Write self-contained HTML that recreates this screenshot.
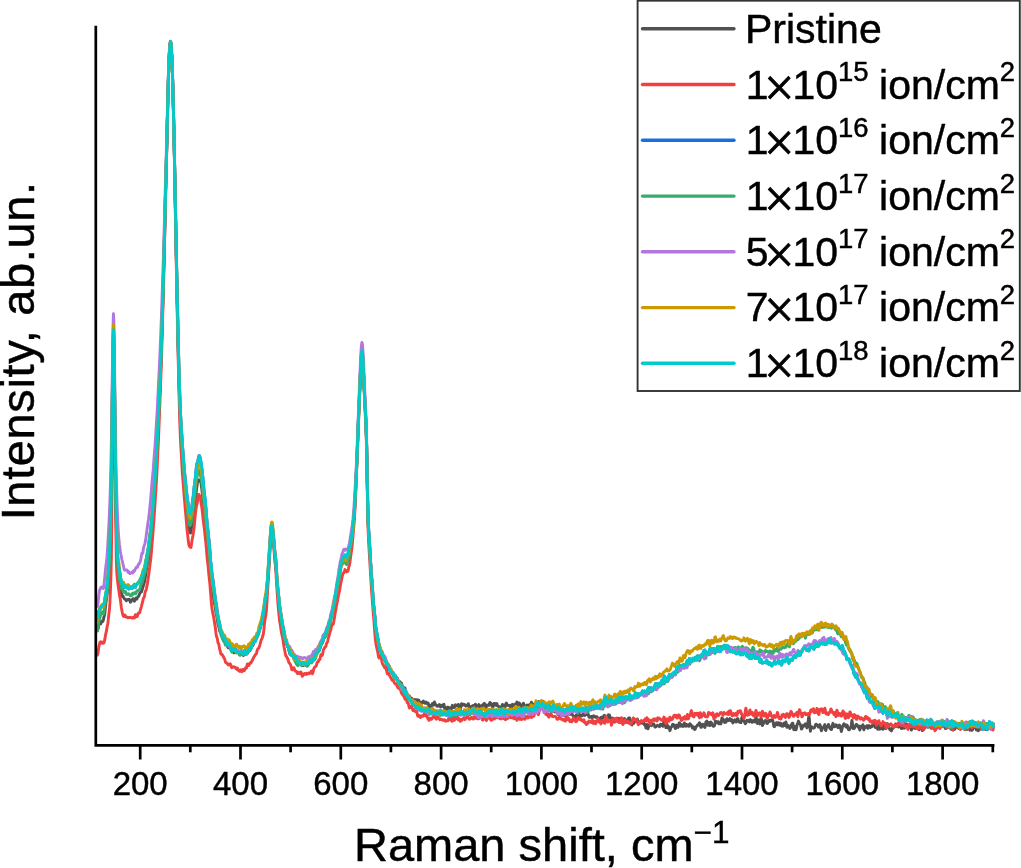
<!DOCTYPE html>
<html lang="en">
<head>
<meta charset="utf-8">
<title>Raman spectra</title>
<style>
html,body{margin:0;padding:0;background:#fff;}
body{width:1021px;height:868px;overflow:hidden;font-family:"Liberation Sans",sans-serif;}
svg{display:block;}
svg text{font-family:"Liberation Sans",sans-serif;fill:#000;stroke:#000;stroke-width:0.45px;}
.curves path{fill:none;stroke-width:2.9;stroke-linejoin:round;stroke-linecap:round;}
.axis line,.axis path{stroke:#000;stroke-width:2.7;fill:none;stroke-linecap:butt;}
.ticklabels text{font-size:33px;}
.legend text{font-size:41px;}
.legend .sup{font-size:27.5px;}
.legend .mul{font-size:54px;font-family:"Liberation Serif",serif;stroke-width:0.8px;}
.title{font-size:47px;}
.title .sup{font-size:31.5px;}
</style>
</head>
<body>
<svg width="1021" height="868" viewBox="0 0 1021 868">
<rect x="0" y="0" width="1021" height="868" fill="#ffffff"/>
<g class="curves">
<path d="M97.4,630.9 97.9,629.4 98.4,626.9 98.9,624.6 99.4,622.8 99.9,622.0 100.4,623.1 100.9,623.6 101.4,621.9 101.9,621.0 102.4,621.6 102.9,621.4 103.4,619.6 103.9,617.1 104.4,615.3 104.9,612.4 105.4,607.5 105.9,603.2 106.4,599.5 106.9,595.5 107.4,591.7 107.9,587.3 108.4,581.4 108.9,574.8 109.4,567.0 109.9,553.8 110.4,534.7 110.9,511.9 111.4,482.2 111.9,442.8 112.4,397.6 112.9,357.4 113.4,336.6 113.9,346.8 114.4,382.7 114.9,427.0 115.4,469.9 115.9,505.6 116.4,531.9 116.9,551.8 117.4,565.1 117.9,571.3 118.4,574.4 118.9,579.0 119.4,583.5 119.9,585.8 120.4,589.0 120.9,591.3 121.4,593.3 121.9,596.3 122.4,596.6 122.9,595.7 123.4,597.0 123.9,598.2 124.4,598.6 124.9,599.1 125.4,599.4 125.9,600.4 126.4,600.7 126.9,599.7 127.4,599.5 127.9,599.8 128.4,599.7 128.9,599.2 129.4,599.5 129.9,600.8 130.4,602.2 130.9,601.8 131.4,599.8 131.9,599.7 132.4,599.9 132.9,598.7 133.4,598.9 133.9,600.3 134.4,601.2 134.9,600.5 135.4,599.0 135.9,598.1 136.4,598.6 136.9,599.0 137.4,597.6 137.9,596.6 138.4,596.5 138.9,595.7 139.4,594.2 139.9,593.0 140.4,592.4 140.9,592.1 141.4,592.0 141.9,590.6 142.4,588.7 142.9,587.1 143.4,585.5 143.9,584.2 144.4,582.3 144.9,579.5 145.4,576.5 145.9,573.7 146.4,569.6 146.9,566.3 147.4,564.5 147.9,562.2 148.4,560.7 148.9,558.2 149.4,552.8 149.9,547.9 150.4,544.6 150.9,540.3 151.4,534.8 151.9,529.6 152.4,524.6 152.9,518.1 153.4,510.7 153.9,504.2 154.4,497.1 154.9,489.3 155.4,481.7 155.9,473.9 156.4,466.0 156.9,456.9 157.4,446.5 157.9,435.9 158.4,424.5 158.9,412.1 159.4,400.9 159.9,389.1 160.4,375.8 160.9,362.5 161.4,348.1 161.9,333.1 162.4,317.2 162.9,300.5 163.4,281.6 163.9,261.8 164.4,243.7 164.9,223.6 165.4,200.8 165.9,180.2 166.4,160.7 166.9,140.6 167.4,118.9 167.9,97.7 168.4,78.6 168.9,62.9 169.4,50.9 169.9,44.1 170.4,42.4 170.9,44.1 171.4,49.8 171.9,59.1 172.4,72.0 172.9,89.1 173.4,109.4 173.9,131.9 174.4,156.6 174.9,182.6 175.4,208.6 175.9,236.2 176.4,263.8 176.9,288.2 177.4,311.9 177.9,336.7 178.4,358.7 178.9,377.1 179.4,394.9 179.9,410.6 180.4,423.5 180.9,434.7 181.4,443.2 181.9,450.3 182.4,458.5 182.9,466.5 183.4,473.3 183.9,479.2 184.4,484.4 184.9,490.8 185.4,497.8 185.9,503.2 186.4,508.2 186.9,513.1 187.4,517.3 187.9,521.7 188.4,525.9 188.9,528.5 189.4,530.4 189.9,532.2 190.4,533.1 190.9,532.0 191.4,529.2 191.9,525.1 192.4,521.8 192.9,519.9 193.4,516.4 193.9,511.5 194.4,507.5 194.9,503.7 195.4,499.6 195.9,494.8 196.4,490.4 196.9,486.6 197.4,482.7 197.9,480.8 198.4,480.0 198.9,480.0 199.4,481.2 199.9,481.3 200.4,480.2 200.9,482.0 201.4,486.3 201.9,489.8 202.4,494.4 202.9,499.0 203.4,501.7 203.9,505.8 204.4,512.0 204.9,517.0 205.4,521.2 205.9,525.7 206.4,530.0 206.9,534.9 207.4,540.6 207.9,544.9 208.4,549.3 208.9,554.9 209.4,559.6 209.9,565.1 210.4,572.2 210.9,576.8 211.4,581.0 211.9,585.2 212.4,589.2 212.9,592.4 213.4,596.0 213.9,600.4 214.4,603.5 214.9,605.4 215.4,608.9 215.9,612.4 216.4,614.5 216.9,616.7 217.4,620.2 217.9,623.8 218.4,625.6 218.9,627.2 219.4,629.4 219.9,631.8 220.4,631.9 220.9,631.6 221.4,632.8 221.9,633.0 222.4,633.6 222.9,637.4 223.4,640.8 223.9,640.8 224.4,640.0 224.9,641.5 225.4,643.8 225.9,644.6 226.4,644.6 226.9,645.2 227.4,646.2 227.9,647.4 228.4,647.8 228.9,647.3 229.4,647.1 229.9,647.8 230.4,648.7 230.9,649.0 231.4,648.5 231.9,648.9 232.4,649.2 232.9,649.8 233.4,652.2 233.9,652.8 234.4,651.7 234.9,652.0 235.4,651.1 235.9,649.6 236.4,651.0 236.9,652.3 237.4,652.0 237.9,651.5 238.4,651.9 238.9,653.2 239.4,654.3 239.9,654.1 240.4,654.2 240.9,654.6 241.4,653.5 241.9,652.0 242.4,652.3 242.9,654.6 243.4,655.5 243.9,655.0 244.4,654.4 244.9,653.8 245.4,653.2 245.9,652.6 246.4,652.3 246.9,652.9 247.4,653.5 247.9,652.6 248.4,650.8 248.9,649.5 249.4,649.6 249.9,650.6 250.4,649.8 250.9,648.0 251.4,646.3 251.9,645.2 252.4,645.6 252.9,645.6 253.4,644.2 253.9,642.8 254.4,642.1 254.9,640.6 255.4,638.7 255.9,637.7 256.4,637.4 256.9,636.7 257.4,635.4 257.9,634.9 258.4,634.2 258.9,631.4 259.4,629.1 259.9,628.1 260.4,626.2 260.9,624.1 261.4,623.8 261.9,622.8 262.4,619.1 262.9,615.2 263.4,612.2 263.9,609.2 264.4,604.9 264.9,602.2 265.4,600.9 265.9,598.3 266.4,596.2 266.9,592.8 267.4,586.2 267.9,579.6 268.4,572.7 268.9,563.7 269.4,554.6 269.9,546.3 270.4,540.1 270.9,535.5 271.4,530.8 271.9,528.0 272.4,528.9 272.9,533.1 273.4,538.7 273.9,544.6 274.4,551.0 274.9,557.0 275.4,559.6 275.9,565.3 276.4,572.7 276.9,579.8 277.4,587.5 277.9,594.3 278.4,598.8 278.9,601.6 279.4,604.9 279.9,608.8 280.4,611.4 280.9,615.1 281.4,620.5 281.9,623.9 282.4,625.2 282.9,626.7 283.4,629.8 283.9,633.3 284.4,637.5 284.9,640.9 285.4,641.2 285.9,640.8 286.4,642.1 286.9,644.3 287.4,645.7 287.9,646.6 288.4,647.9 288.9,649.5 289.4,652.0 289.9,654.1 290.4,654.3 290.9,654.2 291.4,655.0 291.9,655.6 292.4,655.9 292.9,656.2 293.4,656.0 293.9,657.1 294.4,659.3 294.9,660.2 295.4,661.0 295.9,661.0 296.4,659.7 296.9,660.1 297.4,661.9 297.9,662.5 298.4,662.8 298.9,663.6 299.4,663.1 299.9,661.7 300.4,662.3 300.9,664.0 301.4,663.5 301.9,662.8 302.4,664.4 302.9,665.6 303.4,665.1 303.9,663.9 304.4,662.7 304.9,663.6 305.4,665.3 305.9,665.2 306.4,664.4 306.9,663.4 307.4,662.1 307.9,661.1 308.4,661.9 308.9,662.5 309.4,661.9 309.9,662.4 310.4,661.9 310.9,660.2 311.4,659.7 311.9,659.8 312.4,659.6 312.9,658.8 313.4,658.0 313.9,657.4 314.4,656.2 314.9,655.5 315.4,656.2 315.9,655.7 316.4,653.8 316.9,653.0 317.4,652.1 317.9,651.4 318.4,651.4 318.9,650.9 319.4,650.0 319.9,648.3 320.4,646.9 320.9,645.5 321.4,644.2 321.9,643.7 322.4,642.8 322.9,641.7 323.4,639.8 323.9,637.9 324.4,637.2 324.9,637.1 325.4,636.0 325.9,633.9 326.4,631.9 326.9,630.6 327.4,629.9 327.9,627.7 328.4,625.7 328.9,626.0 329.4,625.2 329.9,621.8 330.4,619.4 330.9,617.9 331.4,616.5 331.9,615.0 332.4,612.4 332.9,610.2 333.4,608.4 333.9,605.7 334.4,602.9 334.9,599.4 335.4,595.4 335.9,593.7 336.4,593.0 336.9,590.1 337.4,586.5 337.9,583.5 338.4,580.5 338.9,578.3 339.4,575.7 339.9,570.6 340.4,566.5 340.9,564.4 341.4,563.6 341.9,563.9 342.4,562.7 342.9,559.6 343.4,557.7 343.9,558.7 344.4,558.7 344.9,557.4 345.4,558.2 345.9,559.7 346.4,560.3 346.9,559.6 347.4,558.2 347.9,556.4 348.4,555.7 348.9,555.7 349.4,553.3 349.9,549.1 350.4,544.8 350.9,541.4 351.4,539.5 351.9,537.1 352.4,533.4 352.9,528.5 353.4,523.0 353.9,517.5 354.4,511.8 354.9,505.4 355.4,496.7 355.9,484.7 356.4,472.5 356.9,460.6 357.4,447.5 357.9,434.0 358.4,421.3 358.9,409.4 359.4,398.3 359.9,386.9 360.4,374.4 360.9,362.9 361.4,355.2 361.9,352.2 362.4,353.8 362.9,359.5 363.4,369.2 363.9,380.9 364.4,392.3 364.9,402.2 365.4,411.1 365.9,421.8 366.4,435.5 366.9,458.2 367.4,489.0 367.9,515.3 368.4,528.3 368.9,536.6 369.4,543.3 369.9,550.6 370.4,559.6 370.9,568.1 371.4,575.4 371.9,581.9 372.4,589.4 372.9,597.2 373.4,602.9 373.9,608.1 374.4,612.7 374.9,618.0 375.4,625.1 375.9,630.4 376.4,633.7 376.9,636.3 377.4,638.2 377.9,640.7 378.4,643.6 378.9,645.5 379.4,646.2 379.9,647.1 380.4,650.0 380.9,653.0 381.4,654.1 381.9,653.8 382.4,654.1 382.9,656.3 383.4,656.4 383.9,656.0 384.4,657.7 384.9,658.4 385.4,659.0 385.9,661.7 386.4,664.0 386.9,664.6 387.4,666.1 387.9,668.7 388.4,669.3 388.9,668.3 389.4,667.7 389.9,667.7 390.4,669.0 390.9,671.2 391.4,672.3 391.9,673.1 392.4,673.7 392.9,673.5 393.4,674.4 393.9,676.2 394.4,677.3 394.9,678.1 395.4,678.0 395.9,678.0 396.4,678.3 396.9,677.7 397.4,678.2 397.9,680.5 398.4,681.9 398.9,681.6 399.4,681.2 399.9,682.1 400.4,683.1 400.9,682.7 401.4,682.8 401.9,685.4 402.4,688.1 402.9,688.3 403.4,688.0 403.9,689.1 404.4,689.0 404.9,687.8 405.4,689.8 405.9,692.6 406.4,694.3 406.9,695.9 407.4,696.0 407.9,695.5 408.4,695.9 408.9,696.2 409.4,695.9 409.9,696.7 410.4,699.0 410.9,700.0 411.4,698.7 411.9,698.3 412.4,699.6 412.9,700.6 413.4,701.0 413.9,700.9 414.4,699.8 414.9,699.6 415.4,700.8 415.9,702.3 416.4,701.9 416.9,699.7 417.4,699.8 417.9,701.1 418.4,700.3 418.9,700.3 419.4,702.4 419.9,703.3 420.4,702.6 420.9,702.4 421.4,702.9 421.9,703.2 422.4,702.9 422.9,701.5 423.4,701.1 423.9,702.0 424.4,702.4 424.9,703.3 425.4,703.1 425.9,702.1 426.4,702.4 426.9,703.4 427.4,703.8 427.9,703.0 428.4,703.4 428.9,706.2 429.4,708.3 429.9,707.7 430.4,705.5 430.9,705.5 431.4,706.2 431.9,704.7 432.4,703.5 432.9,704.6 433.4,705.0 433.9,703.3 434.4,701.9 434.9,703.0 435.4,704.8 435.9,704.9 436.4,705.1 436.9,706.2 437.4,706.4 437.9,706.1 438.4,705.8 438.9,705.1 439.4,704.6 439.9,705.4 440.4,707.0 440.9,706.6 441.4,705.3 441.9,705.5 442.4,706.5 442.9,706.3 443.4,704.5 443.9,704.3 444.4,707.1 444.9,710.1 445.4,709.3 445.9,707.6 446.4,708.8 446.9,709.5 447.4,707.6 447.9,707.0 448.4,708.4 448.9,708.6 449.4,707.7 449.9,707.8 450.4,709.9 450.9,710.4 451.4,709.0 451.9,706.8 452.4,705.3 452.9,706.3 453.4,707.3 453.9,707.7 454.4,707.7 454.9,705.8 455.4,704.8 455.9,705.8 456.4,705.9 456.9,705.6 457.4,705.6 457.9,704.6 458.4,704.5 458.9,706.9 459.4,708.3 459.9,709.3 460.4,709.6 460.9,706.7 461.4,703.9 461.9,703.7 462.4,704.2 462.9,705.2 463.4,705.0 463.9,704.3 464.4,704.7 464.9,704.9 465.4,705.7 465.9,706.2 466.4,705.8 466.9,705.6 467.4,705.2 467.9,704.1 468.4,703.7 468.9,706.2 469.4,709.5 469.9,710.3 470.4,709.2 470.9,707.2 471.4,706.4 471.9,707.2 472.4,706.7 472.9,705.6 473.4,705.5 473.9,705.5 474.4,705.3 474.9,704.8 475.4,704.2 475.9,706.0 476.4,708.2 476.9,706.9 477.4,705.7 477.9,706.6 478.4,706.2 478.9,704.6 479.4,705.3 479.9,706.8 480.4,706.6 480.9,706.9 481.4,707.2 481.9,705.8 482.4,705.0 482.9,706.0 483.4,705.9 483.9,703.8 484.4,703.3 484.9,705.0 485.4,706.5 485.9,707.6 486.4,706.7 486.9,705.1 487.4,705.4 487.9,705.4 488.4,705.0 488.9,705.4 489.4,703.7 489.9,702.4 490.4,703.1 490.9,703.3 491.4,704.3 491.9,706.0 492.4,707.3 492.9,707.7 493.4,705.6 493.9,703.4 494.4,703.4 494.9,703.5 495.4,704.1 495.9,705.2 496.4,704.1 496.9,703.5 497.4,705.4 497.9,706.4 498.4,706.3 498.9,706.6 499.4,706.8 499.9,707.1 500.4,707.7 500.9,707.4 501.4,706.9 501.9,705.8 502.4,704.4 502.9,704.7 503.4,705.7 503.9,705.3 504.4,705.5 504.9,707.2 505.4,706.4 505.9,703.6 506.4,703.0 506.9,704.6 507.4,705.3 507.9,705.1 508.4,705.3 508.9,705.6 509.4,705.8 509.9,705.4 510.4,706.1 510.9,708.7 511.4,709.1 511.9,706.0 512.4,704.3 512.9,705.1 513.4,705.7 513.9,704.7 514.4,704.6 514.9,705.0 515.4,704.1 515.9,703.8 516.4,703.4 516.9,702.1 517.4,702.5 517.9,704.5 518.4,705.5 518.9,704.5 519.4,703.1 519.9,704.5 520.4,706.7 520.9,706.7 521.4,705.3 521.9,704.8 522.4,705.4 522.9,704.5 523.4,703.2 523.9,704.7 524.4,706.9 524.9,707.3 525.4,706.6 525.9,706.1 526.4,705.8 526.9,705.0 527.4,706.2 527.9,708.6 528.4,707.3 528.9,704.9 529.4,704.8 529.9,706.1 530.4,706.3 530.9,703.9 531.4,702.2 531.9,703.3 532.4,704.5 532.9,705.5 533.4,706.3 533.9,705.9 534.4,704.6 534.9,703.5 535.4,705.2 535.9,706.8 536.4,705.4 536.9,703.6 537.4,703.9 537.9,703.9 538.4,701.9 538.9,701.5 539.4,702.8 539.9,702.7 540.4,702.0 540.9,701.9 541.4,702.1 541.9,702.3 542.4,701.9 542.9,701.4 543.4,703.0 543.9,704.0 544.4,703.1 544.9,703.7 545.4,704.5 545.9,704.0 546.4,704.0 546.9,704.9 547.4,707.9 547.9,710.8 548.4,710.0 548.9,707.9 549.4,707.6 549.9,707.8 550.4,708.6 550.9,709.0 551.4,708.2 551.9,709.1 552.4,710.5 552.9,711.2 553.4,710.5 553.9,709.6 554.4,710.9 554.9,712.0 555.4,712.0 555.9,711.8 556.4,710.1 556.9,709.6 557.4,712.6 557.9,714.2 558.4,713.6 558.9,714.1 559.4,714.5 559.9,713.4 560.4,712.7 560.9,714.2 561.4,714.8 561.9,714.2 562.4,714.8 562.9,713.9 563.4,713.7 563.9,715.5 564.4,714.6 564.9,712.8 565.4,714.0 565.9,716.4 566.4,716.5 566.9,715.1 567.4,715.3 567.9,715.3 568.4,714.5 568.9,714.6 569.4,714.4 569.9,713.6 570.4,713.7 570.9,714.4 571.4,714.3 571.9,713.6 572.4,714.4 572.9,715.9 573.4,716.1 573.9,716.6 574.4,717.0 574.9,717.5 575.4,717.3 575.9,715.5 576.4,714.9 576.9,715.9 577.4,717.8 577.9,716.7 578.4,712.6 578.9,712.6 579.4,715.3 579.9,716.5 580.4,716.0 580.9,715.3 581.4,715.6 581.9,715.7 582.4,715.7 582.9,714.6 583.4,713.0 583.9,713.6 584.4,714.6 584.9,715.4 585.4,714.8 585.9,714.1 586.4,714.5 586.9,713.8 587.4,712.6 587.9,712.9 588.4,714.8 588.9,716.9 589.4,717.2 589.9,716.9 590.4,717.2 590.9,716.6 591.4,716.4 591.9,717.5 592.4,717.8 592.9,716.5 593.4,715.9 593.9,716.3 594.4,716.2 594.9,716.4 595.4,717.4 595.9,717.4 596.4,716.9 596.9,716.7 597.4,717.4 597.9,717.8 598.4,718.4 598.9,720.0 599.4,720.4 599.9,720.7 600.4,719.6 600.9,717.3 601.4,717.2 601.9,718.2 602.4,718.3 602.9,717.9 603.4,716.6 603.9,715.5 604.4,715.3 604.9,715.5 605.4,716.9 605.9,717.2 606.4,716.9 606.9,717.9 607.4,717.8 607.9,715.8 608.4,714.8 608.9,714.9 609.4,714.9 609.9,717.3 610.4,719.6 610.9,719.0 611.4,718.3 611.9,717.9 612.4,718.4 612.9,718.9 613.4,719.3 613.9,721.1 614.4,722.1 614.9,720.8 615.4,719.1 615.9,718.7 616.4,719.5 616.9,720.2 617.4,720.6 617.9,721.3 618.4,720.7 618.9,718.3 619.4,718.8 619.9,720.7 620.4,719.7 620.9,718.7 621.4,718.4 621.9,718.4 622.4,721.1 622.9,724.3 623.4,722.7 623.9,719.2 624.4,718.5 624.9,720.2 625.4,721.2 625.9,719.9 626.4,719.9 626.9,722.1 627.4,722.3 627.9,720.3 628.4,718.4 628.9,717.9 629.4,717.8 629.9,718.4 630.4,720.4 630.9,721.3 631.4,722.8 631.9,725.0 632.4,723.5 632.9,721.5 633.4,722.8 633.9,723.3 634.4,721.0 634.9,720.1 635.4,720.2 635.9,720.9 636.4,721.5 636.9,719.4 637.4,719.1 637.9,721.2 638.4,722.1 638.9,722.8 639.4,723.0 639.9,723.4 640.4,722.8 640.9,721.0 641.4,721.3 641.9,722.4 642.4,723.3 642.9,723.3 643.4,722.2 643.9,722.9 644.4,724.8 644.9,724.6 645.4,724.9 645.9,728.0 646.4,727.8 646.9,724.4 647.4,725.8 647.9,728.8 648.4,727.7 648.9,725.7 649.4,724.6 649.9,724.2 650.4,724.3 650.9,724.9 651.4,725.7 651.9,725.1 652.4,723.8 652.9,723.6 653.4,724.0 653.9,724.2 654.4,725.4 654.9,727.0 655.4,727.0 655.9,726.7 656.4,726.4 656.9,725.8 657.4,725.3 657.9,725.6 658.4,725.7 658.9,725.6 659.4,726.7 659.9,726.1 660.4,724.4 660.9,724.2 661.4,724.6 661.9,725.0 662.4,725.7 662.9,726.3 663.4,724.0 663.9,721.8 664.4,722.1 664.9,722.7 665.4,725.2 665.9,727.6 666.4,726.5 666.9,724.0 667.4,725.2 667.9,727.9 668.4,727.5 668.9,726.8 669.4,728.9 669.9,730.7 670.4,729.3 670.9,727.2 671.4,726.9 671.9,726.6 672.4,724.9 672.9,724.2 673.4,724.7 673.9,724.7 674.4,725.3 674.9,727.6 675.4,728.6 675.9,726.4 676.4,725.2 676.9,726.0 677.4,727.2 677.9,727.4 678.4,725.6 678.9,723.6 679.4,722.8 679.9,724.2 680.4,726.2 680.9,725.9 681.4,724.6 681.9,725.0 682.4,726.3 682.9,726.5 683.4,725.6 683.9,724.3 684.4,722.9 684.9,724.6 685.4,726.2 685.9,724.2 686.4,724.5 686.9,726.1 687.4,725.4 687.9,724.9 688.4,725.7 688.9,726.2 689.4,724.9 689.9,723.7 690.4,724.3 690.9,724.7 691.4,725.2 691.9,726.7 692.4,727.9 692.9,727.6 693.4,726.8 693.9,728.0 694.4,729.2 694.9,729.5 695.4,728.7 695.9,726.8 696.4,726.4 696.9,726.2 697.4,724.9 697.9,725.0 698.4,725.1 698.9,723.9 699.4,722.7 699.9,723.4 700.4,725.6 700.9,727.4 701.4,727.3 701.9,725.8 702.4,724.4 702.9,724.2 703.4,724.9 703.9,725.3 704.4,726.7 704.9,727.5 705.4,724.8 705.9,722.0 706.4,721.4 706.9,721.1 707.4,722.6 707.9,725.2 708.4,724.2 708.9,722.5 709.4,724.5 709.9,725.6 710.4,723.5 710.9,722.1 711.4,722.7 711.9,723.9 712.4,725.0 712.9,725.9 713.4,726.2 713.9,726.2 714.4,725.8 714.9,723.5 715.4,720.9 715.9,721.5 716.4,722.5 716.9,722.7 717.4,723.0 717.9,721.7 718.4,721.6 718.9,723.8 719.4,723.9 719.9,723.2 720.4,723.9 720.9,723.9 721.4,721.1 721.9,717.9 722.4,718.5 722.9,719.5 723.4,719.7 723.9,721.5 724.4,722.4 724.9,720.3 725.4,720.3 725.9,722.3 726.4,720.5 726.9,718.7 727.4,720.2 727.9,720.6 728.4,720.1 728.9,720.4 729.4,719.3 729.9,718.6 730.4,720.1 730.9,720.6 731.4,719.7 731.9,719.7 732.4,721.7 732.9,722.9 733.4,721.5 733.9,720.9 734.4,720.3 734.9,719.8 735.4,721.0 735.9,722.0 736.4,722.0 736.9,720.4 737.4,718.6 737.9,718.7 738.4,720.3 738.9,721.7 739.4,722.2 739.9,721.9 740.4,722.5 740.9,722.6 741.4,720.1 741.9,717.2 742.4,716.4 742.9,718.3 743.4,720.7 743.9,720.9 744.4,721.7 744.9,723.1 745.4,723.7 745.9,722.9 746.4,720.9 746.9,720.3 747.4,720.7 747.9,720.6 748.4,720.2 748.9,721.5 749.4,721.9 749.9,719.9 750.4,719.6 750.9,720.2 751.4,721.4 751.9,722.4 752.4,722.3 752.9,721.2 753.4,720.4 753.9,721.4 754.4,721.7 754.9,721.9 755.4,720.3 755.9,717.5 756.4,718.7 756.9,722.1 757.4,723.6 757.9,722.6 758.4,720.4 758.9,719.9 759.4,722.8 759.9,724.0 760.4,721.6 760.9,719.1 761.4,718.8 761.9,722.6 762.4,725.5 762.9,724.5 763.4,723.5 763.9,722.0 764.4,721.1 764.9,721.6 765.4,720.5 765.9,720.7 766.4,722.6 766.9,723.6 767.4,723.6 767.9,722.6 768.4,720.8 768.9,720.5 769.4,721.6 769.9,721.3 770.4,720.1 770.9,720.5 771.4,720.8 771.9,720.0 772.4,719.8 772.9,721.1 773.4,723.8 773.9,726.6 774.4,726.7 774.9,723.6 775.4,723.6 775.9,724.8 776.4,722.8 776.9,722.8 777.4,724.8 777.9,724.4 778.4,722.7 778.9,723.0 779.4,725.2 779.9,725.1 780.4,723.1 780.9,723.5 781.4,725.9 781.9,726.1 782.4,725.4 782.9,726.2 783.4,725.4 783.9,723.2 784.4,724.1 784.9,725.4 785.4,723.5 785.9,721.9 786.4,724.1 786.9,727.4 787.4,726.6 787.9,725.3 788.4,726.8 788.9,726.4 789.4,726.8 789.9,728.5 790.4,727.8 790.9,725.5 791.4,724.4 791.9,725.0 792.4,723.2 792.9,723.4 793.4,728.1 793.9,729.7 794.4,727.8 794.9,726.5 795.4,728.0 795.9,729.8 796.4,728.7 796.9,725.7 797.4,723.7 797.9,722.9 798.4,721.1 798.9,721.7 799.4,723.8 799.9,724.1 800.4,724.5 800.9,726.6 801.4,729.0 801.9,728.7 802.4,727.3 802.9,726.8 803.4,725.2 803.9,725.4 804.4,726.0 804.9,724.6 805.4,723.7 805.9,724.0 806.4,726.4 806.9,727.9 807.4,726.4 807.9,723.3 808.4,718.8 808.9,716.3 809.4,719.4 809.9,727.3 810.4,731.3 810.9,728.5 811.4,726.6 811.9,727.1 812.4,727.5 812.9,728.0 813.4,728.2 813.9,728.1 814.4,727.8 814.9,726.5 815.4,725.0 815.9,724.2 816.4,724.4 816.9,724.9 817.4,725.4 817.9,725.9 818.4,727.1 818.9,727.0 819.4,725.1 819.9,724.5 820.4,725.9 820.9,728.8 821.4,730.8 821.9,729.4 822.4,728.3 822.9,727.9 823.4,727.1 823.9,727.7 824.4,725.3 824.9,724.6 825.4,729.9 825.9,730.4 826.4,726.8 826.9,726.4 827.4,726.9 827.9,725.9 828.4,724.4 828.9,725.2 829.4,727.2 829.9,728.3 830.4,728.7 830.9,729.4 831.4,729.6 831.9,727.5 832.4,725.2 832.9,723.3 833.4,724.5 833.9,726.9 834.4,726.6 834.9,726.6 835.4,726.1 835.9,724.8 836.4,724.9 836.9,725.2 837.4,726.0 837.9,727.7 838.4,727.5 838.9,725.5 839.4,725.0 839.9,726.2 840.4,727.3 840.9,729.7 841.4,731.5 841.9,729.5 842.4,726.9 842.9,725.6 843.4,724.5 843.9,723.8 844.4,724.1 844.9,724.9 845.4,726.1 845.9,726.9 846.4,726.2 846.9,725.0 847.4,725.7 847.9,728.2 848.4,729.5 848.9,729.8 849.4,729.8 849.9,728.9 850.4,727.6 850.9,727.0 851.4,724.2 851.9,720.4 852.4,722.8 852.9,727.8 853.4,728.7 853.9,728.6 854.4,728.2 854.9,726.6 855.4,725.8 855.9,724.9 856.4,724.3 856.9,724.8 857.4,725.8 857.9,726.8 858.4,726.1 858.9,726.0 859.4,729.0 859.9,730.0 860.4,728.0 860.9,726.3 861.4,726.3 861.9,727.3 862.4,726.1 862.9,724.7 863.4,728.3 863.9,729.8 864.4,726.5 864.9,726.7 865.4,727.5 865.9,727.4 866.4,727.4 866.9,725.7 867.4,726.7 867.9,728.4 868.4,726.8 868.9,725.6 869.4,725.9 869.9,726.9 870.4,727.6 870.9,726.8 871.4,726.1 871.9,725.7 872.4,726.4 872.9,724.8 873.4,722.5 873.9,723.7 874.4,724.6 874.9,726.2 875.4,727.6 875.9,725.2 876.4,725.2 876.9,728.0 877.4,728.9 877.9,729.2 878.4,727.6 878.9,725.5 879.4,726.8 879.9,729.2 880.4,729.0 880.9,727.5 881.4,726.8 881.9,726.2 882.4,727.3 882.9,729.3 883.4,727.5 883.9,724.9 884.4,725.9 884.9,728.1 885.4,728.4 885.9,726.8 886.4,725.9 886.9,725.3 887.4,723.6 887.9,724.5 888.4,727.0 888.9,727.3 889.4,728.2 889.9,729.7 890.4,729.1 890.9,729.3 891.4,730.9 891.9,729.5 892.4,727.7 892.9,728.4 893.4,727.8 893.9,726.4 894.4,726.6 894.9,725.6 895.4,724.1 895.9,725.4 896.4,726.4 896.9,725.2 897.4,724.3 897.9,725.5 898.4,727.1 898.9,726.6 899.4,726.2 899.9,726.5 900.4,725.8 900.9,727.0 901.4,728.6 901.9,726.9 902.4,726.8 902.9,728.2 903.4,727.3 903.9,726.7 904.4,728.2 904.9,727.4 905.4,724.2 905.9,723.7 906.4,724.4 906.9,724.3 907.4,724.6 907.9,725.6 908.4,726.5 908.9,726.3 909.4,727.1 909.9,727.4 910.4,726.6 910.9,728.2 911.4,730.1 911.9,728.5 912.4,726.5 912.9,726.0 913.4,726.1 913.9,727.7 914.4,728.2 914.9,726.6 915.4,727.2 915.9,728.4 916.4,727.5 916.9,726.4 917.4,725.3 917.9,724.9 918.4,727.5 918.9,729.8 919.4,727.9 919.9,725.8 920.4,726.0 920.9,727.1 921.4,728.3 921.9,729.6 922.4,730.6 922.9,730.2 923.4,729.8 923.9,729.2 924.4,727.3 924.9,725.5 925.4,726.0 925.9,726.9 926.4,725.3 926.9,724.6 927.4,726.7 927.9,727.1 928.4,726.2 928.9,726.4 929.4,727.1 929.9,726.8 930.4,725.1 930.9,725.2 931.4,727.2 931.9,727.5 932.4,726.4 932.9,725.6 933.4,725.6 933.9,727.5 934.4,728.2 934.9,727.7 935.4,729.4 935.9,729.3 936.4,727.8 936.9,727.0 937.4,724.4 937.9,722.7 938.4,723.8 938.9,725.5 939.4,726.1 939.9,726.4 940.4,725.5 940.9,724.6 941.4,725.4 941.9,725.1 942.4,725.0 942.9,725.3 943.4,724.3 943.9,723.7 944.4,724.8 944.9,727.0 945.4,728.6 945.9,727.8 946.4,725.7 946.9,724.7 947.4,725.7 947.9,725.8 948.4,725.5 948.9,727.2 949.4,726.9 949.9,726.0 950.4,728.0 950.9,729.3 951.4,729.3 951.9,729.2 952.4,729.2 952.9,730.1 953.4,729.9 953.9,729.1 954.4,729.4 954.9,728.6 955.4,726.8 955.9,725.7 956.4,726.7 956.9,727.2 957.4,726.4 957.9,727.5 958.4,728.4 958.9,726.3 959.4,724.1 959.9,725.9 960.4,727.6 960.9,726.6 961.4,725.0 961.9,724.3 962.4,726.0 962.9,727.4 963.4,726.7 963.9,725.6 964.4,726.7 964.9,728.0 965.4,727.5 965.9,726.0 966.4,727.3 966.9,729.5 967.4,727.1 967.9,725.3 968.4,725.5 968.9,726.3 969.4,729.5 969.9,730.1 970.4,726.1 970.9,725.0 971.4,728.5 971.9,730.3 972.4,730.1 972.9,728.8 973.4,726.6 973.9,725.2 974.4,723.9 974.9,724.7 975.4,727.0 975.9,728.6 976.4,730.1 976.9,728.5 977.4,726.8 977.9,729.2 978.4,730.8 978.9,728.3 979.4,725.9 979.9,727.8 980.4,729.1 980.9,726.8 981.4,726.3 981.9,728.1 982.4,727.2 982.9,725.3 983.4,725.1 983.9,725.9 984.4,727.0 984.9,728.3 985.4,729.4 985.9,727.8 986.4,725.6 986.9,727.2 987.4,729.0 987.9,729.2 988.4,728.5 988.9,726.3 989.4,725.9 989.9,726.9 990.4,724.5 990.9,723.8 991.4,726.4 991.9,726.5 992.4,725.0 992.9,723.7 993.4,724.0" stroke="#515151"/>
<path d="M97.4,655.2 97.9,653.2 98.4,650.1 98.9,646.6 99.4,644.5 99.9,642.5 100.4,641.9 100.9,642.7 101.4,642.0 101.9,642.0 102.4,643.4 102.9,643.3 103.4,643.0 103.9,642.9 104.4,641.4 104.9,638.9 105.4,635.8 105.9,633.2 106.4,631.2 106.9,628.1 107.4,625.5 107.9,623.3 108.4,618.6 108.9,613.7 109.4,610.1 109.9,602.9 110.4,591.1 110.9,577.0 111.4,556.1 111.9,505.1 112.4,441.8 112.9,383.8 113.4,354.5 113.9,365.0 114.4,402.1 114.9,450.2 115.4,496.0 115.9,533.3 116.4,561.7 116.9,574.7 117.4,578.9 117.9,584.1 118.4,587.2 118.9,590.8 119.4,594.6 119.9,597.1 120.4,599.8 120.9,603.8 121.4,607.8 121.9,610.4 122.4,612.8 122.9,614.9 123.4,616.2 123.9,616.4 124.4,615.2 124.9,614.9 125.4,616.2 125.9,616.9 126.4,617.0 126.9,617.0 127.4,617.5 127.9,617.8 128.4,617.6 128.9,617.5 129.4,617.4 129.9,617.3 130.4,617.6 130.9,617.6 131.4,617.7 131.9,618.1 132.4,618.0 132.9,617.6 133.4,617.1 133.9,617.3 134.4,618.0 134.9,616.5 135.4,614.7 135.9,614.6 136.4,615.8 136.9,616.7 137.4,616.0 137.9,614.4 138.4,613.0 138.9,612.7 139.4,613.0 139.9,612.0 140.4,609.7 140.9,608.3 141.4,606.6 141.9,604.3 142.4,602.8 142.9,600.5 143.4,598.1 143.9,597.8 144.4,596.6 144.9,593.4 145.4,591.3 145.9,590.5 146.4,588.6 146.9,586.4 147.4,583.7 147.9,580.1 148.4,576.9 148.9,573.3 149.4,569.3 149.9,565.4 150.4,561.6 150.9,557.4 151.4,551.8 151.9,545.7 152.4,540.0 152.9,533.8 153.4,526.7 153.9,519.8 154.4,512.8 154.9,505.1 155.4,497.0 155.9,489.3 156.4,482.0 156.9,472.7 157.4,461.6 157.9,451.3 158.4,441.1 158.9,428.7 159.4,415.5 159.9,402.8 160.4,389.9 160.9,376.0 161.4,361.1 161.9,345.1 162.4,327.3 162.9,308.8 163.4,290.4 163.9,271.2 164.4,250.0 164.9,228.1 165.4,207.1 165.9,186.3 166.4,165.1 166.9,143.2 167.4,120.0 167.9,99.1 168.4,80.3 168.9,64.1 169.4,52.0 169.9,44.2 170.4,41.3 170.9,44.0 171.4,49.9 171.9,58.5 172.4,72.7 172.9,91.4 173.4,112.1 173.9,134.7 174.4,160.0 174.9,187.8 175.4,216.1 175.9,243.5 176.4,270.3 176.9,296.7 177.4,321.2 177.9,344.7 178.4,368.2 178.9,389.2 179.4,407.9 179.9,425.4 180.4,438.4 180.9,446.8 181.4,455.3 181.9,465.2 182.4,473.7 182.9,479.7 183.4,485.9 183.9,492.8 184.4,498.9 184.9,504.6 185.4,510.7 185.9,515.9 186.4,521.8 186.9,528.1 187.4,532.7 187.9,537.2 188.4,541.8 188.9,544.8 189.4,546.2 189.9,546.8 190.4,547.3 190.9,547.5 191.4,545.1 191.9,541.1 192.4,538.5 192.9,535.8 193.4,532.6 193.9,529.3 194.4,524.7 194.9,519.0 195.4,513.9 195.9,509.6 196.4,506.5 196.9,504.5 197.4,502.5 197.9,498.2 198.4,494.4 198.9,494.4 199.4,495.6 199.9,496.2 200.4,498.0 200.9,501.3 201.4,504.9 201.9,508.1 202.4,512.1 202.9,517.1 203.4,521.6 203.9,525.2 204.4,529.0 204.9,533.9 205.4,538.9 205.9,543.1 206.4,549.2 206.9,555.5 207.4,560.3 207.9,564.7 208.4,569.4 208.9,575.0 209.4,579.6 209.9,584.1 210.4,590.8 210.9,596.6 211.4,603.3 211.9,608.1 212.4,611.1 212.9,613.7 213.4,615.8 213.9,618.5 214.4,622.1 214.9,625.1 215.4,628.0 215.9,632.7 216.4,636.2 216.9,637.1 217.4,639.2 217.9,642.3 218.4,643.4 218.9,644.6 219.4,647.9 219.9,650.0 220.4,651.7 220.9,654.1 221.4,654.4 221.9,654.3 222.4,655.2 222.9,655.6 223.4,656.6 223.9,658.0 224.4,658.5 224.9,659.8 225.4,661.9 225.9,662.7 226.4,662.7 226.9,663.0 227.4,663.8 227.9,664.5 228.4,664.9 228.9,665.1 229.4,664.3 229.9,663.7 230.4,664.0 230.9,665.1 231.4,667.1 231.9,667.7 232.4,667.0 232.9,666.9 233.4,667.0 233.9,666.7 234.4,667.0 234.9,667.4 235.4,667.5 235.9,668.5 236.4,669.1 236.9,668.6 237.4,668.1 237.9,669.1 238.4,670.5 238.9,670.5 239.4,671.3 239.9,671.4 240.4,669.9 240.9,669.8 241.4,671.4 241.9,671.7 242.4,669.9 242.9,669.6 243.4,670.5 243.9,670.8 244.4,670.5 244.9,669.2 245.4,667.9 245.9,667.8 246.4,668.2 246.9,666.1 247.4,663.9 247.9,664.4 248.4,665.4 248.9,665.5 249.4,663.9 249.9,662.9 250.4,663.3 250.9,663.0 251.4,661.8 251.9,661.2 252.4,660.3 252.9,658.9 253.4,658.1 253.9,657.0 254.4,656.2 254.9,655.6 255.4,654.5 255.9,654.4 256.4,653.8 256.9,651.5 257.4,649.6 257.9,648.9 258.4,648.6 258.9,647.7 259.4,646.5 259.9,644.9 260.4,642.9 260.9,640.9 261.4,639.4 261.9,638.9 262.4,637.4 262.9,635.3 263.4,633.7 263.9,629.5 264.4,624.0 264.9,620.4 265.4,617.5 265.9,615.1 266.4,610.9 266.9,603.0 267.4,594.3 267.9,585.7 268.4,577.3 268.9,569.6 269.4,561.3 269.9,552.2 270.4,544.1 270.9,536.8 271.4,533.0 271.9,533.3 272.4,534.3 272.9,536.5 273.4,541.3 273.9,548.0 274.4,555.7 274.9,562.4 275.4,565.1 275.9,571.9 276.4,580.4 276.9,588.2 277.4,596.0 277.9,603.2 278.4,608.9 278.9,614.0 279.4,619.2 279.9,622.7 280.4,625.3 280.9,629.2 281.4,632.5 281.9,634.7 282.4,636.8 282.9,639.3 283.4,642.9 283.9,646.3 284.4,648.8 284.9,651.1 285.4,654.1 285.9,655.9 286.4,656.4 286.9,657.2 287.4,658.2 287.9,659.3 288.4,661.0 288.9,662.7 289.4,663.2 289.9,663.6 290.4,664.6 290.9,665.8 291.4,667.9 291.9,669.9 292.4,669.8 292.9,668.6 293.4,667.7 293.9,667.7 294.4,669.0 294.9,670.6 295.4,671.0 295.9,671.1 296.4,671.5 296.9,672.6 297.4,673.4 297.9,672.7 298.4,672.2 298.9,673.0 299.4,673.6 299.9,672.9 300.4,672.1 300.9,672.0 301.4,672.8 301.9,675.3 302.4,676.3 302.9,675.1 303.4,675.0 303.9,674.6 304.4,673.5 304.9,673.6 305.4,673.7 305.9,674.3 306.4,674.5 306.9,673.3 307.4,673.4 307.9,673.7 308.4,673.0 308.9,673.3 309.4,673.7 309.9,673.2 310.4,673.0 310.9,671.9 311.4,670.9 311.9,672.6 312.4,673.8 312.9,672.6 313.4,670.6 313.9,668.5 314.4,667.6 314.9,666.9 315.4,666.7 315.9,666.5 316.4,665.2 316.9,663.4 317.4,662.1 317.9,661.9 318.4,661.6 318.9,660.0 319.4,659.6 319.9,659.4 320.4,656.9 320.9,654.7 321.4,654.6 321.9,655.5 322.4,655.1 322.9,652.4 323.4,649.7 323.9,648.9 324.4,648.3 324.9,647.1 325.4,647.0 325.9,646.1 326.4,644.0 326.9,642.7 327.4,642.0 327.9,640.3 328.4,638.0 328.9,636.6 329.4,634.5 329.9,632.3 330.4,631.2 330.9,629.4 331.4,626.8 331.9,624.6 332.4,624.1 332.9,624.7 333.4,623.6 333.9,620.9 334.4,617.9 334.9,614.7 335.4,612.1 335.9,609.6 336.4,606.1 336.9,603.4 337.4,601.5 337.9,598.5 338.4,595.6 338.9,593.3 339.4,591.1 339.9,588.6 340.4,585.5 340.9,582.7 341.4,580.6 341.9,578.2 342.4,575.6 342.9,574.0 343.4,573.1 343.9,572.5 344.4,571.2 344.9,569.6 345.4,569.9 345.9,571.2 346.4,571.9 346.9,571.7 347.4,571.5 347.9,571.2 348.4,569.0 348.9,566.5 349.4,565.4 349.9,562.6 350.4,558.6 350.9,555.1 351.4,551.6 351.9,548.0 352.4,543.1 352.9,537.4 353.4,531.7 353.9,525.5 354.4,518.6 354.9,510.3 355.4,500.4 355.9,487.9 356.4,475.1 356.9,463.5 357.4,451.0 357.9,438.5 358.4,426.6 358.9,413.6 359.4,400.8 359.9,388.7 360.4,376.3 360.9,364.7 361.4,357.4 361.9,355.1 362.4,357.4 362.9,363.1 363.4,372.4 363.9,384.6 364.4,396.9 364.9,407.4 365.4,417.7 365.9,429.1 366.4,442.9 366.9,465.8 367.4,496.9 367.9,524.3 368.4,537.6 368.9,546.5 369.4,555.1 369.9,563.2 370.4,571.3 370.9,579.8 371.4,588.6 371.9,595.4 372.4,601.6 372.9,608.8 373.4,614.6 373.9,620.7 374.4,627.5 374.9,634.2 375.4,639.9 375.9,643.5 376.4,646.2 376.9,648.5 377.4,650.3 377.9,653.0 378.4,656.1 378.9,658.0 379.4,657.7 379.9,656.7 380.4,655.9 380.9,655.9 381.4,658.4 381.9,661.5 382.4,663.5 382.9,664.6 383.4,665.2 383.9,665.9 384.4,667.3 384.9,668.0 385.4,667.5 385.9,667.5 386.4,669.2 386.9,672.2 387.4,673.9 387.9,673.4 388.4,673.0 388.9,674.1 389.4,675.3 389.9,676.1 390.4,677.1 390.9,677.9 391.4,678.7 391.9,679.9 392.4,680.4 392.9,680.4 393.4,680.9 393.9,681.9 394.4,683.0 394.9,683.6 395.4,683.9 395.9,683.8 396.4,684.3 396.9,685.7 397.4,686.5 397.9,687.8 398.4,688.2 398.9,687.3 399.4,687.9 399.9,689.2 400.4,689.7 400.9,690.9 401.4,692.8 401.9,693.8 402.4,694.4 402.9,695.0 403.4,695.6 403.9,696.1 404.4,697.4 404.9,698.9 405.4,699.4 405.9,699.2 406.4,699.8 406.9,701.6 407.4,702.9 407.9,703.0 408.4,703.6 408.9,706.2 409.4,708.0 409.9,707.2 410.4,707.1 410.9,706.6 411.4,705.7 411.9,707.0 412.4,709.1 412.9,710.4 413.4,710.1 413.9,709.6 414.4,710.6 414.9,711.3 415.4,711.5 415.9,711.4 416.4,711.3 416.9,712.6 417.4,715.0 417.9,716.3 418.4,715.7 418.9,715.3 419.4,716.2 419.9,717.0 420.4,717.5 420.9,716.9 421.4,715.8 421.9,715.8 422.4,716.2 422.9,716.4 423.4,716.0 423.9,714.5 424.4,713.6 424.9,713.9 425.4,714.4 425.9,715.9 426.4,716.2 426.9,715.8 427.4,717.6 427.9,718.7 428.4,718.9 428.9,720.3 429.4,719.9 429.9,718.1 430.4,718.6 430.9,719.2 431.4,719.3 431.9,719.0 432.4,717.7 432.9,717.0 433.4,716.9 433.9,717.3 434.4,717.4 434.9,716.6 435.4,717.2 435.9,718.8 436.4,719.2 436.9,718.2 437.4,716.7 437.9,716.9 438.4,718.0 438.9,718.4 439.4,718.9 439.9,719.7 440.4,719.5 440.9,719.1 441.4,719.6 441.9,719.7 442.4,719.7 442.9,720.4 443.4,720.4 443.9,719.7 444.4,719.7 444.9,720.4 445.4,721.2 445.9,721.1 446.4,720.7 446.9,720.6 447.4,720.6 447.9,720.8 448.4,719.0 448.9,718.0 449.4,719.8 449.9,719.6 450.4,718.2 450.9,718.1 451.4,719.5 451.9,721.3 452.4,720.2 452.9,718.3 453.4,718.9 453.9,720.2 454.4,720.5 454.9,718.0 455.4,716.4 455.9,718.0 456.4,718.7 456.9,717.5 457.4,716.9 457.9,719.3 458.4,720.1 458.9,718.6 459.4,719.0 459.9,720.2 460.4,721.3 460.9,720.5 461.4,719.5 461.9,720.2 462.4,719.6 462.9,718.8 463.4,718.9 463.9,717.6 464.4,717.6 464.9,719.7 465.4,719.0 465.9,717.9 466.4,717.8 466.9,716.4 467.4,716.0 467.9,717.0 468.4,717.6 468.9,718.8 469.4,719.3 469.9,718.7 470.4,718.9 470.9,718.6 471.4,717.5 471.9,717.4 472.4,717.8 472.9,719.0 473.4,719.1 473.9,717.6 474.4,716.7 474.9,717.0 475.4,717.6 475.9,718.2 476.4,717.8 476.9,717.5 477.4,718.8 477.9,718.8 478.4,718.2 478.9,718.6 479.4,718.0 479.9,717.4 480.4,717.4 480.9,716.9 481.4,716.9 481.9,718.2 482.4,720.1 482.9,720.0 483.4,719.1 483.9,719.3 484.4,718.8 484.9,718.6 485.4,719.0 485.9,719.8 486.4,720.6 486.9,718.7 487.4,717.3 487.9,718.3 488.4,717.9 488.9,715.7 489.4,715.0 489.9,717.7 490.4,719.6 490.9,719.6 491.4,720.2 491.9,720.1 492.4,719.2 492.9,718.4 493.4,717.4 493.9,717.6 494.4,719.0 494.9,718.1 495.4,716.9 495.9,717.5 496.4,717.5 496.9,717.2 497.4,717.7 497.9,716.9 498.4,715.5 498.9,716.9 499.4,718.4 499.9,717.4 500.4,717.7 500.9,719.0 501.4,718.3 501.9,716.8 502.4,717.0 502.9,718.4 503.4,718.5 503.9,717.1 504.4,716.9 504.9,719.0 505.4,719.8 505.9,718.6 506.4,717.7 506.9,718.1 507.4,718.7 507.9,718.2 508.4,717.1 508.9,717.3 509.4,717.2 509.9,716.7 510.4,717.5 510.9,717.8 511.4,717.6 511.9,717.2 512.4,716.5 512.9,717.2 513.4,718.3 513.9,718.8 514.4,718.3 514.9,716.1 515.4,715.5 515.9,717.3 516.4,719.3 516.9,720.3 517.4,718.8 517.9,717.3 518.4,717.3 518.9,716.1 519.4,716.7 519.9,719.4 520.4,719.3 520.9,718.4 521.4,719.1 521.9,719.4 522.4,718.9 522.9,717.9 523.4,715.7 523.9,715.6 524.4,718.3 524.9,719.3 525.4,718.1 525.9,717.1 526.4,716.4 526.9,716.5 527.4,717.9 527.9,718.0 528.4,717.2 528.9,717.2 529.4,717.4 529.9,717.2 530.4,716.0 530.9,714.9 531.4,716.4 531.9,717.5 532.4,715.6 532.9,714.9 533.4,716.1 533.9,716.2 534.4,714.4 534.9,712.5 535.4,712.2 535.9,711.3 536.4,711.0 536.9,711.7 537.4,711.7 537.9,713.2 538.4,714.7 538.9,713.0 539.4,710.6 539.9,708.8 540.4,707.9 540.9,708.0 541.4,708.2 541.9,708.3 542.4,708.9 542.9,709.5 543.4,709.0 543.9,708.5 544.4,709.7 544.9,711.8 545.4,713.3 545.9,714.5 546.4,714.7 546.9,714.1 547.4,713.6 547.9,714.2 548.4,716.7 548.9,717.1 549.4,714.7 549.9,714.0 550.4,714.2 550.9,713.4 551.4,714.4 551.9,716.4 552.4,716.4 552.9,716.4 553.4,716.8 553.9,716.3 554.4,716.4 554.9,716.3 555.4,716.4 555.9,717.0 556.4,717.8 556.9,719.0 557.4,719.4 557.9,719.4 558.4,718.5 558.9,717.8 559.4,716.8 559.9,716.6 560.4,718.6 560.9,719.0 561.4,718.6 561.9,719.3 562.4,719.1 562.9,719.3 563.4,720.3 563.9,719.5 564.4,719.0 564.9,721.0 565.4,721.2 565.9,719.3 566.4,717.7 566.9,716.8 567.4,717.9 567.9,719.8 568.4,719.5 568.9,718.5 569.4,719.9 569.9,721.6 570.4,720.5 570.9,720.3 571.4,721.9 571.9,721.8 572.4,720.5 572.9,719.0 573.4,717.7 573.9,718.0 574.4,719.3 574.9,720.3 575.4,721.3 575.9,721.7 576.4,721.5 576.9,720.6 577.4,718.5 577.9,717.4 578.4,718.4 578.9,719.0 579.4,719.4 579.9,719.5 580.4,718.6 580.9,718.8 581.4,720.3 581.9,720.7 582.4,720.6 582.9,721.1 583.4,720.5 583.9,719.8 584.4,721.7 584.9,723.1 585.4,722.2 585.9,723.1 586.4,724.6 586.9,723.4 587.4,722.4 587.9,723.3 588.4,722.5 588.9,720.9 589.4,721.2 589.9,721.9 590.4,721.6 590.9,721.9 591.4,722.4 591.9,720.6 592.4,720.1 592.9,722.2 593.4,723.5 593.9,722.5 594.4,721.4 594.9,722.4 595.4,723.8 595.9,723.2 596.4,721.1 596.9,720.7 597.4,720.1 597.9,718.7 598.4,720.2 598.9,722.1 599.4,721.0 599.9,720.7 600.4,722.7 600.9,723.9 601.4,722.8 601.9,721.0 602.4,721.5 602.9,722.3 603.4,720.7 603.9,720.5 604.4,723.1 604.9,723.3 605.4,719.1 605.9,716.1 606.4,717.0 606.9,718.9 607.4,720.9 607.9,722.0 608.4,721.1 608.9,720.4 609.4,720.5 609.9,720.1 610.4,720.2 610.9,722.3 611.4,725.3 611.9,723.8 612.4,720.1 612.9,719.1 613.4,718.9 613.9,718.3 614.4,718.7 614.9,720.5 615.4,721.8 615.9,720.9 616.4,719.0 616.9,718.1 617.4,718.7 617.9,720.3 618.4,721.9 618.9,722.4 619.4,722.1 619.9,722.7 620.4,722.5 620.9,720.1 621.4,717.6 621.9,718.6 622.4,722.6 622.9,724.1 623.4,723.3 623.9,722.4 624.4,721.1 624.9,720.1 625.4,720.9 625.9,722.6 626.4,722.4 626.9,721.1 627.4,721.2 627.9,722.2 628.4,721.7 628.9,721.7 629.4,723.5 629.9,723.0 630.4,722.7 630.9,724.3 631.4,723.9 631.9,722.4 632.4,721.3 632.9,719.8 633.4,718.0 633.9,718.5 634.4,720.1 634.9,720.0 635.4,720.4 635.9,720.0 636.4,719.2 636.9,720.6 637.4,722.1 637.9,723.8 638.4,724.7 638.9,723.9 639.4,722.5 639.9,721.7 640.4,722.1 640.9,721.8 641.4,720.7 641.9,720.8 642.4,721.3 642.9,721.8 643.4,721.6 643.9,720.2 644.4,720.3 644.9,720.5 645.4,718.7 645.9,720.1 646.4,720.9 646.9,717.7 647.4,718.5 647.9,720.2 648.4,720.9 648.9,721.6 649.4,720.0 649.9,722.1 650.4,724.7 650.9,723.0 651.4,721.2 651.9,720.3 652.4,720.0 652.9,720.2 653.4,719.1 653.9,719.8 654.4,720.7 654.9,719.0 655.4,718.9 655.9,719.1 656.4,719.0 656.9,721.0 657.4,720.2 657.9,717.8 658.4,718.0 658.9,718.1 659.4,718.2 659.9,718.7 660.4,719.2 660.9,719.8 661.4,719.8 661.9,720.2 662.4,720.6 662.9,720.0 663.4,718.6 663.9,717.1 664.4,717.3 664.9,719.6 665.4,722.2 665.9,723.6 666.4,722.4 666.9,719.8 667.4,718.8 667.9,718.9 668.4,719.8 668.9,721.3 669.4,720.2 669.9,717.2 670.4,717.6 670.9,719.9 671.4,719.4 671.9,718.8 672.4,719.3 672.9,718.0 673.4,716.9 673.9,715.5 674.4,715.2 674.9,716.7 675.4,716.1 675.9,715.3 676.4,716.6 676.9,718.0 677.4,718.0 677.9,716.2 678.4,714.9 678.9,714.9 679.4,715.3 679.9,716.9 680.4,718.0 680.9,719.0 681.4,720.6 681.9,719.9 682.4,718.5 682.9,717.6 683.4,717.6 683.9,719.1 684.4,718.3 684.9,716.6 685.4,717.9 685.9,719.1 686.4,719.0 686.9,717.3 687.4,714.4 687.9,715.4 688.4,718.7 688.9,717.3 689.4,714.9 689.9,715.7 690.4,714.9 690.9,711.8 691.4,710.5 691.9,712.5 692.4,715.6 692.9,716.3 693.4,716.1 693.9,717.0 694.4,715.8 694.9,713.3 695.4,713.5 695.9,713.8 696.4,713.2 696.9,714.2 697.4,715.2 697.9,714.4 698.4,713.2 698.9,715.6 699.4,717.8 699.9,714.5 700.4,712.7 700.9,715.4 701.4,717.2 701.9,716.0 702.4,715.1 702.9,715.7 703.4,714.3 703.9,712.8 704.4,713.7 704.9,715.4 705.4,716.9 705.9,716.9 706.4,716.6 706.9,716.8 707.4,716.8 707.9,715.7 708.4,712.6 708.9,712.4 709.4,714.1 709.9,713.4 710.4,713.5 710.9,714.3 711.4,713.9 711.9,715.0 712.4,714.8 712.9,712.8 713.4,716.0 713.9,719.0 714.4,716.6 714.9,715.3 715.4,717.2 715.9,717.1 716.4,714.3 716.9,713.7 717.4,714.7 717.9,715.3 718.4,715.6 718.9,715.2 719.4,714.2 719.9,713.5 720.4,712.7 720.9,712.5 721.4,713.2 721.9,712.8 722.4,713.2 722.9,715.3 723.4,713.7 723.9,712.4 724.4,713.7 724.9,713.7 725.4,713.7 725.9,714.0 726.4,713.9 726.9,713.3 727.4,712.6 727.9,714.4 728.4,714.6 728.9,711.3 729.4,711.8 729.9,712.9 730.4,710.6 730.9,711.6 731.4,714.8 731.9,715.4 732.4,716.0 732.9,715.2 733.4,713.6 733.9,713.9 734.4,714.9 734.9,715.2 735.4,714.3 735.9,713.3 736.4,714.0 736.9,715.4 737.4,714.1 737.9,711.2 738.4,711.1 738.9,712.2 739.4,711.7 739.9,710.9 740.4,710.7 740.9,711.9 741.4,713.9 741.9,714.6 742.4,715.1 742.9,715.9 743.4,716.7 743.9,718.4 744.4,717.2 744.9,714.0 745.4,710.4 745.9,708.1 746.4,710.7 746.9,714.6 747.4,715.1 747.9,713.9 748.4,714.8 748.9,714.8 749.4,712.1 749.9,710.0 750.4,711.2 750.9,713.4 751.4,714.1 751.9,713.1 752.4,712.4 752.9,714.5 753.4,715.7 753.9,715.7 754.4,716.4 754.9,716.0 755.4,713.3 755.9,710.4 756.4,711.5 756.9,715.2 757.4,715.9 757.9,714.1 758.4,713.2 758.9,713.6 759.4,713.7 759.9,712.9 760.4,714.3 760.9,717.0 761.4,715.6 761.9,712.4 762.4,711.2 762.9,712.7 763.4,715.4 763.9,715.9 764.4,714.7 764.9,714.2 765.4,713.3 765.9,713.7 766.4,716.1 766.9,718.2 767.4,718.3 767.9,715.5 768.4,714.8 768.9,716.0 769.4,714.2 769.9,712.0 770.4,712.6 770.9,714.8 771.4,715.7 771.9,716.1 772.4,717.5 772.9,717.9 773.4,716.7 773.9,715.5 774.4,715.5 774.9,716.8 775.4,717.4 775.9,716.7 776.4,716.0 776.9,714.3 777.4,712.4 777.9,713.5 778.4,716.4 778.9,718.1 779.4,718.5 779.9,717.6 780.4,718.0 780.9,719.0 781.4,717.6 781.9,715.1 782.4,714.8 782.9,714.6 783.4,714.2 783.9,716.0 784.4,716.7 784.9,716.7 785.4,717.5 785.9,715.8 786.4,714.1 786.9,713.6 787.4,713.7 787.9,714.6 788.4,716.1 788.9,717.4 789.4,716.9 789.9,715.2 790.4,712.9 790.9,711.4 791.4,711.8 791.9,713.0 792.4,714.3 792.9,715.4 793.4,716.4 793.9,716.3 794.4,715.1 794.9,714.1 795.4,713.9 795.9,714.7 796.4,714.0 796.9,712.5 797.4,714.7 797.9,716.8 798.4,714.0 798.9,711.2 799.4,709.7 799.9,710.2 800.4,712.8 800.9,713.2 801.4,713.8 801.9,716.9 802.4,716.5 802.9,713.2 803.4,713.2 803.9,713.8 804.4,713.2 804.9,712.8 805.4,713.3 805.9,714.7 806.4,714.2 806.9,713.7 807.4,714.6 807.9,714.5 808.4,713.4 808.9,714.0 809.4,715.1 809.9,713.8 810.4,711.3 810.9,710.0 811.4,709.7 811.9,709.9 812.4,711.3 812.9,710.6 813.4,708.7 813.9,710.6 814.4,712.9 814.9,711.7 815.4,711.3 815.9,712.4 816.4,710.6 816.9,708.4 817.4,709.0 817.9,711.6 818.4,714.2 818.9,714.5 819.4,712.0 819.9,709.5 820.4,709.0 820.9,709.6 821.4,709.3 821.9,708.8 822.4,711.0 822.9,712.7 823.4,712.3 823.9,711.6 824.4,709.4 824.9,708.2 825.4,710.5 825.9,713.9 826.4,714.0 826.9,712.9 827.4,713.1 827.9,713.5 828.4,714.5 828.9,713.6 829.4,712.3 829.9,712.4 830.4,710.8 830.9,709.0 831.4,709.5 831.9,711.6 832.4,712.5 832.9,712.1 833.4,713.1 833.9,714.4 834.4,712.7 834.9,712.4 835.4,715.6 835.9,716.6 836.4,713.5 836.9,710.3 837.4,711.6 837.9,714.1 838.4,715.4 838.9,715.2 839.4,713.5 839.9,713.5 840.4,714.7 840.9,715.7 841.4,716.1 841.9,715.5 842.4,713.2 842.9,711.0 843.4,711.4 843.9,712.2 844.4,713.8 844.9,717.2 845.4,718.5 845.9,715.9 846.4,713.8 846.9,713.9 847.4,715.5 847.9,717.7 848.4,717.8 848.9,716.5 849.4,714.1 849.9,711.9 850.4,712.4 850.9,714.1 851.4,716.1 851.9,716.2 852.4,715.0 852.9,716.6 853.4,718.1 853.9,715.8 854.4,714.5 854.9,715.3 855.4,715.5 855.9,716.4 856.4,719.2 856.9,719.2 857.4,716.0 857.9,716.2 858.4,717.7 858.9,717.6 859.4,717.3 859.9,718.1 860.4,719.1 860.9,718.2 861.4,717.8 861.9,718.4 862.4,718.6 862.9,719.3 863.4,720.2 863.9,719.8 864.4,719.2 864.9,718.3 865.4,716.9 865.9,716.3 866.4,717.2 866.9,718.4 867.4,717.7 867.9,717.6 868.4,719.7 868.9,719.5 869.4,718.9 869.9,721.4 870.4,721.6 870.9,721.1 871.4,722.2 871.9,721.1 872.4,721.5 872.9,723.0 873.4,720.9 873.9,720.7 874.4,721.6 874.9,720.2 875.4,720.7 875.9,724.0 876.4,725.2 876.9,722.3 877.4,721.7 877.9,723.1 878.4,721.9 878.9,720.7 879.4,722.2 879.9,723.4 880.4,724.4 880.9,725.8 881.4,725.8 881.9,724.8 882.4,723.1 882.9,721.6 883.4,722.4 883.9,723.4 884.4,723.2 884.9,722.9 885.4,723.8 885.9,727.5 886.4,728.4 886.9,725.5 887.4,724.3 887.9,725.3 888.4,726.6 888.9,726.3 889.4,724.9 889.9,724.4 890.4,723.9 890.9,723.8 891.4,724.6 891.9,724.8 892.4,725.4 892.9,726.6 893.4,727.0 893.9,726.9 894.4,726.1 894.9,725.1 895.4,725.4 895.9,725.6 896.4,725.6 896.9,726.4 897.4,725.4 897.9,723.2 898.4,723.1 898.9,724.3 899.4,724.6 899.9,722.5 900.4,720.9 900.9,723.3 901.4,725.8 901.9,724.9 902.4,724.3 902.9,723.4 903.4,722.0 903.9,724.2 904.4,726.3 904.9,726.7 905.4,726.8 905.9,725.9 906.4,725.2 906.9,725.4 907.4,727.6 907.9,729.5 908.4,728.1 908.9,725.9 909.4,724.4 909.9,725.3 910.4,726.7 910.9,724.5 911.4,723.4 911.9,724.7 912.4,726.8 912.9,726.9 913.4,724.0 913.9,725.2 914.4,726.5 914.9,724.2 915.4,724.4 915.9,727.5 916.4,728.3 916.9,724.6 917.4,723.5 917.9,727.6 918.4,729.1 918.9,725.0 919.4,723.4 919.9,726.5 920.4,727.9 920.9,727.8 921.4,726.7 921.9,725.1 922.4,726.3 922.9,729.4 923.4,728.0 923.9,723.0 924.4,724.3 924.9,728.0 925.4,725.9 925.9,723.6 926.4,725.0 926.9,726.0 927.4,725.6 927.9,725.1 928.4,724.9 928.9,725.5 929.4,725.7 929.9,724.9 930.4,725.0 930.9,726.9 931.4,728.6 931.9,727.9 932.4,726.8 932.9,727.4 933.4,728.3 933.9,728.8 934.4,729.5 934.9,730.8 935.4,730.0 935.9,727.0 936.4,726.3 936.9,727.9 937.4,727.8 937.9,725.4 938.4,722.3 938.9,722.3 939.4,726.0 939.9,728.6 940.4,727.2 940.9,725.7 941.4,726.5 941.9,726.6 942.4,726.9 942.9,726.7 943.4,724.9 943.9,723.0 944.4,721.6 944.9,721.6 945.4,723.0 945.9,725.6 946.4,727.6 946.9,728.2 947.4,727.2 947.9,725.9 948.4,726.1 948.9,726.5 949.4,727.3 949.9,726.6 950.4,725.0 950.9,725.6 951.4,726.2 951.9,726.7 952.4,729.1 952.9,729.7 953.4,726.9 953.9,723.6 954.4,722.2 954.9,723.9 955.4,723.8 955.9,722.7 956.4,725.6 956.9,727.0 957.4,725.4 957.9,724.4 958.4,725.1 958.9,725.6 959.4,724.3 959.9,726.3 960.4,729.5 960.9,728.5 961.4,727.1 961.9,725.6 962.4,724.3 962.9,725.7 963.4,726.2 963.9,725.4 964.4,727.2 964.9,729.7 965.4,728.0 965.9,723.9 966.4,722.1 966.9,723.8 967.4,727.4 967.9,729.0 968.4,727.4 968.9,724.6 969.4,723.8 969.9,725.7 970.4,726.0 970.9,725.2 971.4,726.5 971.9,727.9 972.4,726.5 972.9,723.1 973.4,721.8 973.9,724.4 974.4,726.3 974.9,725.8 975.4,725.0 975.9,725.6 976.4,727.1 976.9,727.1 977.4,725.8 977.9,724.4 978.4,724.8 978.9,725.4 979.4,723.9 979.9,723.2 980.4,725.9 980.9,728.4 981.4,729.1 981.9,729.0 982.4,727.2 982.9,724.7 983.4,723.4 983.9,725.6 984.4,728.7 984.9,728.9 985.4,728.6 985.9,728.3 986.4,726.9 986.9,726.2 987.4,727.1 987.9,728.1 988.4,728.3 988.9,727.9 989.4,726.5 989.9,725.1 990.4,724.6 990.9,725.5 991.4,725.6 991.9,723.6 992.4,726.4 992.9,730.1 993.4,727.9" stroke="#F14040"/>
<path d="M97.4,617.4 97.9,615.0 98.4,612.9 98.9,611.2 99.4,609.9 99.9,608.8 100.4,607.2 100.9,606.8 101.4,606.9 101.9,606.1 102.4,605.1 102.9,604.3 103.4,604.2 103.9,604.3 104.4,602.4 104.9,598.9 105.4,595.6 105.9,593.2 106.4,590.5 106.9,586.9 107.4,582.8 107.9,577.4 108.4,570.1 108.9,562.1 109.4,552.7 109.9,540.4 110.4,523.4 110.9,500.6 111.4,471.6 111.9,434.0 112.4,390.0 112.9,350.3 113.4,329.8 113.9,339.1 114.4,373.6 114.9,417.5 115.4,458.4 115.9,492.4 116.4,519.8 116.9,540.3 117.4,553.5 117.9,560.7 118.4,564.6 118.9,567.5 119.4,570.2 119.9,573.3 120.4,577.1 120.9,579.4 121.4,581.6 121.9,583.7 122.4,584.3 122.9,584.2 123.4,585.2 123.9,586.9 124.4,587.4 124.9,586.2 125.4,585.5 125.9,586.2 126.4,586.9 126.9,587.7 127.4,588.0 127.9,587.5 128.4,588.1 128.9,589.0 129.4,588.6 129.9,587.8 130.4,587.2 130.9,586.9 131.4,587.5 131.9,588.6 132.4,588.1 132.9,587.0 133.4,586.7 133.9,585.1 134.4,584.4 134.9,586.9 135.4,587.3 135.9,585.0 136.4,584.4 136.9,584.8 137.4,584.0 137.9,583.0 138.4,582.6 138.9,582.2 139.4,581.6 139.9,581.0 140.4,579.7 140.9,578.3 141.4,576.8 141.9,575.7 142.4,574.9 142.9,572.7 143.4,571.4 143.9,570.7 144.4,569.1 144.9,567.4 145.4,565.0 145.9,561.3 146.4,558.6 146.9,556.1 147.4,552.7 147.9,550.1 148.4,547.6 148.9,543.4 149.4,539.3 149.9,535.6 150.4,531.7 150.9,527.3 151.4,522.4 151.9,517.4 152.4,512.0 152.9,506.7 153.4,500.4 153.9,493.4 154.4,486.7 154.9,479.2 155.4,471.3 155.9,463.1 156.4,453.3 156.9,444.3 157.4,436.2 157.9,425.8 158.4,415.1 158.9,405.2 159.4,394.3 159.9,383.2 160.4,370.6 160.9,356.2 161.4,341.5 161.9,325.8 162.4,309.1 162.9,292.6 163.4,275.2 163.9,256.3 164.4,236.4 164.9,216.0 165.4,196.6 165.9,177.5 166.4,157.6 166.9,138.5 167.4,117.9 167.9,96.6 168.4,77.1 168.9,62.5 169.4,53.3 169.9,46.3 170.4,41.8 170.9,42.5 171.4,48.1 171.9,58.1 172.4,72.0 172.9,88.3 173.4,108.3 173.9,130.9 174.4,154.2 174.9,179.6 175.4,206.0 175.9,231.1 176.4,256.3 176.9,281.0 177.4,304.2 177.9,327.4 178.4,349.2 178.9,367.9 179.4,384.6 179.9,399.3 180.4,411.1 180.9,421.2 181.4,430.0 181.9,437.7 182.4,445.1 182.9,451.6 183.4,458.0 183.9,464.7 184.4,471.3 184.9,477.2 185.4,481.7 185.9,486.1 186.4,491.1 186.9,495.8 187.4,499.5 187.9,502.1 188.4,505.3 188.9,509.2 189.4,512.3 189.9,513.6 190.4,513.8 190.9,512.7 191.4,510.1 191.9,507.9 192.4,504.3 192.9,500.0 193.4,495.9 193.9,490.1 194.4,485.1 194.9,481.6 195.4,477.7 195.9,472.2 196.4,466.8 196.9,463.8 197.4,462.4 197.9,461.5 198.4,459.3 198.9,456.5 199.4,455.8 199.9,456.9 200.4,458.6 200.9,461.7 201.4,465.2 201.9,468.8 202.4,473.2 202.9,477.8 203.4,483.5 203.9,489.7 204.4,494.3 204.9,497.7 205.4,502.3 205.9,508.2 206.4,514.7 206.9,521.0 207.4,526.6 207.9,530.6 208.4,535.0 208.9,541.2 209.4,546.1 209.9,552.0 210.4,559.6 210.9,563.5 211.4,568.0 211.9,573.2 212.4,577.5 212.9,580.3 213.4,584.2 213.9,589.2 214.4,592.5 214.9,596.0 215.4,600.0 215.9,602.9 216.4,606.5 216.9,610.5 217.4,613.8 217.9,616.1 218.4,618.4 218.9,620.8 219.4,623.1 219.9,625.9 220.4,628.5 220.9,630.6 221.4,631.6 221.9,632.9 222.4,635.3 222.9,636.3 223.4,635.9 223.9,637.6 224.4,639.1 224.9,638.8 225.4,639.9 225.9,641.6 226.4,641.9 226.9,643.2 227.4,644.8 227.9,644.3 228.4,643.3 228.9,643.2 229.4,644.1 229.9,646.2 230.4,648.8 230.9,649.0 231.4,648.6 231.9,650.1 232.4,650.5 232.9,650.0 233.4,650.6 233.9,650.5 234.4,649.3 234.9,648.7 235.4,649.6 235.9,650.8 236.4,651.0 236.9,651.5 237.4,652.1 237.9,652.2 238.4,652.6 238.9,652.7 239.4,652.2 239.9,652.0 240.4,652.2 240.9,651.8 241.4,651.4 241.9,652.5 242.4,653.5 242.9,654.0 243.4,653.3 243.9,652.2 244.4,651.1 244.9,650.2 245.4,651.4 245.9,653.8 246.4,654.3 246.9,653.3 247.4,652.3 247.9,651.8 248.4,650.5 248.9,648.4 249.4,648.5 249.9,649.9 250.4,649.7 250.9,648.0 251.4,646.5 251.9,645.5 252.4,644.4 252.9,642.9 253.4,642.0 253.9,642.1 254.4,641.6 254.9,641.3 255.4,641.4 255.9,639.6 256.4,637.4 256.9,635.8 257.4,634.4 257.9,633.9 258.4,632.8 258.9,631.0 259.4,630.2 259.9,628.9 260.4,625.9 260.9,624.1 261.4,623.6 261.9,621.6 262.4,618.6 262.9,615.2 263.4,611.8 263.9,608.6 264.4,605.1 264.9,601.4 265.4,598.8 265.9,597.1 266.4,592.8 266.9,586.8 267.4,581.1 267.9,574.1 268.4,566.4 268.9,559.3 269.4,552.4 269.9,544.4 270.4,535.7 270.9,528.6 271.4,525.8 271.9,525.8 272.4,527.0 272.9,531.0 273.4,536.2 273.9,541.6 274.4,547.7 274.9,553.3 275.4,556.1 275.9,562.1 276.4,570.6 276.9,578.2 277.4,584.4 277.9,589.8 278.4,593.8 278.9,598.2 279.4,604.1 279.9,609.4 280.4,612.8 280.9,615.2 281.4,617.5 281.9,621.3 282.4,625.2 282.9,626.7 283.4,628.1 283.9,632.2 284.4,636.5 284.9,639.0 285.4,639.6 285.9,639.9 286.4,642.3 286.9,644.6 287.4,645.6 287.9,646.9 288.4,648.0 288.9,649.5 289.4,650.7 289.9,652.3 290.4,654.5 290.9,654.8 291.4,654.3 291.9,654.7 292.4,655.6 292.9,656.0 293.4,655.6 293.9,656.5 294.4,658.4 294.9,658.4 295.4,656.9 295.9,657.5 296.4,659.6 296.9,661.2 297.4,661.5 297.9,661.3 298.4,662.0 298.9,662.2 299.4,662.1 299.9,662.9 300.4,664.0 300.9,664.4 301.4,664.0 301.9,663.1 302.4,662.5 302.9,662.2 303.4,662.4 303.9,662.7 304.4,663.2 304.9,663.9 305.4,664.2 305.9,664.0 306.4,663.8 306.9,663.8 307.4,663.5 307.9,663.5 308.4,663.3 308.9,662.7 309.4,661.4 309.9,659.7 310.4,660.2 310.9,661.9 311.4,661.7 311.9,660.4 312.4,659.5 312.9,659.9 313.4,660.3 313.9,658.2 314.4,656.7 314.9,656.0 315.4,654.2 315.9,653.1 316.4,652.8 316.9,652.5 317.4,652.1 317.9,651.4 318.4,649.9 318.9,649.8 319.4,650.0 319.9,648.0 320.4,644.2 320.9,642.3 321.4,643.3 321.9,642.9 322.4,641.5 322.9,640.6 323.4,639.0 323.9,637.1 324.4,635.7 324.9,634.8 325.4,633.5 325.9,632.5 326.4,632.2 326.9,630.1 327.4,627.9 327.9,627.6 328.4,626.5 328.9,623.8 329.4,622.0 329.9,620.7 330.4,619.0 330.9,617.5 331.4,615.5 331.9,613.7 332.4,611.9 332.9,608.3 333.4,605.8 333.9,605.4 334.4,603.2 334.9,598.6 335.4,594.3 335.9,591.5 336.4,589.7 336.9,586.4 337.4,582.7 337.9,580.6 338.4,578.5 338.9,575.9 339.4,573.3 339.9,569.8 340.4,566.0 340.9,563.4 341.4,562.1 341.9,561.1 342.4,559.8 342.9,558.1 343.4,556.6 343.9,556.2 344.4,556.1 344.9,555.0 345.4,555.1 345.9,557.1 346.4,557.3 346.9,556.3 347.4,555.8 347.9,553.9 348.4,551.4 348.9,549.5 349.4,547.5 349.9,545.6 350.4,543.9 350.9,541.4 351.4,538.1 351.9,534.4 352.4,530.2 352.9,525.1 353.4,520.2 353.9,515.5 354.4,508.6 354.9,500.1 355.4,491.3 355.9,481.0 356.4,470.0 356.9,459.1 357.4,446.9 357.9,432.2 358.4,418.2 358.9,407.4 359.4,396.9 359.9,384.9 360.4,372.8 360.9,361.8 361.4,354.8 361.9,351.2 362.4,351.3 362.9,357.8 363.4,368.7 363.9,380.4 364.4,391.8 364.9,401.3 365.4,410.6 365.9,421.7 366.4,436.6 366.9,460.4 367.4,488.8 367.9,513.0 368.4,525.8 368.9,533.7 369.4,541.3 369.9,549.7 370.4,558.7 370.9,568.3 371.4,576.2 371.9,581.5 372.4,587.6 372.9,595.6 373.4,602.8 373.9,608.0 374.4,612.0 374.9,617.6 375.4,624.3 375.9,628.6 376.4,631.1 376.9,633.1 377.4,635.7 377.9,639.0 378.4,642.2 378.9,645.8 379.4,648.9 379.9,650.1 380.4,651.0 380.9,652.3 381.4,652.5 381.9,653.9 382.4,655.9 382.9,655.7 383.4,656.0 383.9,658.2 384.4,659.8 384.9,660.4 385.4,661.2 385.9,661.5 386.4,661.9 386.9,663.7 387.4,664.7 387.9,664.6 388.4,665.2 388.9,667.1 389.4,669.2 389.9,670.3 390.4,670.8 390.9,671.3 391.4,671.7 391.9,672.5 392.4,672.4 392.9,672.3 393.4,673.7 393.9,675.4 394.4,676.9 394.9,677.2 395.4,676.6 395.9,677.7 396.4,679.0 396.9,679.4 397.4,680.3 397.9,680.8 398.4,681.6 398.9,683.0 399.4,683.6 399.9,684.7 400.4,685.1 400.9,684.8 401.4,685.4 401.9,686.3 402.4,687.5 402.9,688.3 403.4,689.0 403.9,691.4 404.4,693.5 404.9,693.5 405.4,691.8 405.9,691.1 406.4,693.0 406.9,695.2 407.4,696.2 407.9,696.6 408.4,697.5 408.9,697.8 409.4,698.5 409.9,700.1 410.4,700.1 410.9,701.0 411.4,702.2 411.9,701.7 412.4,702.9 412.9,704.5 413.4,704.6 413.9,705.1 414.4,705.4 414.9,705.7 415.4,706.1 415.9,705.9 416.4,706.4 416.9,707.5 417.4,707.8 417.9,707.2 418.4,706.5 418.9,707.7 419.4,709.5 419.9,709.8 420.4,708.9 420.9,707.9 421.4,708.2 421.9,709.9 422.4,710.9 422.9,710.8 423.4,710.8 423.9,710.8 424.4,710.6 424.9,709.9 425.4,709.6 425.9,709.9 426.4,711.2 426.9,711.4 427.4,710.0 427.9,709.8 428.4,709.8 428.9,709.3 429.4,709.5 429.9,710.9 430.4,713.0 430.9,713.6 431.4,712.3 431.9,711.8 432.4,712.1 432.9,711.9 433.4,712.4 433.9,713.4 434.4,713.3 434.9,712.4 435.4,712.9 435.9,713.7 436.4,713.1 436.9,712.2 437.4,711.7 437.9,711.9 438.4,712.6 438.9,713.0 439.4,713.5 439.9,712.8 440.4,710.7 440.9,710.7 441.4,712.8 441.9,714.0 442.4,714.6 442.9,713.8 443.4,712.9 443.9,713.5 444.4,713.5 444.9,712.9 445.4,712.9 445.9,714.3 446.4,714.7 446.9,714.5 447.4,714.8 447.9,714.0 448.4,712.7 448.9,711.0 449.4,711.8 449.9,715.5 450.4,716.7 450.9,714.6 451.4,712.5 451.9,713.1 452.4,714.1 452.9,714.0 453.4,713.4 453.9,712.6 454.4,712.2 454.9,712.0 455.4,712.7 455.9,713.2 456.4,712.6 456.9,712.4 457.4,712.7 457.9,713.6 458.4,714.3 458.9,714.1 459.4,713.0 459.9,711.7 460.4,712.4 460.9,713.3 461.4,712.4 461.9,711.6 462.4,712.5 462.9,713.6 463.4,712.8 463.9,712.2 464.4,713.7 464.9,714.5 465.4,714.4 465.9,714.1 466.4,713.4 466.9,712.4 467.4,711.9 467.9,711.6 468.4,711.9 468.9,712.6 469.4,712.6 469.9,712.8 470.4,713.1 470.9,712.0 471.4,710.5 471.9,710.2 472.4,709.8 472.9,709.8 473.4,710.8 473.9,710.4 474.4,709.7 474.9,710.9 475.4,712.4 475.9,712.8 476.4,713.0 476.9,712.3 477.4,711.9 477.9,712.7 478.4,713.0 478.9,711.9 479.4,710.8 479.9,710.4 480.4,710.4 480.9,711.2 481.4,712.7 481.9,714.3 482.4,714.6 482.9,713.9 483.4,713.4 483.9,714.2 484.4,715.8 484.9,716.4 485.4,715.7 485.9,714.0 486.4,713.2 486.9,713.4 487.4,712.9 487.9,711.9 488.4,711.6 488.9,712.5 489.4,713.0 489.9,712.8 490.4,711.3 490.9,710.3 491.4,712.2 491.9,712.8 492.4,710.8 492.9,710.2 493.4,711.1 493.9,710.7 494.4,711.1 494.9,713.5 495.4,713.7 495.9,711.0 496.4,710.0 496.9,712.6 497.4,714.8 497.9,714.6 498.4,713.3 498.9,711.9 499.4,711.1 499.9,711.7 500.4,713.7 500.9,712.7 501.4,709.2 501.9,709.3 502.4,711.7 502.9,712.4 503.4,712.2 503.9,713.7 504.4,714.8 504.9,712.6 505.4,710.3 505.9,710.3 506.4,710.2 506.9,710.7 507.4,711.9 507.9,711.5 508.4,710.9 508.9,711.1 509.4,711.5 509.9,712.1 510.4,712.3 510.9,712.2 511.4,712.3 511.9,712.6 512.4,712.2 512.9,711.5 513.4,711.4 513.9,710.8 514.4,711.5 514.9,713.4 515.4,712.5 515.9,711.3 516.4,711.0 516.9,711.1 517.4,711.5 517.9,711.1 518.4,710.1 518.9,709.3 519.4,709.1 519.9,710.7 520.4,712.0 520.9,710.3 521.4,709.5 521.9,711.6 522.4,711.9 522.9,709.2 523.4,708.6 523.9,710.5 524.4,710.6 524.9,708.6 525.4,707.6 525.9,709.1 526.4,710.9 526.9,711.3 527.4,711.1 527.9,710.6 528.4,710.4 528.9,710.7 529.4,710.3 529.9,709.6 530.4,708.6 530.9,708.7 531.4,709.5 531.9,708.9 532.4,708.6 532.9,709.6 533.4,709.7 533.9,708.4 534.4,707.8 534.9,709.6 535.4,710.0 535.9,706.4 536.4,703.8 536.9,703.7 537.4,703.3 537.9,702.4 538.4,703.0 538.9,704.9 539.4,706.1 539.9,706.2 540.4,705.1 540.9,704.3 541.4,704.5 541.9,703.8 542.4,702.9 542.9,703.7 543.4,705.9 543.9,706.5 544.4,705.1 544.9,705.0 545.4,705.8 545.9,706.8 546.4,707.4 546.9,707.3 547.4,706.4 547.9,705.4 548.4,705.0 548.9,706.1 549.4,709.0 549.9,710.3 550.4,709.7 550.9,710.4 551.4,711.1 551.9,709.2 552.4,706.8 552.9,705.9 553.4,705.3 553.9,705.6 554.4,706.8 554.9,708.2 555.4,708.7 555.9,708.0 556.4,708.4 556.9,709.2 557.4,709.2 557.9,707.9 558.4,706.6 558.9,708.4 559.4,710.6 559.9,709.9 560.4,708.5 560.9,709.2 561.4,709.9 561.9,709.8 562.4,710.1 562.9,709.7 563.4,709.5 563.9,711.3 564.4,712.6 564.9,710.9 565.4,709.9 565.9,710.5 566.4,710.2 566.9,708.9 567.4,708.0 567.9,709.2 568.4,709.5 568.9,709.4 569.4,710.6 569.9,710.3 570.4,708.9 570.9,707.4 571.4,707.0 571.9,707.4 572.4,708.0 572.9,709.9 573.4,710.5 573.9,708.5 574.4,707.2 574.9,707.6 575.4,708.1 575.9,709.1 576.4,709.4 576.9,708.9 577.4,709.6 577.9,711.3 578.4,711.2 578.9,709.8 579.4,709.4 579.9,708.5 580.4,708.3 580.9,709.8 581.4,710.0 581.9,709.2 582.4,709.0 582.9,708.0 583.4,708.2 583.9,710.3 584.4,710.4 584.9,709.6 585.4,710.1 585.9,710.0 586.4,708.9 586.9,708.3 587.4,708.2 587.9,708.2 588.4,709.1 588.9,710.0 589.4,708.8 589.9,708.1 590.4,708.0 590.9,707.7 591.4,708.0 591.9,707.3 592.4,706.5 592.9,706.3 593.4,706.7 593.9,708.0 594.4,708.5 594.9,707.2 595.4,705.7 595.9,705.5 596.4,705.6 596.9,706.5 597.4,707.6 597.9,706.8 598.4,706.4 598.9,707.4 599.4,708.4 599.9,707.1 600.4,704.5 600.9,704.4 601.4,704.4 601.9,703.9 602.4,703.9 602.9,702.3 603.4,701.0 603.9,702.1 604.4,704.6 604.9,705.7 605.4,703.7 605.9,701.1 606.4,700.8 606.9,702.0 607.4,703.1 607.9,702.6 608.4,701.2 608.9,700.1 609.4,700.0 609.9,700.8 610.4,699.4 610.9,699.1 611.4,702.3 611.9,703.5 612.4,702.8 612.9,701.8 613.4,701.2 613.9,701.5 614.4,701.8 614.9,702.8 615.4,701.2 615.9,699.4 616.4,701.7 616.9,703.0 617.4,701.7 617.9,701.1 618.4,700.0 618.9,697.6 619.4,697.2 619.9,699.3 620.4,699.8 620.9,698.8 621.4,697.6 621.9,698.0 622.4,699.4 622.9,698.7 623.4,697.2 623.9,697.0 624.4,698.3 624.9,698.9 625.4,697.9 625.9,696.8 626.4,697.1 626.9,698.2 627.4,697.5 627.9,697.8 628.4,698.9 628.9,696.9 629.4,694.6 629.9,694.7 630.4,696.8 630.9,698.5 631.4,697.5 631.9,696.6 632.4,697.7 632.9,697.5 633.4,696.5 633.9,697.3 634.4,697.5 634.9,695.0 635.4,692.9 635.9,694.7 636.4,696.4 636.9,696.5 637.4,697.1 637.9,695.2 638.4,693.5 638.9,694.3 639.4,695.0 639.9,694.7 640.4,694.5 640.9,694.4 641.4,693.3 641.9,692.1 642.4,691.0 642.9,691.1 643.4,691.8 643.9,691.3 644.4,691.0 644.9,691.4 645.4,692.1 645.9,692.7 646.4,692.9 646.9,692.5 647.4,691.1 647.9,688.9 648.4,687.8 648.9,688.1 649.4,687.4 649.9,687.7 650.4,688.9 650.9,687.8 651.4,688.2 651.9,689.0 652.4,689.5 652.9,690.5 653.4,688.5 653.9,687.3 654.4,688.0 654.9,685.8 655.4,683.6 655.9,683.6 656.4,684.4 656.9,685.3 657.4,684.6 657.9,683.4 658.4,685.3 658.9,686.5 659.4,684.2 659.9,683.4 660.4,684.6 660.9,684.3 661.4,681.9 661.9,680.2 662.4,680.8 662.9,682.8 663.4,681.7 663.9,677.7 664.4,676.1 664.9,676.6 665.4,677.5 665.9,679.1 666.4,680.6 666.9,681.4 667.4,680.3 667.9,679.0 668.4,678.2 668.9,675.8 669.4,674.4 669.9,675.8 670.4,675.8 670.9,674.4 671.4,675.4 671.9,675.5 672.4,673.9 672.9,673.2 673.4,672.8 673.9,673.0 674.4,672.7 674.9,671.9 675.4,672.5 675.9,673.0 676.4,670.9 676.9,667.2 677.4,666.7 677.9,668.6 678.4,668.1 678.9,666.8 679.4,666.0 679.9,665.5 680.4,665.7 680.9,665.5 681.4,665.6 681.9,665.7 682.4,665.4 682.9,664.8 683.4,664.7 683.9,665.6 684.4,664.7 684.9,664.5 685.4,665.2 685.9,664.4 686.4,663.9 686.9,662.0 687.4,660.5 687.9,662.1 688.4,663.0 688.9,660.5 689.4,658.4 689.9,659.3 690.4,660.7 690.9,661.3 691.4,661.6 691.9,661.1 692.4,659.0 692.9,658.2 693.4,660.1 693.9,660.3 694.4,658.9 694.9,657.8 695.4,657.2 695.9,658.2 696.4,659.8 696.9,659.9 697.4,659.3 697.9,658.8 698.4,657.1 698.9,655.9 699.4,656.1 699.9,656.6 700.4,656.5 700.9,657.0 701.4,656.0 701.9,654.2 702.4,655.6 702.9,655.3 703.4,652.3 703.9,650.7 704.4,650.3 704.9,650.1 705.4,651.3 705.9,653.4 706.4,654.1 706.9,653.3 707.4,653.6 707.9,654.8 708.4,654.4 708.9,652.6 709.4,650.9 709.9,648.8 710.4,648.2 710.9,649.5 711.4,649.4 711.9,648.4 712.4,649.2 712.9,650.1 713.4,649.5 713.9,648.6 714.4,649.1 714.9,651.5 715.4,652.3 715.9,650.3 716.4,650.0 716.9,651.2 717.4,650.0 717.9,647.5 718.4,646.4 718.9,648.5 719.4,650.5 719.9,650.8 720.4,651.5 720.9,650.0 721.4,648.9 721.9,649.6 722.4,648.9 722.9,647.8 723.4,646.4 723.9,645.5 724.4,646.6 724.9,647.5 725.4,646.2 725.9,645.5 726.4,647.3 726.9,647.9 727.4,647.3 727.9,645.9 728.4,646.2 728.9,648.7 729.4,649.4 729.9,650.1 730.4,651.8 730.9,651.7 731.4,650.6 731.9,650.2 732.4,651.1 732.9,652.1 733.4,651.7 733.9,651.1 734.4,651.7 734.9,652.6 735.4,652.9 735.9,653.4 736.4,653.9 736.9,653.8 737.4,653.5 737.9,652.7 738.4,651.3 738.9,651.1 739.4,652.3 739.9,654.2 740.4,654.8 740.9,653.4 741.4,652.2 741.9,653.1 742.4,654.7 742.9,654.1 743.4,653.5 743.9,653.5 744.4,652.8 744.9,653.3 745.4,654.0 745.9,653.4 746.4,653.5 746.9,656.1 747.4,656.5 747.9,654.4 748.4,654.8 748.9,657.4 749.4,658.2 749.9,655.8 750.4,654.3 750.9,656.5 751.4,658.6 751.9,657.7 752.4,657.9 752.9,657.7 753.4,654.0 753.9,653.7 754.4,657.5 754.9,658.1 755.4,656.7 755.9,657.6 756.4,658.5 756.9,658.0 757.4,657.3 757.9,657.1 758.4,657.7 758.9,658.6 759.4,660.3 759.9,662.1 760.4,660.9 760.9,659.1 761.4,661.1 761.9,663.1 762.4,663.1 762.9,663.0 763.4,662.9 763.9,662.3 764.4,662.1 764.9,662.1 765.4,662.4 765.9,662.8 766.4,660.8 766.9,660.1 767.4,662.7 767.9,663.7 768.4,663.9 768.9,664.3 769.4,663.4 769.9,662.7 770.4,663.6 770.9,664.5 771.4,665.7 771.9,665.9 772.4,663.9 772.9,663.5 773.4,663.9 773.9,662.5 774.4,661.2 774.9,662.5 775.4,664.0 775.9,663.8 776.4,663.1 776.9,662.7 777.4,662.5 777.9,661.6 778.4,661.2 778.9,662.1 779.4,663.4 779.9,663.1 780.4,661.4 780.9,662.6 781.4,665.0 781.9,664.2 782.4,661.6 782.9,660.1 783.4,660.5 783.9,661.4 784.4,661.7 784.9,661.8 785.4,661.1 785.9,659.0 786.4,657.7 786.9,657.3 787.4,657.7 787.9,659.3 788.4,661.8 788.9,663.4 789.4,661.8 789.9,660.6 790.4,660.5 790.9,659.2 791.4,659.4 791.9,660.5 792.4,660.2 792.9,658.9 793.4,657.0 793.9,655.8 794.4,656.1 794.9,656.7 795.4,657.2 795.9,657.2 796.4,655.9 796.9,654.9 797.4,655.4 797.9,654.0 798.4,651.8 798.9,651.7 799.4,653.5 799.9,655.6 800.4,654.7 800.9,652.5 801.4,652.5 801.9,651.8 802.4,649.9 802.9,648.8 803.4,648.3 803.9,647.6 804.4,647.0 804.9,647.8 805.4,648.6 805.9,648.4 806.4,649.4 806.9,650.6 807.4,650.0 807.9,649.9 808.4,650.7 808.9,650.9 809.4,649.7 809.9,647.4 810.4,645.9 810.9,645.9 811.4,646.5 811.9,647.0 812.4,647.7 812.9,648.1 813.4,648.3 813.9,649.2 814.4,648.2 814.9,646.5 815.4,644.6 815.9,643.2 816.4,645.4 816.9,646.6 817.4,644.4 817.9,644.2 818.4,646.2 818.9,645.3 819.4,644.3 819.9,644.9 820.4,643.5 820.9,642.6 821.4,642.8 821.9,642.6 822.4,643.3 822.9,644.1 823.4,643.3 823.9,642.4 824.4,643.2 824.9,644.4 825.4,644.2 825.9,643.4 826.4,644.0 826.9,644.0 827.4,642.4 827.9,641.2 828.4,641.9 828.9,641.8 829.4,639.8 829.9,638.7 830.4,640.3 830.9,642.6 831.4,643.0 831.9,642.9 832.4,642.6 832.9,642.3 833.4,642.1 833.9,642.7 834.4,644.0 834.9,644.0 835.4,642.8 835.9,642.2 836.4,643.0 836.9,643.3 837.4,644.2 837.9,645.3 838.4,644.5 838.9,645.3 839.4,647.7 839.9,648.4 840.4,647.7 840.9,648.3 841.4,648.6 841.9,646.8 842.4,645.5 842.9,647.5 843.4,651.3 843.9,652.1 844.4,651.3 844.9,652.2 845.4,653.8 845.9,655.1 846.4,657.8 846.9,659.7 847.4,658.8 847.9,658.3 848.4,658.7 848.9,659.1 849.4,660.2 849.9,661.6 850.4,663.1 850.9,665.0 851.4,665.7 851.9,667.0 852.4,669.0 852.9,668.9 853.4,671.1 853.9,673.6 854.4,673.4 854.9,675.3 855.4,677.0 855.9,675.4 856.4,675.0 856.9,677.9 857.4,678.9 857.9,679.3 858.4,680.9 858.9,681.6 859.4,682.5 859.9,683.3 860.4,683.5 860.9,683.6 861.4,684.0 861.9,684.8 862.4,686.2 862.9,688.1 863.4,689.3 863.9,691.1 864.4,692.7 864.9,691.3 865.4,690.0 865.9,692.0 866.4,694.8 866.9,697.0 867.4,698.4 867.9,698.3 868.4,698.1 868.9,697.9 869.4,698.3 869.9,700.6 870.4,702.0 870.9,701.7 871.4,701.6 871.9,701.7 872.4,702.5 872.9,702.9 873.4,703.3 873.9,705.3 874.4,707.6 874.9,708.4 875.4,707.1 875.9,706.4 876.4,707.1 876.9,707.4 877.4,706.9 877.9,705.9 878.4,706.0 878.9,707.2 879.4,707.6 879.9,707.0 880.4,707.3 880.9,709.4 881.4,710.9 881.9,711.2 882.4,712.2 882.9,713.2 883.4,712.6 883.9,711.2 884.4,709.8 884.9,708.9 885.4,710.4 885.9,711.9 886.4,712.4 886.9,714.8 887.4,715.5 887.9,714.2 888.4,713.4 888.9,711.7 889.4,711.3 889.9,712.9 890.4,713.8 890.9,713.6 891.4,714.6 891.9,716.9 892.4,716.8 892.9,716.2 893.4,716.5 893.9,716.1 894.4,715.2 894.9,714.0 895.4,714.6 895.9,716.6 896.4,715.2 896.9,713.5 897.4,713.7 897.9,715.8 898.4,719.0 898.9,720.1 899.4,720.5 899.9,720.9 900.4,719.9 900.9,718.7 901.4,717.6 901.9,717.4 902.4,717.7 902.9,717.9 903.4,718.7 903.9,720.6 904.4,720.8 904.9,718.4 905.4,717.5 905.9,719.8 906.4,721.0 906.9,719.2 907.4,718.3 907.9,720.2 908.4,720.3 908.9,718.5 909.4,718.4 909.9,718.2 910.4,720.3 910.9,722.7 911.4,722.0 911.9,721.0 912.4,720.5 912.9,722.0 913.4,724.6 913.9,723.9 914.4,721.1 914.9,720.3 915.4,722.3 915.9,724.1 916.4,723.6 916.9,722.7 917.4,720.8 917.9,720.4 918.4,722.4 918.9,721.9 919.4,720.2 919.9,719.9 920.4,720.1 920.9,719.7 921.4,720.3 921.9,722.8 922.4,724.0 922.9,723.4 923.4,722.6 923.9,722.6 924.4,723.5 924.9,724.5 925.4,724.5 925.9,723.1 926.4,721.2 926.9,720.1 927.4,720.4 927.9,721.0 928.4,720.9 928.9,721.9 929.4,724.4 929.9,723.0 930.4,719.8 930.9,719.4 931.4,720.8 931.9,723.2 932.4,724.0 932.9,723.0 933.4,723.2 933.9,724.0 934.4,725.5 934.9,726.0 935.4,725.1 935.9,724.5 936.4,723.7 936.9,722.2 937.4,722.0 937.9,723.2 938.4,723.4 938.9,723.0 939.4,723.2 939.9,722.7 940.4,721.9 940.9,723.1 941.4,724.7 941.9,725.1 942.4,724.7 942.9,722.4 943.4,721.4 943.9,723.7 944.4,724.6 944.9,724.0 945.4,725.0 945.9,726.3 946.4,725.9 946.9,724.6 947.4,722.8 947.9,721.9 948.4,723.2 948.9,725.4 949.4,725.3 949.9,722.9 950.4,721.6 950.9,722.9 951.4,723.1 951.9,720.8 952.4,722.6 952.9,726.7 953.4,725.6 953.9,723.0 954.4,723.9 954.9,725.8 955.4,725.5 955.9,723.9 956.4,723.8 956.9,725.0 957.4,725.5 957.9,725.8 958.4,725.2 958.9,725.1 959.4,725.7 959.9,725.1 960.4,724.3 960.9,723.8 961.4,723.7 961.9,723.6 962.4,723.7 962.9,725.3 963.4,727.7 963.9,728.8 964.4,727.6 964.9,726.3 965.4,726.7 965.9,727.3 966.4,726.4 966.9,725.2 967.4,725.4 967.9,725.6 968.4,725.5 968.9,725.4 969.4,725.4 969.9,723.7 970.4,721.5 970.9,722.1 971.4,723.8 971.9,723.2 972.4,721.1 972.9,721.3 973.4,722.9 973.9,724.2 974.4,724.4 974.9,722.9 975.4,722.5 975.9,724.0 976.4,725.2 976.9,725.4 977.4,725.2 977.9,724.8 978.4,724.3 978.9,724.7 979.4,725.5 979.9,724.9 980.4,723.9 980.9,723.6 981.4,723.6 981.9,724.6 982.4,727.6 982.9,729.3 983.4,727.4 983.9,726.0 984.4,726.3 984.9,726.8 985.4,727.0 985.9,726.9 986.4,727.7 986.9,729.3 987.4,727.2 987.9,723.9 988.4,724.3 988.9,723.8 989.4,721.6 989.9,722.1 990.4,723.3 990.9,723.8 991.4,723.5 991.9,723.2 992.4,725.3 992.9,726.7 993.4,726.0" stroke="#1A6FDF"/>
<path d="M97.4,630.6 97.9,627.6 98.4,624.4 98.9,621.8 99.4,619.3 99.9,617.7 100.4,616.0 100.9,613.9 101.4,612.7 101.9,611.6 102.4,611.7 102.9,613.1 103.4,614.1 103.9,612.9 104.4,609.4 104.9,605.4 105.4,602.0 105.9,599.9 106.4,597.0 106.9,593.1 107.4,589.6 107.9,583.9 108.4,576.6 108.9,570.1 109.4,562.2 109.9,549.8 110.4,532.9 110.9,510.9 111.4,480.8 111.9,441.1 112.4,395.2 112.9,355.2 113.4,335.1 113.9,343.5 114.4,377.2 114.9,422.5 115.4,466.9 115.9,502.3 116.4,528.3 116.9,547.5 117.4,559.7 117.9,566.6 118.4,570.6 118.9,574.0 119.4,578.4 119.9,580.9 120.4,583.4 120.9,586.5 121.4,588.3 121.9,589.3 122.4,589.2 122.9,589.4 123.4,590.8 123.9,592.0 124.4,592.5 124.9,591.6 125.4,591.4 125.9,593.4 126.4,594.4 126.9,593.9 127.4,593.8 127.9,594.3 128.4,593.8 128.9,593.8 129.4,594.2 129.9,595.1 130.4,595.7 130.9,595.4 131.4,595.8 131.9,595.3 132.4,593.5 132.9,593.1 133.4,593.6 133.9,593.9 134.4,593.3 134.9,592.6 135.4,593.5 135.9,593.8 136.4,592.1 136.9,590.8 137.4,590.8 137.9,590.8 138.4,590.6 138.9,590.2 139.4,589.4 139.9,588.6 140.4,587.2 140.9,584.3 141.4,583.2 141.9,582.8 142.4,581.3 142.9,580.0 143.4,578.2 143.9,576.4 144.4,574.5 144.9,572.8 145.4,571.1 145.9,568.4 146.4,566.4 146.9,564.6 147.4,560.5 147.9,556.6 148.4,554.5 148.9,551.9 149.4,548.8 149.9,544.3 150.4,538.9 150.9,534.8 151.4,530.3 151.9,524.2 152.4,517.0 152.9,509.4 153.4,504.7 153.9,499.6 154.4,491.1 154.9,483.6 155.4,477.2 155.9,470.0 156.4,461.0 156.9,450.3 157.4,441.2 157.9,431.7 158.4,420.3 158.9,410.1 159.4,400.2 159.9,387.9 160.4,372.9 160.9,357.5 161.4,344.1 161.9,330.0 162.4,313.7 162.9,297.8 163.4,281.1 163.9,260.5 164.4,239.2 164.9,219.0 165.4,198.0 165.9,178.3 166.4,160.0 166.9,140.5 167.4,117.6 167.9,96.0 168.4,78.3 168.9,63.8 169.4,52.6 169.9,46.0 170.4,42.6 170.9,42.8 171.4,49.6 171.9,61.1 172.4,74.4 172.9,90.3 173.4,109.5 173.9,130.3 174.4,154.3 174.9,181.7 175.4,208.7 175.9,234.6 176.4,260.3 176.9,285.1 177.4,309.2 177.9,332.7 178.4,354.4 178.9,373.8 179.4,391.0 179.9,405.5 180.4,418.9 180.9,430.9 181.4,439.3 181.9,445.6 182.4,452.5 182.9,459.6 183.4,467.5 183.9,473.9 184.4,479.0 184.9,485.3 185.4,491.5 185.9,496.2 186.4,500.8 186.9,505.6 187.4,510.4 187.9,515.6 188.4,518.7 188.9,520.9 189.4,524.3 189.9,525.5 190.4,525.0 190.9,524.3 191.4,521.5 191.9,519.0 192.4,515.6 192.9,510.8 193.4,507.6 193.9,503.9 194.4,498.8 194.9,494.3 195.4,490.1 195.9,485.4 196.4,481.1 196.9,477.6 197.4,475.2 197.9,473.6 198.4,471.0 198.9,469.8 199.4,470.8 199.9,472.7 200.4,475.3 200.9,477.6 201.4,479.7 201.9,483.0 202.4,487.9 202.9,493.3 203.4,497.9 203.9,500.9 204.4,505.3 204.9,512.0 205.4,517.0 205.9,520.9 206.4,525.7 206.9,530.3 207.4,534.9 207.9,540.1 208.4,544.9 208.9,548.5 209.4,552.2 209.9,559.2 210.4,568.1 210.9,573.0 211.4,576.5 211.9,579.6 212.4,583.9 212.9,587.5 213.4,589.6 213.9,592.8 214.4,597.1 214.9,601.0 215.4,604.8 215.9,608.6 216.4,612.1 216.9,614.6 217.4,616.8 217.9,620.0 218.4,623.1 218.9,625.5 219.4,627.2 219.9,629.3 220.4,632.3 220.9,634.7 221.4,636.1 221.9,637.4 222.4,638.4 222.9,639.5 223.4,640.6 223.9,641.1 224.4,641.6 224.9,643.3 225.4,645.0 225.9,644.7 226.4,644.2 226.9,644.8 227.4,645.8 227.9,646.2 228.4,645.3 228.9,645.5 229.4,646.7 229.9,647.3 230.4,648.5 230.9,650.0 231.4,651.4 231.9,652.0 232.4,651.2 232.9,650.0 233.4,649.6 233.9,650.3 234.4,650.5 234.9,650.3 235.4,651.4 235.9,652.7 236.4,653.0 236.9,652.9 237.4,652.7 237.9,652.5 238.4,652.1 238.9,652.0 239.4,653.8 239.9,655.3 240.4,654.9 240.9,654.0 241.4,654.1 241.9,654.6 242.4,654.5 242.9,654.6 243.4,654.2 243.9,653.8 244.4,654.5 244.9,654.4 245.4,654.1 245.9,654.0 246.4,653.3 246.9,652.8 247.4,652.6 247.9,651.9 248.4,651.2 248.9,649.9 249.4,648.6 249.9,648.4 250.4,648.5 250.9,648.8 251.4,648.1 251.9,646.3 252.4,644.9 252.9,643.5 253.4,642.9 253.9,642.2 254.4,640.2 254.9,639.5 255.4,640.2 255.9,639.8 256.4,638.1 256.9,637.4 257.4,637.3 257.9,635.0 258.4,633.1 258.9,633.0 259.4,631.3 259.9,629.2 260.4,628.0 260.9,626.2 261.4,624.0 261.9,621.3 262.4,618.5 262.9,616.7 263.4,613.5 263.9,609.1 264.4,606.0 264.9,603.6 265.4,600.7 265.9,598.1 266.4,595.3 266.9,590.3 267.4,583.8 267.9,578.0 268.4,571.8 268.9,564.6 269.4,557.3 269.9,548.7 270.4,541.0 270.9,534.6 271.4,530.3 271.9,530.4 272.4,532.4 272.9,535.5 273.4,540.4 273.9,545.1 274.4,550.3 274.9,557.0 275.4,560.2 275.9,565.5 276.4,573.0 276.9,580.5 277.4,586.5 277.9,591.6 278.4,597.4 278.9,602.2 279.4,605.6 279.9,609.1 280.4,612.8 280.9,616.3 281.4,620.3 281.9,624.6 282.4,628.2 282.9,630.7 283.4,633.1 283.9,635.8 284.4,637.7 284.9,639.0 285.4,641.0 285.9,642.7 286.4,643.6 286.9,644.7 287.4,646.0 287.9,647.1 288.4,648.3 288.9,650.3 289.4,651.7 289.9,652.7 290.4,654.1 290.9,654.9 291.4,655.1 291.9,655.3 292.4,654.8 292.9,654.6 293.4,656.8 293.9,659.1 294.4,659.3 294.9,660.8 295.4,662.3 295.9,662.4 296.4,663.8 296.9,664.9 297.4,665.2 297.9,665.6 298.4,664.5 298.9,663.5 299.4,663.8 299.9,663.4 300.4,662.5 300.9,663.8 301.4,665.7 301.9,665.1 302.4,664.1 302.9,664.2 303.4,664.4 303.9,664.4 304.4,663.7 304.9,662.8 305.4,662.5 305.9,663.3 306.4,665.0 306.9,666.3 307.4,666.3 307.9,665.8 308.4,664.5 308.9,662.8 309.4,661.8 309.9,661.2 310.4,660.4 310.9,661.5 311.4,662.9 311.9,662.6 312.4,661.7 312.9,660.0 313.4,658.3 313.9,658.1 314.4,658.5 314.9,659.4 315.4,658.7 315.9,656.2 316.4,654.6 316.9,654.1 317.4,652.7 317.9,651.5 318.4,651.3 318.9,651.1 319.4,649.5 319.9,647.5 320.4,645.9 320.9,645.0 321.4,644.5 321.9,643.2 322.4,641.8 322.9,640.7 323.4,639.2 323.9,637.3 324.4,636.8 324.9,637.6 325.4,636.7 325.9,635.7 326.4,635.2 326.9,633.2 327.4,631.4 327.9,630.4 328.4,629.5 328.9,627.9 329.4,625.7 329.9,623.8 330.4,622.7 330.9,620.5 331.4,617.1 331.9,615.2 332.4,613.6 332.9,610.6 333.4,608.0 333.9,606.3 334.4,603.8 334.9,600.9 335.4,597.8 335.9,594.6 336.4,591.8 336.9,588.7 337.4,586.3 337.9,584.4 338.4,582.0 338.9,579.2 339.4,577.2 339.9,575.5 340.4,571.9 340.9,568.1 341.4,566.3 341.9,565.2 342.4,564.2 342.9,562.7 343.4,562.2 343.9,563.0 344.4,562.5 344.9,561.8 345.4,562.2 345.9,563.3 346.4,564.5 346.9,564.5 347.4,562.3 347.9,559.1 348.4,558.5 348.9,558.6 349.4,556.3 349.9,551.5 350.4,547.3 350.9,544.9 351.4,541.2 351.9,536.7 352.4,533.9 352.9,531.3 353.4,526.8 353.9,519.7 354.4,512.5 354.9,505.2 355.4,495.1 355.9,483.9 356.4,473.2 356.9,462.5 357.4,450.2 357.9,436.4 358.4,422.9 358.9,410.5 359.4,397.9 359.9,385.7 360.4,375.0 360.9,364.4 361.4,356.5 361.9,353.6 362.4,355.7 362.9,361.6 363.4,370.2 363.9,381.4 364.4,392.5 364.9,401.6 365.4,411.5 365.9,422.8 366.4,436.8 366.9,460.4 367.4,490.5 367.9,515.9 368.4,529.2 368.9,537.9 369.4,544.7 369.9,552.1 370.4,560.3 370.9,568.0 371.4,575.9 371.9,582.8 372.4,589.9 372.9,597.9 373.4,604.2 373.9,608.5 374.4,613.0 374.9,619.8 375.4,626.2 375.9,630.2 376.4,633.8 376.9,637.5 377.4,640.1 377.9,641.0 378.4,641.8 378.9,644.0 379.4,647.4 379.9,650.1 380.4,651.0 380.9,652.0 381.4,653.7 381.9,654.5 382.4,655.3 382.9,656.0 383.4,656.8 383.9,659.0 384.4,660.3 384.9,660.1 385.4,660.7 385.9,662.9 386.4,664.6 386.9,664.2 387.4,664.6 387.9,665.7 388.4,665.3 388.9,665.5 389.4,667.5 389.9,669.1 390.4,670.0 390.9,671.1 391.4,672.3 391.9,672.8 392.4,673.0 392.9,674.2 393.4,676.1 393.9,677.6 394.4,678.3 394.9,677.1 395.4,675.2 395.9,676.5 396.4,679.2 396.9,679.9 397.4,680.6 397.9,682.8 398.4,683.5 398.9,683.3 399.4,684.2 399.9,684.7 400.4,685.4 400.9,686.7 401.4,686.8 401.9,686.6 402.4,687.8 402.9,689.0 403.4,690.1 403.9,691.5 404.4,692.5 404.9,694.5 405.4,694.9 405.9,694.1 406.4,695.6 406.9,697.2 407.4,696.7 407.9,696.5 408.4,698.8 408.9,700.2 409.4,699.5 409.9,700.1 410.4,701.0 410.9,701.1 411.4,701.4 411.9,702.6 412.4,704.2 412.9,704.2 413.4,704.2 413.9,705.1 414.4,705.0 414.9,705.7 415.4,707.1 415.9,707.9 416.4,708.3 416.9,708.4 417.4,708.4 417.9,708.8 418.4,709.8 418.9,710.2 419.4,709.4 419.9,709.8 420.4,710.1 420.9,709.3 421.4,709.2 421.9,709.1 422.4,707.9 422.9,708.3 423.4,709.5 423.9,710.0 424.4,711.2 424.9,711.4 425.4,711.2 425.9,711.6 426.4,711.7 426.9,711.3 427.4,711.1 427.9,712.1 428.4,713.6 428.9,714.5 429.4,714.4 429.9,713.3 430.4,711.7 430.9,711.2 431.4,713.0 431.9,713.9 432.4,713.4 432.9,714.3 433.4,714.9 433.9,714.5 434.4,714.6 434.9,713.3 435.4,711.5 435.9,711.9 436.4,713.1 436.9,713.4 437.4,712.8 437.9,712.3 438.4,712.5 438.9,713.2 439.4,714.3 439.9,715.3 440.4,715.3 440.9,714.6 441.4,714.3 441.9,714.3 442.4,715.0 442.9,714.4 443.4,712.2 443.9,712.8 444.4,714.9 444.9,714.9 445.4,713.8 445.9,714.4 446.4,715.0 446.9,713.2 447.4,711.8 447.9,712.3 448.4,713.2 448.9,713.9 449.4,714.6 449.9,715.7 450.4,714.9 450.9,713.2 451.4,712.7 451.9,713.0 452.4,714.8 452.9,715.8 453.4,715.2 453.9,714.5 454.4,713.8 454.9,715.1 455.4,715.9 455.9,714.5 456.4,715.2 456.9,714.9 457.4,711.9 457.9,711.0 458.4,712.7 458.9,714.2 459.4,713.9 459.9,713.9 460.4,714.6 460.9,714.4 461.4,713.9 461.9,714.1 462.4,714.3 462.9,714.3 463.4,714.8 463.9,713.7 464.4,712.9 464.9,714.1 465.4,713.3 465.9,711.8 466.4,712.0 466.9,711.7 467.4,712.3 467.9,713.3 468.4,713.0 468.9,713.0 469.4,714.1 469.9,715.0 470.4,713.5 470.9,711.3 471.4,710.9 471.9,711.7 472.4,712.8 472.9,713.6 473.4,714.1 473.9,713.8 474.4,713.4 474.9,713.3 475.4,713.1 475.9,713.6 476.4,714.3 476.9,713.8 477.4,711.8 477.9,710.3 478.4,711.2 478.9,711.4 479.4,710.1 479.9,711.3 480.4,712.7 480.9,711.9 481.4,712.3 481.9,714.8 482.4,715.0 482.9,713.9 483.4,714.7 483.9,714.2 484.4,713.7 484.9,714.5 485.4,713.1 485.9,711.5 486.4,711.6 486.9,711.6 487.4,711.5 487.9,712.7 488.4,714.1 488.9,713.5 489.4,713.5 489.9,713.9 490.4,713.2 490.9,713.2 491.4,713.2 491.9,713.0 492.4,713.1 492.9,713.0 493.4,712.5 493.9,711.8 494.4,712.1 494.9,713.0 495.4,712.4 495.9,711.3 496.4,711.2 496.9,711.8 497.4,712.6 497.9,713.2 498.4,712.8 498.9,712.3 499.4,711.9 499.9,710.0 500.4,709.2 500.9,710.5 501.4,710.7 501.9,710.5 502.4,711.6 502.9,712.4 503.4,712.2 503.9,712.4 504.4,712.0 504.9,710.6 505.4,710.9 505.9,712.8 506.4,714.0 506.9,715.0 507.4,715.5 507.9,714.4 508.4,713.3 508.9,713.0 509.4,712.8 509.9,712.1 510.4,712.8 510.9,713.5 511.4,712.1 511.9,712.3 512.4,713.5 512.9,712.7 513.4,711.7 513.9,711.8 514.4,711.5 514.9,711.3 515.4,711.8 515.9,711.8 516.4,712.1 516.9,712.4 517.4,712.0 517.9,712.0 518.4,712.2 518.9,712.5 519.4,712.7 519.9,712.0 520.4,710.9 520.9,710.4 521.4,710.9 521.9,712.2 522.4,713.5 522.9,713.2 523.4,712.0 523.9,710.8 524.4,708.9 524.9,708.0 525.4,709.1 525.9,709.5 526.4,708.5 526.9,708.9 527.4,710.4 527.9,709.7 528.4,710.0 528.9,712.6 529.4,712.0 529.9,710.8 530.4,710.7 530.9,710.8 531.4,710.7 531.9,708.6 532.4,707.7 532.9,708.5 533.4,709.5 533.9,709.5 534.4,707.6 534.9,707.0 535.4,708.2 535.9,708.9 536.4,708.7 536.9,708.7 537.4,708.4 537.9,706.5 538.4,705.7 538.9,705.8 539.4,704.7 539.9,703.8 540.4,703.5 540.9,703.0 541.4,702.8 541.9,702.8 542.4,703.3 542.9,704.0 543.4,705.1 543.9,708.0 544.4,709.5 544.9,708.3 545.4,706.6 545.9,706.7 546.4,708.2 546.9,708.5 547.4,707.8 547.9,707.8 548.4,708.1 548.9,707.7 549.4,706.8 549.9,706.1 550.4,707.0 550.9,708.4 551.4,708.1 551.9,708.4 552.4,709.4 552.9,710.0 553.4,709.1 553.9,707.6 554.4,708.9 554.9,709.5 555.4,707.5 555.9,707.9 556.4,709.5 556.9,708.9 557.4,709.1 557.9,710.3 558.4,710.6 558.9,710.3 559.4,710.1 559.9,711.2 560.4,712.3 560.9,710.7 561.4,709.2 561.9,710.6 562.4,711.1 562.9,711.0 563.4,711.3 563.9,711.1 564.4,711.9 564.9,712.4 565.4,712.5 565.9,711.2 566.4,709.7 566.9,710.6 567.4,711.7 567.9,712.3 568.4,711.9 568.9,710.8 569.4,711.3 569.9,711.7 570.4,710.4 570.9,709.1 571.4,709.6 571.9,711.4 572.4,711.4 572.9,709.4 573.4,709.3 573.9,710.2 574.4,709.5 574.9,709.3 575.4,708.6 575.9,708.0 576.4,709.3 576.9,710.8 577.4,712.8 577.9,713.2 578.4,711.6 578.9,711.6 579.4,711.3 579.9,709.4 580.4,709.5 580.9,710.9 581.4,710.2 581.9,709.3 582.4,709.2 582.9,708.9 583.4,709.2 583.9,710.6 584.4,710.9 584.9,708.8 585.4,707.5 585.9,707.6 586.4,707.1 586.9,708.2 587.4,711.2 587.9,712.3 588.4,709.9 588.9,708.2 589.4,707.7 589.9,706.1 590.4,707.3 590.9,710.1 591.4,709.2 591.9,706.2 592.4,706.0 592.9,708.0 593.4,708.0 593.9,707.4 594.4,707.6 594.9,706.2 595.4,705.6 595.9,707.0 596.4,706.6 596.9,705.1 597.4,705.3 597.9,706.2 598.4,706.6 598.9,707.0 599.4,707.4 599.9,707.5 600.4,706.4 600.9,704.5 601.4,703.2 601.9,704.3 602.4,708.0 602.9,709.1 603.4,705.6 603.9,704.1 604.4,705.7 604.9,705.8 605.4,704.9 605.9,704.0 606.4,703.2 606.9,704.2 607.4,706.5 607.9,706.8 608.4,705.1 608.9,704.2 609.4,705.2 609.9,705.8 610.4,704.6 610.9,703.4 611.4,704.1 611.9,704.3 612.4,702.3 612.9,701.6 613.4,703.0 613.9,704.1 614.4,704.0 614.9,702.8 615.4,701.5 615.9,700.8 616.4,700.2 616.9,700.0 617.4,700.4 617.9,701.4 618.4,701.8 618.9,700.6 619.4,700.2 619.9,701.2 620.4,702.4 620.9,701.7 621.4,700.8 621.9,701.2 622.4,700.6 622.9,700.6 623.4,701.9 623.9,702.6 624.4,702.8 624.9,702.4 625.4,701.1 625.9,699.4 626.4,698.5 626.9,699.4 627.4,699.9 627.9,699.7 628.4,698.7 628.9,697.3 629.4,697.4 629.9,699.3 630.4,699.8 630.9,698.7 631.4,699.0 631.9,699.1 632.4,697.3 632.9,696.0 633.4,696.5 633.9,698.0 634.4,697.7 634.9,695.6 635.4,694.5 635.9,696.0 636.4,697.2 636.9,696.2 637.4,695.8 637.9,695.7 638.4,694.7 638.9,695.3 639.4,695.6 639.9,694.2 640.4,693.8 640.9,694.6 641.4,694.5 641.9,694.2 642.4,694.5 642.9,693.9 643.4,692.6 643.9,692.6 644.4,694.2 644.9,695.5 645.4,694.7 645.9,693.2 646.4,693.7 646.9,693.8 647.4,692.8 647.9,692.8 648.4,693.8 648.9,693.2 649.4,691.3 649.9,690.9 650.4,690.7 650.9,690.7 651.4,691.7 651.9,690.8 652.4,688.7 652.9,688.5 653.4,688.3 653.9,687.8 654.4,688.6 654.9,688.7 655.4,688.2 655.9,689.1 656.4,689.5 656.9,687.9 657.4,687.3 657.9,687.9 658.4,686.2 658.9,684.1 659.4,684.2 659.9,685.8 660.4,686.1 660.9,685.3 661.4,684.6 661.9,683.4 662.4,682.2 662.9,682.2 663.4,683.1 663.9,683.9 664.4,683.7 664.9,681.6 665.4,679.9 665.9,680.5 666.4,681.0 666.9,680.1 667.4,680.9 667.9,681.5 668.4,680.2 668.9,678.2 669.4,676.1 669.9,675.3 670.4,675.4 670.9,676.3 671.4,676.3 671.9,675.8 672.4,676.6 672.9,675.9 673.4,674.2 673.9,672.7 674.4,672.0 674.9,673.7 675.4,675.0 675.9,673.4 676.4,672.1 676.9,672.0 677.4,672.3 677.9,671.9 678.4,669.7 678.9,667.9 679.4,669.0 679.9,670.5 680.4,669.9 680.9,669.1 681.4,667.2 681.9,665.9 682.4,667.3 682.9,667.7 683.4,666.3 683.9,666.1 684.4,666.1 684.9,665.7 685.4,665.6 685.9,663.9 686.4,662.1 686.9,662.8 687.4,663.0 687.9,662.9 688.4,663.3 688.9,663.2 689.4,663.9 689.9,664.2 690.4,662.2 690.9,659.9 691.4,660.4 691.9,661.8 692.4,660.8 692.9,659.6 693.4,660.1 693.9,660.8 694.4,660.8 694.9,660.0 695.4,658.6 695.9,658.1 696.4,658.3 696.9,657.1 697.4,655.7 697.9,655.8 698.4,656.9 698.9,659.2 699.4,660.8 699.9,660.3 700.4,658.4 700.9,657.0 701.4,657.0 701.9,656.7 702.4,655.9 702.9,654.6 703.4,654.5 703.9,656.4 704.4,657.2 704.9,657.0 705.4,658.6 705.9,658.0 706.4,654.2 706.9,652.5 707.4,652.5 707.9,652.4 708.4,652.5 708.9,653.2 709.4,654.5 709.9,654.4 710.4,653.3 710.9,652.5 711.4,652.3 711.9,652.5 712.4,652.5 712.9,652.2 713.4,651.3 713.9,650.5 714.4,652.3 714.9,653.5 715.4,651.2 715.9,649.9 716.4,651.1 716.9,649.1 717.4,646.5 717.9,648.5 718.4,650.8 718.9,651.4 719.4,651.7 719.9,651.1 720.4,648.8 720.9,646.5 721.4,646.9 721.9,649.0 722.4,649.3 722.9,647.7 723.4,647.7 723.9,647.8 724.4,645.6 724.9,645.1 725.4,647.3 725.9,648.4 726.4,646.7 726.9,645.6 727.4,646.4 727.9,647.3 728.4,648.4 728.9,648.9 729.4,649.1 729.9,649.1 730.4,648.7 730.9,649.8 731.4,650.6 731.9,650.4 732.4,649.9 732.9,649.0 733.4,649.3 733.9,648.7 734.4,647.4 734.9,647.5 735.4,647.5 735.9,647.6 736.4,648.9 736.9,649.6 737.4,648.8 737.9,647.6 738.4,646.9 738.9,648.4 739.4,650.4 739.9,650.4 740.4,649.3 740.9,647.7 741.4,647.1 741.9,647.2 742.4,646.3 742.9,647.0 743.4,648.5 743.9,649.2 744.4,649.5 744.9,648.4 745.4,647.8 745.9,647.8 746.4,647.8 746.9,647.9 747.4,648.4 747.9,648.7 748.4,648.9 748.9,650.6 749.4,651.2 749.9,650.3 750.4,650.4 750.9,650.4 751.4,651.3 751.9,651.4 752.4,648.6 752.9,647.2 753.4,647.8 753.9,649.0 754.4,652.5 754.9,655.3 755.4,654.6 755.9,654.0 756.4,653.4 756.9,651.7 757.4,652.5 757.9,653.7 758.4,652.7 758.9,652.2 759.4,651.4 759.9,649.8 760.4,650.2 760.9,652.1 761.4,652.3 761.9,651.1 762.4,651.2 762.9,651.8 763.4,652.5 763.9,653.2 764.4,653.1 764.9,652.0 765.4,650.4 765.9,650.8 766.4,651.5 766.9,651.2 767.4,651.8 767.9,651.7 768.4,651.9 768.9,652.7 769.4,651.9 769.9,651.0 770.4,651.6 770.9,654.1 771.4,654.7 771.9,651.7 772.4,651.1 772.9,652.6 773.4,653.0 773.9,650.7 774.4,649.5 774.9,651.2 775.4,651.0 775.9,649.8 776.4,648.8 776.9,648.4 777.4,649.9 777.9,651.5 778.4,651.2 778.9,649.9 779.4,649.5 779.9,649.2 780.4,648.9 780.9,649.3 781.4,648.8 781.9,647.6 782.4,647.4 782.9,647.7 783.4,646.9 783.9,647.0 784.4,647.8 784.9,647.2 785.4,646.7 785.9,647.1 786.4,645.6 786.9,644.4 787.4,645.8 787.9,644.7 788.4,642.7 788.9,644.7 789.4,646.8 789.9,644.7 790.4,641.8 790.9,642.4 791.4,643.1 791.9,641.4 792.4,640.9 792.9,642.7 793.4,643.8 793.9,643.0 794.4,642.0 794.9,640.2 795.4,639.6 795.9,641.2 796.4,640.1 796.9,638.2 797.4,639.3 797.9,639.7 798.4,638.4 798.9,638.3 799.4,638.1 799.9,636.9 800.4,636.0 800.9,635.8 801.4,635.3 801.9,634.7 802.4,634.5 802.9,634.1 803.4,634.8 803.9,634.7 804.4,634.3 804.9,636.4 805.4,638.2 805.9,636.2 806.4,633.9 806.9,634.6 807.4,634.5 807.9,633.0 808.4,632.3 808.9,633.2 809.4,634.5 809.9,633.5 810.4,631.5 810.9,630.5 811.4,631.0 811.9,632.8 812.4,633.0 812.9,630.6 813.4,629.6 813.9,629.3 814.4,629.0 814.9,630.0 815.4,629.5 815.9,627.1 816.4,627.5 816.9,629.6 817.4,629.8 817.9,628.7 818.4,627.4 818.9,627.2 819.4,627.5 819.9,626.3 820.4,625.5 820.9,626.8 821.4,627.2 821.9,626.5 822.4,627.5 822.9,627.3 823.4,625.6 823.9,625.6 824.4,626.4 824.9,627.1 825.4,626.3 825.9,623.9 826.4,624.1 826.9,626.4 827.4,627.0 827.9,626.8 828.4,627.7 828.9,627.5 829.4,626.5 829.9,626.6 830.4,626.7 830.9,628.0 831.4,628.2 831.9,626.5 832.4,626.8 832.9,627.2 833.4,627.2 833.9,627.1 834.4,626.3 834.9,627.0 835.4,629.4 835.9,630.2 836.4,628.4 836.9,629.3 837.4,633.0 837.9,633.9 838.4,632.0 838.9,630.8 839.4,631.6 839.9,632.8 840.4,634.1 840.9,636.2 841.4,636.9 841.9,636.1 842.4,635.3 842.9,635.4 843.4,637.0 843.9,638.8 844.4,639.5 844.9,640.3 845.4,641.8 845.9,643.7 846.4,645.0 846.9,644.2 847.4,643.7 847.9,646.3 848.4,648.5 848.9,648.4 849.4,648.7 849.9,650.1 850.4,651.8 850.9,652.6 851.4,652.7 851.9,654.6 852.4,657.6 852.9,659.5 853.4,660.5 853.9,660.8 854.4,660.4 854.9,661.6 855.4,663.0 855.9,663.0 856.4,663.1 856.9,663.6 857.4,665.2 857.9,666.5 858.4,667.8 858.9,670.0 859.4,670.8 859.9,671.7 860.4,672.9 860.9,674.8 861.4,677.1 861.9,677.7 862.4,677.5 862.9,677.7 863.4,679.0 863.9,680.8 864.4,681.8 864.9,682.9 865.4,685.5 865.9,687.6 866.4,687.5 866.9,687.3 867.4,689.8 867.9,693.7 868.4,694.7 868.9,693.9 869.4,693.5 869.9,693.2 870.4,694.1 870.9,695.7 871.4,696.1 871.9,695.7 872.4,696.7 872.9,698.9 873.4,698.6 873.9,697.4 874.4,699.9 874.9,702.1 875.4,701.6 875.9,701.0 876.4,701.3 876.9,702.3 877.4,701.7 877.9,701.4 878.4,704.5 878.9,706.9 879.4,704.9 879.9,703.7 880.4,705.6 880.9,707.6 881.4,707.8 881.9,705.2 882.4,704.1 882.9,706.2 883.4,708.1 883.9,709.2 884.4,708.8 884.9,706.7 885.4,706.6 885.9,708.8 886.4,710.4 886.9,710.3 887.4,708.8 887.9,708.9 888.4,711.2 888.9,713.8 889.4,714.5 889.9,713.4 890.4,712.3 890.9,710.6 891.4,709.9 891.9,710.5 892.4,710.7 892.9,710.8 893.4,711.5 893.9,712.4 894.4,713.1 894.9,714.0 895.4,714.1 895.9,714.9 896.4,716.3 896.9,716.0 897.4,715.2 897.9,715.2 898.4,715.7 898.9,715.8 899.4,715.9 899.9,717.9 900.4,719.6 900.9,718.5 901.4,715.8 901.9,714.3 902.4,715.7 902.9,717.7 903.4,718.5 903.9,717.7 904.4,718.3 904.9,719.2 905.4,718.9 905.9,719.7 906.4,719.4 906.9,717.6 907.4,717.8 907.9,717.7 908.4,716.2 908.9,715.2 909.4,716.3 909.9,718.6 910.4,719.3 910.9,718.9 911.4,718.3 911.9,718.5 912.4,718.3 912.9,716.8 913.4,717.3 913.9,719.8 914.4,720.1 914.9,719.2 915.4,720.2 915.9,722.5 916.4,722.8 916.9,721.2 917.4,722.4 917.9,724.0 918.4,723.4 918.9,721.4 919.4,719.8 919.9,721.5 920.4,721.1 920.9,719.6 921.4,722.0 921.9,724.2 922.4,724.6 922.9,724.0 923.4,722.1 923.9,720.7 924.4,721.0 924.9,722.0 925.4,722.4 925.9,722.0 926.4,722.6 926.9,723.7 927.4,724.9 927.9,727.0 928.4,726.0 928.9,722.2 929.4,720.5 929.9,720.1 930.4,720.9 930.9,722.2 931.4,721.4 931.9,720.9 932.4,722.6 932.9,723.7 933.4,723.0 933.9,723.1 934.4,724.5 934.9,724.8 935.4,724.8 935.9,724.3 936.4,722.9 936.9,722.8 937.4,723.5 937.9,725.0 938.4,724.7 938.9,723.7 939.4,724.0 939.9,723.9 940.4,724.7 940.9,724.3 941.4,722.2 941.9,721.8 942.4,722.9 942.9,723.3 943.4,723.5 943.9,723.5 944.4,722.7 944.9,723.3 945.4,723.0 945.9,722.1 946.4,722.7 946.9,721.3 947.4,720.0 947.9,721.9 948.4,724.3 948.9,725.1 949.4,725.3 949.9,727.0 950.4,728.0 950.9,727.7 951.4,727.2 951.9,725.5 952.4,724.6 952.9,725.7 953.4,726.5 953.9,725.5 954.4,723.6 954.9,723.0 955.4,724.9 955.9,724.8 956.4,723.4 956.9,724.6 957.4,725.8 957.9,725.7 958.4,726.3 958.9,725.4 959.4,723.3 959.9,723.9 960.4,725.9 960.9,727.3 961.4,726.1 961.9,723.4 962.4,724.1 962.9,726.6 963.4,728.1 963.9,727.4 964.4,724.7 964.9,723.3 965.4,724.0 965.9,724.6 966.4,724.7 966.9,726.3 967.4,727.4 967.9,724.9 968.4,722.2 968.9,723.4 969.4,724.8 969.9,723.7 970.4,723.9 970.9,725.5 971.4,726.4 971.9,726.3 972.4,725.4 972.9,724.8 973.4,724.9 973.9,725.5 974.4,726.0 974.9,726.1 975.4,725.4 975.9,724.5 976.4,725.6 976.9,726.6 977.4,726.7 977.9,726.7 978.4,727.4 978.9,727.4 979.4,725.6 979.9,725.0 980.4,725.3 980.9,724.4 981.4,723.3 981.9,723.9 982.4,724.4 982.9,724.1 983.4,723.6 983.9,724.2 984.4,726.5 984.9,728.1 985.4,727.5 985.9,724.7 986.4,723.5 986.9,723.9 987.4,723.6 987.9,724.2 988.4,724.4 988.9,724.7 989.4,725.5 989.9,726.8 990.4,728.2 990.9,726.6 991.4,724.8 991.9,725.0 992.4,724.4 992.9,723.9 993.4,723.9" stroke="#37AD6B"/>
<path d="M97.4,606.4 97.9,604.4 98.4,599.8 98.9,595.0 99.4,591.1 99.9,589.3 100.4,588.9 100.9,587.3 101.4,587.0 101.9,587.8 102.4,587.6 102.9,588.3 103.4,588.6 103.9,585.6 104.4,580.9 104.9,575.9 105.4,570.4 105.9,565.9 106.4,562.2 106.9,557.7 107.4,550.9 107.9,542.5 108.4,533.9 108.9,524.2 109.4,513.4 109.9,501.5 110.4,486.1 110.9,465.5 111.4,439.6 111.9,406.6 112.4,367.3 112.9,331.6 113.4,313.7 113.9,322.2 114.4,353.4 114.9,393.7 115.4,430.4 115.9,459.6 116.4,482.2 116.9,499.1 117.4,512.6 117.9,524.1 118.4,532.5 118.9,539.1 119.4,544.5 119.9,548.3 120.4,551.8 120.9,554.5 121.4,556.9 121.9,559.6 122.4,561.7 122.9,563.9 123.4,565.9 123.9,568.1 124.4,570.1 124.9,570.1 125.4,569.7 125.9,570.1 126.4,570.2 126.9,569.9 127.4,570.6 127.9,572.1 128.4,572.4 128.9,571.7 129.4,572.5 129.9,573.6 130.4,573.1 130.9,572.7 131.4,572.8 131.9,572.3 132.4,573.0 132.9,572.7 133.4,570.6 133.9,570.6 134.4,571.1 134.9,570.1 135.4,568.9 135.9,567.9 136.4,567.2 136.9,567.5 137.4,567.3 137.9,565.7 138.4,564.4 138.9,563.9 139.4,563.4 139.9,562.4 140.4,560.9 140.9,558.8 141.4,555.5 141.9,553.3 142.4,553.8 142.9,552.5 143.4,548.7 143.9,546.3 144.4,545.3 144.9,543.6 145.4,541.1 145.9,537.9 146.4,534.0 146.9,530.4 147.4,526.7 147.9,523.0 148.4,520.0 148.9,516.3 149.4,511.6 149.9,506.8 150.4,501.8 150.9,496.2 151.4,490.0 151.9,483.2 152.4,478.1 152.9,473.5 153.4,467.1 153.9,459.8 154.4,452.9 154.9,447.1 155.4,439.9 155.9,431.4 156.4,423.4 156.9,415.5 157.4,407.0 157.9,396.5 158.4,385.4 158.9,376.0 159.4,366.6 159.9,355.0 160.4,342.5 160.9,330.3 161.4,317.4 161.9,302.9 162.4,286.9 162.9,271.7 163.4,256.5 163.9,239.4 164.4,222.1 164.9,204.1 165.4,184.1 165.9,165.7 166.4,148.4 166.9,130.3 167.4,110.1 167.9,90.3 168.4,74.0 168.9,62.1 169.4,52.4 169.9,45.5 170.4,42.3 170.9,43.4 171.4,49.3 171.9,58.2 172.4,70.9 172.9,87.7 173.4,106.8 173.9,129.5 174.4,155.0 174.9,180.6 175.4,206.1 175.9,231.2 176.4,256.2 176.9,281.0 177.4,304.2 177.9,325.7 178.4,346.5 178.9,366.0 179.4,382.7 179.9,398.5 180.4,411.9 180.9,420.6 181.4,427.4 181.9,434.9 182.4,443.5 182.9,451.0 183.4,457.7 183.9,464.4 184.4,470.6 184.9,474.3 185.4,478.2 185.9,484.2 186.4,490.0 186.9,494.0 187.4,498.1 187.9,502.9 188.4,506.4 188.9,507.9 189.4,509.2 189.9,510.9 190.4,511.7 190.9,510.8 191.4,507.7 191.9,504.2 192.4,501.3 192.9,497.8 193.4,493.8 193.9,489.3 194.4,485.2 194.9,481.3 195.4,476.9 195.9,472.3 196.4,468.2 196.9,464.8 197.4,461.9 197.9,459.6 198.4,457.2 198.9,455.6 199.4,457.4 199.9,460.1 200.4,461.7 200.9,463.9 201.4,466.7 201.9,469.4 202.4,473.6 202.9,479.9 203.4,486.0 203.9,490.5 204.4,495.0 204.9,499.4 205.4,503.9 205.9,509.0 206.4,514.6 206.9,519.8 207.4,524.4 207.9,529.6 208.4,535.1 208.9,538.5 209.4,541.8 209.9,548.3 210.4,557.3 210.9,564.6 211.4,570.0 211.9,573.1 212.4,575.7 212.9,578.7 213.4,582.7 213.9,586.4 214.4,589.8 214.9,594.2 215.4,598.8 215.9,602.1 216.4,604.1 216.9,606.9 217.4,611.2 217.9,614.9 218.4,618.5 218.9,622.3 219.4,624.6 219.9,626.1 220.4,628.5 220.9,630.5 221.4,631.3 221.9,632.6 222.4,634.1 222.9,634.6 223.4,634.9 223.9,635.9 224.4,637.1 224.9,638.4 225.4,639.7 225.9,640.9 226.4,642.6 226.9,642.9 227.4,642.4 227.9,643.4 228.4,644.4 228.9,645.4 229.4,645.8 229.9,645.8 230.4,646.1 230.9,646.3 231.4,646.9 231.9,647.5 232.4,647.7 232.9,647.8 233.4,647.8 233.9,648.2 234.4,648.4 234.9,649.4 235.4,650.4 235.9,650.3 236.4,651.0 236.9,652.3 237.4,651.5 237.9,650.4 238.4,650.9 238.9,651.7 239.4,651.7 239.9,651.5 240.4,651.2 240.9,651.2 241.4,651.7 241.9,652.0 242.4,651.4 242.9,651.0 243.4,651.1 243.9,650.4 244.4,650.5 244.9,650.8 245.4,650.3 245.9,650.6 246.4,650.3 246.9,649.5 247.4,650.0 247.9,649.8 248.4,648.6 248.9,648.3 249.4,648.6 249.9,648.0 250.4,646.5 250.9,644.9 251.4,643.9 251.9,643.9 252.4,644.3 252.9,643.9 253.4,643.2 253.9,642.4 254.4,640.5 254.9,638.8 255.4,638.5 255.9,637.6 256.4,635.2 256.9,634.3 257.4,633.8 257.9,633.1 258.4,632.9 258.9,631.3 259.4,628.4 259.9,626.0 260.4,624.4 260.9,622.7 261.4,620.7 261.9,618.6 262.4,616.1 262.9,614.4 263.4,612.5 263.9,608.8 264.4,603.4 264.9,599.3 265.4,598.0 265.9,595.9 266.4,591.5 266.9,586.9 267.4,581.3 267.9,574.2 268.4,566.7 268.9,558.4 269.4,550.8 269.9,542.9 270.4,534.9 270.9,529.2 271.4,525.5 271.9,524.4 272.4,526.4 272.9,530.0 273.4,535.0 273.9,540.7 274.4,546.3 274.9,551.6 275.4,554.1 275.9,560.1 276.4,568.6 276.9,577.2 277.4,583.5 277.9,588.2 278.4,594.1 278.9,599.0 279.4,603.0 279.9,607.5 280.4,611.1 280.9,613.6 281.4,616.6 281.9,619.6 282.4,622.2 282.9,625.3 283.4,628.0 283.9,629.8 284.4,632.2 284.9,635.4 285.4,637.9 285.9,638.9 286.4,639.9 286.9,641.8 287.4,643.4 287.9,644.9 288.4,645.8 288.9,645.7 289.4,646.3 289.9,647.0 290.4,648.6 290.9,651.1 291.4,651.1 291.9,650.3 292.4,651.3 292.9,652.7 293.4,653.9 293.9,654.3 294.4,654.4 294.9,655.1 295.4,655.8 295.9,655.9 296.4,656.0 296.9,656.5 297.4,656.8 297.9,656.5 298.4,656.9 298.9,657.4 299.4,657.7 299.9,657.9 300.4,657.4 300.9,657.3 301.4,657.9 301.9,658.4 302.4,658.4 302.9,658.6 303.4,658.2 303.9,657.6 304.4,657.9 304.9,657.9 305.4,657.7 305.9,658.3 306.4,658.8 306.9,659.4 307.4,659.3 307.9,658.0 308.4,656.7 308.9,656.6 309.4,657.6 309.9,658.0 310.4,656.8 310.9,655.7 311.4,655.6 311.9,655.5 312.4,654.7 312.9,652.9 313.4,651.5 313.9,652.4 314.4,653.4 314.9,651.8 315.4,649.7 315.9,649.1 316.4,649.2 316.9,650.0 317.4,648.7 317.9,646.8 318.4,646.3 318.9,645.4 319.4,644.6 319.9,643.3 320.4,641.8 320.9,641.0 321.4,640.1 321.9,639.8 322.4,638.4 322.9,635.6 323.4,634.8 323.9,635.9 324.4,635.0 324.9,632.8 325.4,632.2 325.9,630.8 326.4,628.8 326.9,627.3 327.4,626.5 327.9,625.8 328.4,623.2 328.9,621.2 329.4,621.3 329.9,619.4 330.4,615.9 330.9,613.5 331.4,611.6 331.9,610.1 332.4,608.3 332.9,605.5 333.4,602.2 333.9,599.7 334.4,597.7 334.9,595.8 335.4,593.2 335.9,589.5 336.4,586.3 336.9,583.0 337.4,579.8 337.9,577.4 338.4,573.7 338.9,569.4 339.4,566.8 339.9,564.0 340.4,561.0 340.9,559.1 341.4,556.8 341.9,554.2 342.4,553.3 342.9,552.1 343.4,550.0 343.9,549.4 344.4,550.4 344.9,550.2 345.4,549.1 345.9,549.3 346.4,549.9 346.9,549.4 347.4,548.9 347.9,548.8 348.4,547.3 348.9,545.4 349.4,543.3 349.9,539.9 350.4,536.8 350.9,534.1 351.4,530.7 351.9,527.5 352.4,524.2 352.9,520.0 353.4,514.7 353.9,508.0 354.4,500.2 354.9,491.8 355.4,482.8 355.9,473.6 356.4,463.5 356.9,451.7 357.4,438.9 357.9,426.2 358.4,413.4 358.9,400.1 359.4,386.8 359.9,374.6 360.4,363.2 360.9,352.6 361.4,345.6 361.9,342.5 362.4,344.0 362.9,350.1 363.4,358.7 363.9,370.8 364.4,383.4 364.9,393.4 365.4,404.3 365.9,415.8 366.4,429.0 366.9,451.7 367.4,481.4 367.9,507.6 368.4,523.1 368.9,532.4 369.4,538.7 369.9,546.7 370.4,557.1 370.9,565.6 371.4,571.7 371.9,577.7 372.4,584.8 372.9,593.6 373.4,601.2 373.9,607.0 374.4,610.8 374.9,615.5 375.4,622.2 375.9,627.0 376.4,629.9 376.9,633.7 377.4,636.6 377.9,638.0 378.4,640.2 378.9,643.8 379.4,646.1 379.9,646.7 380.4,648.6 380.9,650.5 381.4,650.7 381.9,651.0 382.4,652.1 382.9,653.8 383.4,655.2 383.9,655.9 384.4,656.2 384.9,656.6 385.4,657.6 385.9,659.6 386.4,661.6 386.9,662.2 387.4,663.0 387.9,665.0 388.4,666.0 388.9,665.8 389.4,666.7 389.9,668.6 390.4,669.2 390.9,669.3 391.4,670.4 391.9,671.8 392.4,672.6 392.9,672.9 393.4,674.1 393.9,674.6 394.4,674.8 394.9,676.6 395.4,677.2 395.9,677.4 396.4,678.7 396.9,678.3 397.4,678.2 397.9,680.0 398.4,681.9 398.9,682.7 399.4,683.5 399.9,684.8 400.4,685.9 400.9,687.7 401.4,689.0 401.9,687.0 402.4,685.1 402.9,686.2 403.4,687.9 403.9,689.4 404.4,690.1 404.9,689.8 405.4,690.5 405.9,692.1 406.4,692.3 406.9,692.6 407.4,695.0 407.9,696.5 408.4,696.9 408.9,697.3 409.4,697.3 409.9,698.7 410.4,700.8 410.9,701.6 411.4,701.3 411.9,700.7 412.4,701.4 412.9,703.3 413.4,703.7 413.9,702.1 414.4,701.2 414.9,701.5 415.4,703.1 415.9,705.5 416.4,705.9 416.9,705.1 417.4,706.8 417.9,709.3 418.4,708.5 418.9,706.2 419.4,705.9 419.9,705.4 420.4,705.6 420.9,708.5 421.4,711.4 421.9,711.1 422.4,709.3 422.9,708.6 423.4,709.6 423.9,709.7 424.4,707.7 424.9,708.1 425.4,711.0 425.9,712.1 426.4,712.2 426.9,712.3 427.4,711.9 427.9,711.2 428.4,712.0 428.9,713.5 429.4,712.9 429.9,712.0 430.4,711.9 430.9,710.8 431.4,710.3 431.9,712.5 432.4,714.2 432.9,713.1 433.4,711.8 433.9,712.9 434.4,713.3 434.9,711.1 435.4,710.3 435.9,712.8 436.4,714.4 436.9,712.8 437.4,710.6 437.9,711.0 438.4,713.6 438.9,714.6 439.4,713.8 439.9,713.3 440.4,713.1 440.9,712.7 441.4,712.2 441.9,712.4 442.4,712.9 442.9,713.6 443.4,714.5 443.9,714.3 444.4,714.0 444.9,714.4 445.4,713.6 445.9,714.0 446.4,715.6 446.9,714.3 447.4,712.5 447.9,714.1 448.4,716.1 448.9,714.6 449.4,711.8 449.9,711.8 450.4,713.0 450.9,713.8 451.4,714.4 451.9,714.3 452.4,714.8 452.9,714.1 453.4,711.9 453.9,711.6 454.4,712.6 454.9,713.9 455.4,714.5 455.9,714.3 456.4,713.6 456.9,710.8 457.4,709.3 457.9,711.8 458.4,713.6 458.9,712.8 459.4,712.4 459.9,714.3 460.4,715.5 460.9,713.9 461.4,712.1 461.9,713.1 462.4,714.8 462.9,714.5 463.4,714.5 463.9,715.3 464.4,714.4 464.9,713.2 465.4,714.1 465.9,714.7 466.4,714.6 466.9,714.1 467.4,712.9 467.9,712.4 468.4,712.8 468.9,713.2 469.4,712.9 469.9,712.5 470.4,712.0 470.9,712.1 471.4,712.5 471.9,712.9 472.4,713.2 472.9,713.1 473.4,712.1 473.9,711.9 474.4,713.5 474.9,713.7 475.4,713.0 475.9,713.7 476.4,714.5 476.9,714.3 477.4,715.3 477.9,717.0 478.4,717.7 478.9,717.3 479.4,715.5 479.9,714.6 480.4,716.2 480.9,717.2 481.4,716.8 481.9,716.2 482.4,715.1 482.9,714.9 483.4,716.4 483.9,716.2 484.4,714.9 484.9,715.4 485.4,716.1 485.9,716.1 486.4,716.2 486.9,716.7 487.4,717.0 487.9,715.6 488.4,714.3 488.9,715.1 489.4,714.8 489.9,714.1 490.4,714.4 490.9,714.3 491.4,716.0 491.9,716.9 492.4,715.8 492.9,715.9 493.4,716.3 493.9,715.2 494.4,714.2 494.9,715.0 495.4,715.9 495.9,715.9 496.4,716.0 496.9,716.3 497.4,716.3 497.9,716.6 498.4,716.9 498.9,716.5 499.4,716.3 499.9,716.1 500.4,715.5 500.9,715.2 501.4,716.3 501.9,716.7 502.4,716.1 502.9,716.1 503.4,715.4 503.9,714.4 504.4,715.6 504.9,716.4 505.4,714.4 505.9,713.1 506.4,714.0 506.9,715.5 507.4,716.7 507.9,716.0 508.4,714.7 508.9,714.5 509.4,714.7 509.9,714.1 510.4,713.8 510.9,714.0 511.4,714.8 511.9,715.3 512.4,714.4 512.9,713.9 513.4,713.4 513.9,713.9 514.4,714.8 514.9,714.3 515.4,714.5 515.9,714.1 516.4,715.3 516.9,716.0 517.4,712.9 517.9,712.7 518.4,715.3 518.9,715.1 519.4,714.0 519.9,713.6 520.4,713.5 520.9,714.8 521.4,715.8 521.9,714.7 522.4,714.8 522.9,716.6 523.4,716.6 523.9,714.7 524.4,713.8 524.9,713.2 525.4,712.8 525.9,712.8 526.4,712.0 526.9,710.6 527.4,710.3 527.9,711.9 528.4,713.9 528.9,714.5 529.4,713.4 529.9,713.2 530.4,714.2 530.9,714.1 531.4,713.2 531.9,713.7 532.4,714.5 532.9,713.0 533.4,710.9 533.9,710.5 534.4,711.5 534.9,712.8 535.4,713.3 535.9,712.4 536.4,712.2 536.9,713.0 537.4,712.1 537.9,710.6 538.4,711.1 538.9,710.7 539.4,709.6 539.9,709.2 540.4,709.0 540.9,708.0 541.4,707.5 541.9,709.3 542.4,709.8 542.9,709.0 543.4,710.7 543.9,712.7 544.4,711.6 544.9,710.9 545.4,711.5 545.9,710.3 546.4,709.5 546.9,709.7 547.4,710.3 547.9,711.5 548.4,711.2 548.9,710.2 549.4,710.3 549.9,710.6 550.4,710.5 550.9,710.3 551.4,709.8 551.9,709.9 552.4,710.2 552.9,710.3 553.4,711.0 553.9,710.8 554.4,710.0 554.9,710.0 555.4,710.6 555.9,711.2 556.4,711.5 556.9,711.0 557.4,711.5 557.9,713.4 558.4,713.7 558.9,713.1 559.4,713.3 559.9,712.9 560.4,712.2 560.9,713.7 561.4,715.7 561.9,715.4 562.4,713.8 562.9,712.9 563.4,714.0 563.9,715.3 564.4,714.6 564.9,714.4 565.4,714.5 565.9,714.4 566.4,714.3 566.9,713.5 567.4,712.4 567.9,713.0 568.4,714.6 568.9,713.7 569.4,712.9 569.9,713.1 570.4,712.0 570.9,711.0 571.4,710.8 571.9,711.0 572.4,711.4 572.9,711.8 573.4,711.2 573.9,710.5 574.4,710.6 574.9,710.7 575.4,711.0 575.9,712.2 576.4,712.3 576.9,710.8 577.4,710.0 577.9,710.1 578.4,709.8 578.9,710.3 579.4,710.5 579.9,709.5 580.4,708.9 580.9,710.3 581.4,712.0 581.9,711.0 582.4,710.4 582.9,711.3 583.4,711.6 583.9,710.7 584.4,708.6 584.9,709.8 585.4,712.7 585.9,711.2 586.4,709.3 586.9,710.0 587.4,709.9 587.9,708.7 588.4,708.9 588.9,709.6 589.4,709.8 589.9,709.2 590.4,707.9 590.9,706.3 591.4,706.1 591.9,707.5 592.4,707.2 592.9,708.0 593.4,709.6 593.9,708.9 594.4,708.4 594.9,708.4 595.4,708.5 595.9,707.9 596.4,707.8 596.9,708.5 597.4,707.1 597.9,705.6 598.4,706.4 598.9,706.9 599.4,706.5 599.9,707.5 600.4,709.1 600.9,708.9 601.4,707.3 601.9,705.9 602.4,704.6 602.9,704.8 603.4,706.1 603.9,706.3 604.4,705.8 604.9,705.1 605.4,704.5 605.9,704.7 606.4,705.6 606.9,706.1 607.4,706.4 607.9,706.8 608.4,705.5 608.9,702.9 609.4,702.7 609.9,703.4 610.4,703.8 610.9,705.1 611.4,705.0 611.9,703.9 612.4,704.2 612.9,704.5 613.4,703.3 613.9,703.0 614.4,703.9 614.9,704.4 615.4,704.5 615.9,704.0 616.4,703.0 616.9,701.4 617.4,700.7 617.9,699.9 618.4,699.1 618.9,701.1 619.4,702.7 619.9,701.7 620.4,701.5 620.9,702.0 621.4,701.9 621.9,702.9 622.4,703.8 622.9,702.9 623.4,701.9 623.9,701.3 624.4,700.7 624.9,700.3 625.4,700.5 625.9,699.9 626.4,698.2 626.9,698.5 627.4,699.3 627.9,698.4 628.4,698.0 628.9,698.2 629.4,699.2 629.9,700.4 630.4,700.6 630.9,699.1 631.4,697.7 631.9,698.1 632.4,699.3 632.9,698.3 633.4,696.1 633.9,695.6 634.4,695.8 634.9,697.0 635.4,698.0 635.9,697.9 636.4,698.0 636.9,696.9 637.4,695.9 637.9,696.7 638.4,697.3 638.9,696.2 639.4,694.8 639.9,694.7 640.4,695.5 640.9,694.7 641.4,693.5 641.9,693.3 642.4,693.1 642.9,694.2 643.4,695.7 643.9,696.1 644.4,696.3 644.9,695.2 645.4,693.2 645.9,693.8 646.4,695.8 646.9,695.0 647.4,691.2 647.9,689.9 648.4,691.3 648.9,690.9 649.4,690.2 649.9,690.4 650.4,688.9 650.9,687.6 651.4,689.0 651.9,690.4 652.4,690.9 652.9,690.9 653.4,689.7 653.9,688.3 654.4,686.8 654.9,685.9 655.4,687.2 655.9,688.9 656.4,689.8 656.9,689.6 657.4,686.8 657.9,685.0 658.4,686.7 658.9,686.9 659.4,684.0 659.9,683.0 660.4,684.7 660.9,684.9 661.4,683.4 661.9,682.7 662.4,682.1 662.9,681.0 663.4,681.1 663.9,681.9 664.4,681.6 664.9,679.6 665.4,679.3 665.9,681.2 666.4,680.7 666.9,679.1 667.4,678.9 667.9,678.6 668.4,677.8 668.9,678.0 669.4,678.7 669.9,678.3 670.4,676.5 670.9,675.7 671.4,677.2 671.9,677.6 672.4,675.5 672.9,674.5 673.4,674.6 673.9,674.9 674.4,675.1 674.9,674.3 675.4,673.8 675.9,673.0 676.4,671.8 676.9,670.5 677.4,669.5 677.9,669.5 678.4,669.6 678.9,670.1 679.4,670.9 679.9,670.7 680.4,670.6 680.9,669.0 681.4,666.8 681.9,667.3 682.4,668.0 682.9,666.6 683.4,665.9 683.9,667.3 684.4,668.5 684.9,667.8 685.4,666.5 685.9,666.5 686.4,667.4 686.9,667.8 687.4,666.7 687.9,664.9 688.4,663.9 688.9,663.7 689.4,663.0 689.9,662.7 690.4,662.5 690.9,661.2 691.4,660.6 691.9,661.0 692.4,660.5 692.9,659.1 693.4,658.5 693.9,659.9 694.4,660.3 694.9,659.7 695.4,659.9 695.9,659.2 696.4,659.3 696.9,660.1 697.4,659.5 697.9,659.9 698.4,660.0 698.9,657.9 699.4,656.6 699.9,656.8 700.4,657.3 700.9,656.2 701.4,655.6 701.9,657.4 702.4,657.1 702.9,655.8 703.4,656.3 703.9,657.5 704.4,658.9 704.9,657.7 705.4,654.6 705.9,653.1 706.4,652.9 706.9,653.5 707.4,654.1 707.9,654.2 708.4,652.8 708.9,650.9 709.4,651.8 709.9,654.3 710.4,654.3 710.9,652.6 711.4,651.7 711.9,651.6 712.4,650.7 712.9,650.2 713.4,651.1 713.9,651.1 714.4,649.5 714.9,648.3 715.4,650.4 715.9,651.1 716.4,649.7 716.9,651.2 717.4,651.3 717.9,648.8 718.4,648.6 718.9,650.6 719.4,651.2 719.9,650.5 720.4,649.3 720.9,649.1 721.4,649.5 721.9,649.4 722.4,648.9 722.9,647.4 723.4,646.4 723.9,647.8 724.4,648.8 724.9,647.2 725.4,647.2 725.9,649.2 726.4,650.8 726.9,652.6 727.4,652.6 727.9,651.1 728.4,649.2 728.9,647.0 729.4,647.0 729.9,648.2 730.4,648.1 730.9,647.1 731.4,647.1 731.9,648.6 732.4,650.5 732.9,650.5 733.4,649.3 733.9,649.4 734.4,649.5 734.9,649.1 735.4,648.2 735.9,648.3 736.4,650.3 736.9,651.7 737.4,651.3 737.9,651.1 738.4,652.0 738.9,652.9 739.4,651.0 739.9,648.4 740.4,648.9 740.9,651.3 741.4,652.6 741.9,652.5 742.4,652.1 742.9,650.6 743.4,648.8 743.9,648.2 744.4,648.3 744.9,648.8 745.4,649.4 745.9,650.4 746.4,650.0 746.9,649.4 747.4,651.6 747.9,652.0 748.4,650.6 748.9,651.5 749.4,652.6 749.9,652.5 750.4,653.0 750.9,653.5 751.4,653.7 751.9,653.2 752.4,652.8 752.9,653.6 753.4,654.1 753.9,653.4 754.4,652.3 754.9,651.9 755.4,652.1 755.9,652.7 756.4,653.6 756.9,654.0 757.4,653.9 757.9,654.2 758.4,655.4 758.9,657.1 759.4,656.6 759.9,655.2 760.4,655.1 760.9,655.1 761.4,655.1 761.9,655.1 762.4,654.3 762.9,652.8 763.4,652.9 763.9,656.1 764.4,657.7 764.9,656.8 765.4,656.9 765.9,657.2 766.4,657.0 766.9,656.6 767.4,656.8 767.9,656.0 768.4,655.0 768.9,656.5 769.4,656.3 769.9,655.2 770.4,657.0 770.9,658.2 771.4,658.1 771.9,658.0 772.4,656.8 772.9,655.9 773.4,656.2 773.9,658.1 774.4,660.9 774.9,660.5 775.4,657.6 775.9,656.7 776.4,657.7 776.9,657.6 777.4,656.0 777.9,656.6 778.4,659.2 778.9,658.3 779.4,654.6 779.9,653.3 780.4,654.7 780.9,656.6 781.4,657.0 781.9,655.3 782.4,654.2 782.9,655.8 783.4,656.8 783.9,655.9 784.4,655.5 784.9,656.0 785.4,655.2 785.9,654.2 786.4,654.0 786.9,654.3 787.4,655.7 787.9,655.5 788.4,654.1 788.9,655.1 789.4,655.0 789.9,652.7 790.4,653.9 790.9,655.1 791.4,653.1 791.9,651.9 792.4,651.9 792.9,651.2 793.4,649.5 793.9,649.5 794.4,651.4 794.9,652.8 795.4,653.2 795.9,653.6 796.4,654.0 796.9,653.7 797.4,652.2 797.9,650.5 798.4,652.1 798.9,655.8 799.4,655.5 799.9,653.0 800.4,651.9 800.9,651.1 801.4,650.7 801.9,651.1 802.4,649.6 802.9,649.7 803.4,649.7 803.9,647.2 804.4,646.1 804.9,645.4 805.4,645.6 805.9,646.5 806.4,646.6 806.9,646.2 807.4,645.6 807.9,644.9 808.4,644.3 808.9,643.8 809.4,644.1 809.9,644.5 810.4,644.4 810.9,644.7 811.4,644.4 811.9,644.6 812.4,645.5 812.9,643.7 813.4,641.9 813.9,641.3 814.4,640.3 814.9,641.4 815.4,641.7 815.9,640.8 816.4,641.5 816.9,643.1 817.4,644.0 817.9,643.7 818.4,644.5 818.9,643.9 819.4,640.9 819.9,640.5 820.4,641.9 820.9,641.5 821.4,640.6 821.9,639.5 822.4,638.5 822.9,638.4 823.4,637.7 823.9,637.3 824.4,639.5 824.9,642.6 825.4,642.5 825.9,640.3 826.4,639.7 826.9,640.7 827.4,641.3 827.9,640.0 828.4,638.5 828.9,639.1 829.4,642.0 829.9,642.9 830.4,639.1 830.9,637.4 831.4,639.7 831.9,640.7 832.4,641.4 832.9,642.4 833.4,641.1 833.9,638.6 834.4,638.5 834.9,640.2 835.4,641.2 835.9,641.7 836.4,641.7 836.9,641.5 837.4,641.8 837.9,642.8 838.4,644.4 838.9,646.6 839.4,647.8 839.9,646.5 840.4,647.1 840.9,649.8 841.4,650.4 841.9,650.5 842.4,651.9 842.9,653.5 843.4,654.1 843.9,654.3 844.4,654.0 844.9,653.1 845.4,653.6 845.9,655.4 846.4,656.7 846.9,657.8 847.4,658.8 847.9,659.2 848.4,658.7 848.9,659.4 849.4,662.5 849.9,663.7 850.4,663.6 850.9,665.4 851.4,667.0 851.9,666.4 852.4,665.3 852.9,666.4 853.4,669.9 853.9,672.6 854.4,672.3 854.9,672.0 855.4,672.8 855.9,674.7 856.4,675.6 856.9,673.7 857.4,674.4 857.9,678.8 858.4,680.7 858.9,681.5 859.4,684.0 859.9,684.0 860.4,682.3 860.9,684.5 861.4,687.1 861.9,686.8 862.4,687.9 862.9,689.8 863.4,689.3 863.9,688.6 864.4,689.1 864.9,690.6 865.4,691.9 865.9,692.7 866.4,693.8 866.9,694.0 867.4,694.3 867.9,695.0 868.4,697.0 868.9,700.2 869.4,702.0 869.9,702.1 870.4,701.3 870.9,701.4 871.4,702.6 871.9,703.1 872.4,703.6 872.9,704.9 873.4,705.9 873.9,706.6 874.4,706.9 874.9,706.3 875.4,705.4 875.9,704.8 876.4,705.0 876.9,706.2 877.4,708.0 877.9,708.4 878.4,709.6 878.9,712.2 879.4,712.0 879.9,711.8 880.4,710.5 880.9,707.6 881.4,709.6 881.9,711.0 882.4,709.5 882.9,710.2 883.4,710.6 883.9,710.8 884.4,710.9 884.9,710.2 885.4,711.2 885.9,711.5 886.4,712.0 886.9,715.7 887.4,718.4 887.9,716.5 888.4,714.6 888.9,713.8 889.4,713.4 889.9,715.2 890.4,716.7 890.9,716.5 891.4,716.0 891.9,717.0 892.4,717.3 892.9,715.4 893.4,715.8 893.9,717.1 894.4,716.1 894.9,714.4 895.4,714.2 895.9,715.8 896.4,716.1 896.9,714.9 897.4,715.5 897.9,718.1 898.4,718.9 898.9,717.3 899.4,716.3 899.9,718.3 900.4,721.3 900.9,720.6 901.4,719.5 901.9,721.4 902.4,723.2 902.9,721.1 903.4,718.1 903.9,718.0 904.4,718.7 904.9,718.1 905.4,717.7 905.9,717.8 906.4,718.5 906.9,719.8 907.4,719.5 907.9,717.3 908.4,716.9 908.9,719.1 909.4,721.3 909.9,721.6 910.4,718.8 910.9,716.2 911.4,717.7 911.9,719.5 912.4,719.4 912.9,719.1 913.4,719.5 913.9,721.9 914.4,724.8 914.9,723.9 915.4,721.7 915.9,721.4 916.4,721.6 916.9,721.7 917.4,721.4 917.9,722.3 918.4,723.8 918.9,724.0 919.4,723.9 919.9,724.3 920.4,722.8 920.9,720.1 921.4,719.1 921.9,720.5 922.4,722.3 922.9,723.8 923.4,724.0 923.9,722.2 924.4,721.9 924.9,724.1 925.4,724.6 925.9,723.4 926.4,724.1 926.9,725.3 927.4,724.4 927.9,722.0 928.4,721.4 928.9,724.1 929.4,725.1 929.9,723.7 930.4,722.2 930.9,721.6 931.4,722.6 931.9,724.1 932.4,724.2 932.9,723.8 933.4,724.8 933.9,725.5 934.4,724.7 934.9,723.6 935.4,724.5 935.9,725.8 936.4,723.9 936.9,721.9 937.4,723.0 937.9,723.6 938.4,721.7 938.9,721.5 939.4,722.9 939.9,723.5 940.4,723.7 940.9,721.9 941.4,720.6 941.9,723.0 942.4,725.1 942.9,724.1 943.4,723.9 943.9,724.0 944.4,724.0 944.9,725.3 945.4,725.6 945.9,724.0 946.4,721.5 946.9,719.4 947.4,719.7 947.9,722.4 948.4,724.6 948.9,726.3 949.4,726.8 949.9,725.1 950.4,724.4 950.9,726.0 951.4,726.4 951.9,725.0 952.4,724.8 952.9,724.6 953.4,724.7 953.9,725.1 954.4,723.6 954.9,723.3 955.4,724.9 955.9,725.0 956.4,724.4 956.9,724.8 957.4,725.2 957.9,725.2 958.4,725.9 958.9,726.9 959.4,727.9 959.9,728.0 960.4,726.7 960.9,725.3 961.4,724.6 961.9,726.1 962.4,728.1 962.9,726.9 963.4,726.4 963.9,726.2 964.4,723.6 964.9,722.8 965.4,723.3 965.9,722.7 966.4,722.4 966.9,724.4 967.4,726.9 967.9,726.9 968.4,725.6 968.9,724.1 969.4,723.4 969.9,725.2 970.4,725.4 970.9,724.2 971.4,724.6 971.9,724.7 972.4,723.7 972.9,723.1 973.4,723.1 973.9,723.8 974.4,725.4 974.9,726.2 975.4,725.8 975.9,725.0 976.4,725.9 976.9,726.4 977.4,725.0 977.9,725.9 978.4,726.6 978.9,725.3 979.4,724.5 979.9,723.9 980.4,722.7 980.9,722.7 981.4,723.2 981.9,723.7 982.4,726.1 982.9,725.1 983.4,720.6 983.9,721.3 984.4,724.9 984.9,725.9 985.4,725.9 985.9,726.5 986.4,727.2 986.9,728.2 987.4,728.3 987.9,727.2 988.4,725.5 988.9,723.8 989.4,723.4 989.9,724.7 990.4,728.0 990.9,729.7 991.4,726.8 991.9,724.0 992.4,724.5 992.9,725.5 993.4,725.7" stroke="#B177DE"/>
<path d="M97.4,620.6 97.9,617.1 98.4,613.2 98.9,612.0 99.4,610.0 99.9,608.5 100.4,608.9 100.9,607.3 101.4,605.2 101.9,604.9 102.4,606.2 102.9,607.3 103.4,606.7 103.9,603.9 104.4,601.6 104.9,599.6 105.4,596.1 105.9,593.0 106.4,589.8 106.9,585.6 107.4,581.2 107.9,575.9 108.4,568.8 108.9,560.4 109.4,551.3 109.9,538.7 110.4,520.5 110.9,496.2 111.4,464.6 111.9,425.9 112.4,383.6 112.9,345.6 113.4,324.6 113.9,332.6 114.4,366.7 114.9,410.9 115.4,452.5 115.9,487.2 116.4,514.9 116.9,536.1 117.4,550.4 117.9,557.5 118.4,560.6 118.9,563.2 119.4,567.6 119.9,573.1 120.4,577.4 120.9,579.4 121.4,580.7 121.9,582.0 122.4,582.5 122.9,582.3 123.4,582.1 123.9,582.8 124.4,584.3 124.9,586.3 125.4,586.9 125.9,586.1 126.4,586.1 126.9,586.2 127.4,585.1 127.9,584.6 128.4,584.9 128.9,585.4 129.4,586.3 129.9,587.0 130.4,587.1 130.9,587.3 131.4,587.2 131.9,586.9 132.4,586.6 132.9,585.8 133.4,586.0 133.9,586.2 134.4,584.7 134.9,584.1 135.4,584.7 135.9,584.6 136.4,584.8 136.9,584.5 137.4,583.4 137.9,582.9 138.4,582.9 138.9,581.5 139.4,579.9 139.9,579.6 140.4,579.2 140.9,577.9 141.4,576.4 141.9,574.8 142.4,573.0 142.9,570.6 143.4,569.4 143.9,568.9 144.4,567.0 144.9,564.4 145.4,561.7 145.9,559.5 146.4,558.2 146.9,556.4 147.4,551.9 147.9,548.1 148.4,546.6 148.9,542.8 149.4,537.6 149.9,534.6 150.4,531.0 150.9,525.8 151.4,521.1 151.9,515.5 152.4,509.3 152.9,503.8 153.4,497.4 153.9,491.5 154.4,486.1 154.9,478.0 155.4,469.7 155.9,462.4 156.4,454.4 156.9,445.7 157.4,435.8 157.9,425.7 158.4,415.4 158.9,404.2 159.4,392.4 159.9,381.0 160.4,368.9 160.9,354.4 161.4,339.5 161.9,325.2 162.4,310.1 162.9,293.7 163.4,275.4 163.9,255.8 164.4,236.5 164.9,216.5 165.4,195.6 165.9,175.8 166.4,156.7 166.9,137.8 167.4,116.0 167.9,94.9 168.4,78.1 168.9,64.4 169.4,52.7 169.9,45.1 170.4,41.6 170.9,42.0 171.4,47.5 171.9,58.3 172.4,73.1 172.9,89.5 173.4,108.2 173.9,130.2 174.4,153.8 174.9,179.2 175.4,205.2 175.9,230.0 176.4,255.6 176.9,281.1 177.4,304.5 177.9,326.9 178.4,347.9 178.9,367.6 179.4,385.5 179.9,400.2 180.4,412.1 180.9,422.6 181.4,430.9 181.9,438.0 182.4,446.9 182.9,454.9 183.4,461.1 183.9,466.8 184.4,472.5 184.9,478.9 185.4,485.8 185.9,492.0 186.4,496.5 186.9,500.7 187.4,504.9 187.9,508.2 188.4,511.7 188.9,514.0 189.4,515.9 189.9,517.9 190.4,518.3 190.9,516.7 191.4,513.7 191.9,511.0 192.4,507.9 192.9,503.4 193.4,499.3 193.9,496.4 194.4,492.2 194.9,486.5 195.4,481.6 195.9,478.5 196.4,475.8 196.9,471.8 197.4,468.1 197.9,466.0 198.4,464.4 198.9,463.9 199.4,464.5 199.9,465.7 200.4,466.9 200.9,468.4 201.4,471.5 201.9,475.6 202.4,480.0 202.9,484.5 203.4,489.1 203.9,494.3 204.4,499.4 204.9,503.0 205.4,507.2 205.9,513.5 206.4,519.5 206.9,524.3 207.4,529.0 207.9,533.5 208.4,538.9 208.9,544.5 209.4,548.7 209.9,554.0 210.4,561.1 210.9,565.9 211.4,571.5 211.9,576.7 212.4,581.3 212.9,585.0 213.4,587.6 213.9,589.8 214.4,592.7 214.9,597.2 215.4,601.6 215.9,605.2 216.4,608.3 216.9,611.6 217.4,614.5 217.9,616.4 218.4,619.1 218.9,621.4 219.4,622.1 219.9,623.7 220.4,626.5 220.9,628.8 221.4,630.6 221.9,631.6 222.4,632.1 222.9,633.7 223.4,635.1 223.9,635.1 224.4,635.0 224.9,635.9 225.4,638.2 225.9,639.2 226.4,638.5 226.9,639.5 227.4,640.4 227.9,639.9 228.4,639.6 228.9,639.7 229.4,640.5 229.9,642.0 230.4,643.0 230.9,643.5 231.4,644.0 231.9,643.6 232.4,643.6 232.9,645.4 233.4,645.8 233.9,645.5 234.4,646.5 234.9,646.6 235.4,646.7 235.9,646.5 236.4,644.3 236.9,644.4 237.4,646.4 237.9,646.5 238.4,646.7 238.9,648.1 239.4,647.7 239.9,646.3 240.4,646.7 240.9,648.6 241.4,648.5 241.9,646.8 242.4,646.9 242.9,646.7 243.4,646.0 243.9,646.1 244.4,645.9 244.9,647.0 245.4,648.5 245.9,648.4 246.4,647.9 246.9,647.4 247.4,647.0 247.9,646.1 248.4,644.5 248.9,644.2 249.4,644.3 249.9,643.1 250.4,642.7 250.9,643.6 251.4,643.0 251.9,640.7 252.4,639.6 252.9,639.8 253.4,638.9 253.9,637.7 254.4,637.4 254.9,636.7 255.4,636.4 255.9,636.8 256.4,635.3 256.9,633.2 257.4,632.8 257.9,632.4 258.4,629.8 258.9,626.7 259.4,625.4 259.9,623.9 260.4,622.2 260.9,620.9 261.4,619.2 261.9,616.7 262.4,614.5 262.9,611.8 263.4,608.4 263.9,605.8 264.4,602.5 264.9,597.9 265.4,594.6 265.9,592.5 266.4,588.4 266.9,583.8 267.4,578.9 267.9,571.4 268.4,562.7 268.9,554.4 269.4,547.8 269.9,541.1 270.4,533.5 270.9,526.6 271.4,522.8 271.9,521.9 272.4,522.7 272.9,526.9 273.4,532.9 273.9,538.6 274.4,545.2 274.9,552.0 275.4,555.2 275.9,560.5 276.4,568.0 276.9,575.4 277.4,582.0 277.9,587.9 278.4,593.0 278.9,597.9 279.4,602.8 279.9,607.3 280.4,610.3 280.9,612.8 281.4,616.4 281.9,619.8 282.4,623.1 282.9,627.1 283.4,630.2 283.9,632.1 284.4,633.6 284.9,636.1 285.4,638.4 285.9,639.5 286.4,641.5 286.9,643.3 287.4,644.3 287.9,645.4 288.4,646.5 288.9,647.6 289.4,648.0 289.9,649.5 290.4,651.8 290.9,651.6 291.4,651.8 291.9,653.8 292.4,653.4 292.9,652.7 293.4,655.5 293.9,658.2 294.4,659.3 294.9,660.0 295.4,659.9 295.9,659.5 296.4,659.4 296.9,660.6 297.4,662.1 297.9,662.0 298.4,660.7 298.9,659.8 299.4,660.1 299.9,661.1 300.4,661.9 300.9,662.1 301.4,662.0 301.9,662.6 302.4,663.2 302.9,662.4 303.4,663.3 303.9,664.8 304.4,663.4 304.9,662.1 305.4,662.9 305.9,663.6 306.4,662.4 306.9,660.8 307.4,660.3 307.9,660.7 308.4,662.0 308.9,661.7 309.4,660.8 309.9,661.1 310.4,660.4 310.9,659.8 311.4,660.3 311.9,659.0 312.4,657.9 312.9,659.5 313.4,660.2 313.9,659.1 314.4,657.2 314.9,655.7 315.4,656.2 315.9,656.5 316.4,655.5 316.9,654.0 317.4,652.2 317.9,651.7 318.4,650.4 318.9,647.4 319.4,645.6 319.9,645.5 320.4,645.5 320.9,644.8 321.4,643.3 321.9,641.9 322.4,640.9 322.9,640.0 323.4,639.3 323.9,638.0 324.4,636.5 324.9,635.1 325.4,633.9 325.9,632.9 326.4,632.0 326.9,631.3 327.4,629.6 327.9,627.4 328.4,625.5 328.9,624.1 329.4,623.0 329.9,621.2 330.4,618.7 330.9,616.6 331.4,615.4 331.9,614.0 332.4,612.4 332.9,610.2 333.4,606.0 333.9,602.2 334.4,599.7 334.9,596.6 335.4,594.6 335.9,593.8 336.4,591.1 336.9,587.1 337.4,583.9 337.9,580.7 338.4,577.5 338.9,575.3 339.4,573.5 339.9,571.0 340.4,567.9 340.9,565.6 341.4,564.1 341.9,562.5 342.4,560.9 342.9,559.8 343.4,558.2 343.9,557.1 344.4,557.7 344.9,558.7 345.4,559.8 345.9,560.9 346.4,559.6 346.9,557.3 347.4,556.5 347.9,555.5 348.4,554.7 348.9,553.2 349.4,549.7 349.9,546.9 350.4,545.1 350.9,543.0 351.4,540.8 351.9,537.2 352.4,533.5 352.9,529.2 353.4,522.9 353.9,516.1 354.4,509.0 354.9,502.0 355.4,494.3 355.9,484.3 356.4,472.0 356.9,458.9 357.4,445.4 357.9,432.1 358.4,420.8 358.9,408.8 359.4,394.6 359.9,382.9 360.4,372.5 360.9,361.3 361.4,354.1 361.9,351.6 362.4,353.8 362.9,359.6 363.4,368.5 363.9,380.7 364.4,392.6 364.9,403.1 365.4,413.3 365.9,423.1 366.4,435.2 366.9,457.8 367.4,487.8 367.9,513.5 368.4,527.0 368.9,535.8 369.4,543.5 369.9,551.2 370.4,559.9 370.9,568.1 371.4,575.2 371.9,581.9 372.4,589.7 372.9,597.2 373.4,603.0 373.9,608.5 374.4,613.7 374.9,619.3 375.4,624.9 375.9,628.2 376.4,630.9 376.9,634.6 377.4,637.5 377.9,640.6 378.4,643.1 378.9,643.3 379.4,645.4 379.9,648.6 380.4,650.6 380.9,651.1 381.4,650.7 381.9,651.8 382.4,654.1 382.9,656.0 383.4,657.7 383.9,658.3 384.4,658.8 384.9,659.7 385.4,660.4 385.9,661.0 386.4,661.8 386.9,662.7 387.4,663.9 387.9,664.5 388.4,664.3 388.9,665.2 389.4,667.6 389.9,668.5 390.4,668.5 390.9,669.0 391.4,670.7 391.9,672.2 392.4,672.6 392.9,673.5 393.4,674.0 393.9,674.4 394.4,675.0 394.9,675.9 395.4,677.6 395.9,678.4 396.4,677.8 396.9,678.8 397.4,681.6 397.9,682.6 398.4,681.7 398.9,681.8 399.4,682.8 399.9,684.2 400.4,684.9 400.9,684.6 401.4,685.0 401.9,686.4 402.4,688.9 402.9,690.2 403.4,689.7 403.9,690.5 404.4,691.6 404.9,690.9 405.4,691.3 405.9,693.3 406.4,694.2 406.9,694.8 407.4,696.3 407.9,695.7 408.4,694.9 408.9,696.5 409.4,698.6 409.9,699.9 410.4,699.5 410.9,699.3 411.4,700.3 411.9,700.2 412.4,699.8 412.9,700.8 413.4,702.5 413.9,704.9 414.4,705.5 414.9,703.1 415.4,702.0 415.9,702.7 416.4,703.3 416.9,704.0 417.4,705.5 417.9,706.0 418.4,704.3 418.9,703.0 419.4,704.3 419.9,707.3 420.4,707.8 420.9,705.3 421.4,704.9 421.9,707.2 422.4,709.2 422.9,709.4 423.4,709.0 423.9,709.1 424.4,708.8 424.9,709.1 425.4,710.4 425.9,709.3 426.4,707.7 426.9,707.4 427.4,707.6 427.9,709.3 428.4,710.2 428.9,709.7 429.4,711.5 429.9,713.0 430.4,711.1 430.9,708.9 431.4,708.8 431.9,709.1 432.4,708.5 432.9,708.6 433.4,709.7 433.9,710.8 434.4,710.8 434.9,711.0 435.4,712.8 435.9,713.5 436.4,712.2 436.9,711.8 437.4,712.4 437.9,712.7 438.4,713.5 438.9,712.9 439.4,710.7 439.9,711.4 440.4,713.6 440.9,713.4 441.4,711.9 441.9,711.7 442.4,711.5 442.9,710.8 443.4,710.7 443.9,710.6 444.4,711.1 444.9,711.4 445.4,711.3 445.9,712.0 446.4,712.6 446.9,713.0 447.4,713.7 447.9,713.8 448.4,713.4 448.9,712.7 449.4,712.2 449.9,711.7 450.4,710.9 450.9,711.3 451.4,712.3 451.9,712.2 452.4,711.5 452.9,711.5 453.4,712.2 453.9,711.9 454.4,711.7 454.9,712.2 455.4,712.3 455.9,711.1 456.4,709.2 456.9,708.8 457.4,709.5 457.9,710.3 458.4,712.0 458.9,711.9 459.4,709.1 459.9,708.9 460.4,711.5 460.9,712.8 461.4,712.3 461.9,711.9 462.4,712.1 462.9,712.8 463.4,713.3 463.9,711.8 464.4,709.7 464.9,709.9 465.4,710.4 465.9,710.0 466.4,709.8 466.9,709.7 467.4,710.1 467.9,710.8 468.4,710.0 468.9,708.9 469.4,709.3 469.9,711.3 470.4,712.9 470.9,712.6 471.4,712.4 471.9,710.6 472.4,708.6 472.9,709.2 473.4,708.9 473.9,707.9 474.4,709.4 474.9,710.7 475.4,709.2 475.9,709.3 476.4,711.4 476.9,710.6 477.4,708.6 477.9,708.8 478.4,709.4 478.9,710.0 479.4,710.4 479.9,709.7 480.4,710.2 480.9,710.4 481.4,708.6 481.9,708.9 482.4,709.6 482.9,708.6 483.4,708.0 483.9,708.4 484.4,709.1 484.9,709.8 485.4,711.0 485.9,711.5 486.4,710.4 486.9,709.7 487.4,710.1 487.9,709.5 488.4,709.3 488.9,710.6 489.4,711.2 489.9,710.2 490.4,709.4 490.9,711.3 491.4,713.0 491.9,711.0 492.4,708.8 492.9,709.3 493.4,710.1 493.9,710.1 494.4,710.2 494.9,710.2 495.4,709.9 495.9,709.7 496.4,709.5 496.9,710.3 497.4,710.9 497.9,710.4 498.4,710.1 498.9,709.3 499.4,709.1 499.9,710.3 500.4,710.9 500.9,710.6 501.4,710.2 501.9,709.1 502.4,709.6 502.9,711.4 503.4,710.8 503.9,708.7 504.4,708.7 504.9,709.7 505.4,709.5 505.9,709.7 506.4,709.8 506.9,711.0 507.4,713.3 507.9,713.4 508.4,711.0 508.9,709.2 509.4,709.6 509.9,710.2 510.4,710.6 510.9,710.4 511.4,709.0 511.9,709.4 512.4,709.8 512.9,710.0 513.4,710.6 513.9,709.4 514.4,709.2 514.9,708.7 515.4,706.6 515.9,706.4 516.4,708.2 516.9,710.4 517.4,711.3 517.9,710.8 518.4,708.9 518.9,707.3 519.4,708.1 519.9,709.5 520.4,711.0 520.9,712.5 521.4,712.7 521.9,711.5 522.4,709.8 522.9,708.4 523.4,707.8 523.9,708.0 524.4,708.4 524.9,707.8 525.4,707.3 525.9,707.3 526.4,707.7 526.9,708.3 527.4,708.0 527.9,707.5 528.4,707.8 528.9,708.6 529.4,708.4 529.9,709.6 530.4,709.1 530.9,705.4 531.4,704.8 531.9,707.0 532.4,707.9 532.9,707.1 533.4,706.3 533.9,706.0 534.4,705.5 534.9,705.0 535.4,703.7 535.9,700.8 536.4,701.4 536.9,704.6 537.4,703.8 537.9,703.0 538.4,704.8 538.9,704.9 539.4,703.3 539.9,702.0 540.4,702.2 540.9,701.5 541.4,700.4 541.9,701.3 542.4,702.7 542.9,704.0 543.4,704.0 543.9,702.1 544.4,701.7 544.9,703.0 545.4,703.6 545.9,703.0 546.4,703.3 546.9,704.3 547.4,705.0 547.9,705.3 548.4,704.1 548.9,701.9 549.4,701.8 549.9,703.6 550.4,703.8 550.9,703.3 551.4,702.7 551.9,702.1 552.4,701.6 552.9,701.1 553.4,702.1 553.9,704.4 554.4,706.4 554.9,706.1 555.4,704.9 555.9,705.4 556.4,705.5 556.9,704.6 557.4,704.4 557.9,706.2 558.4,708.1 558.9,706.0 559.4,704.1 559.9,707.1 560.4,708.8 560.9,708.4 561.4,709.5 561.9,708.7 562.4,707.1 562.9,706.2 563.4,705.1 563.9,704.3 564.4,703.4 564.9,704.0 565.4,705.8 565.9,705.9 566.4,706.2 566.9,706.4 567.4,705.6 567.9,705.7 568.4,705.7 568.9,705.4 569.4,705.7 569.9,705.4 570.4,704.0 570.9,703.2 571.4,704.1 571.9,706.1 572.4,708.0 572.9,708.1 573.4,707.1 573.9,706.7 574.4,706.6 574.9,706.6 575.4,706.2 575.9,705.5 576.4,705.0 576.9,705.9 577.4,706.4 577.9,704.6 578.4,703.8 578.9,704.6 579.4,706.5 579.9,707.1 580.4,703.7 580.9,701.6 581.4,703.9 581.9,704.5 582.4,702.6 582.9,703.0 583.4,702.7 583.9,701.9 584.4,703.8 584.9,705.1 585.4,703.9 585.9,702.5 586.4,702.1 586.9,703.0 587.4,703.4 587.9,703.7 588.4,705.0 588.9,703.6 589.4,702.2 589.9,704.2 590.4,704.2 590.9,702.8 591.4,702.0 591.9,701.3 592.4,700.9 592.9,699.8 593.4,701.2 593.9,704.6 594.4,704.8 594.9,702.5 595.4,701.9 595.9,703.1 596.4,703.1 596.9,703.0 597.4,702.5 597.9,701.8 598.4,701.2 598.9,700.9 599.4,701.5 599.9,700.5 600.4,699.7 600.9,700.8 601.4,702.3 601.9,702.7 602.4,702.3 602.9,702.0 603.4,701.6 603.9,699.7 604.4,696.8 604.9,695.1 605.4,696.0 605.9,698.3 606.4,699.3 606.9,699.3 607.4,699.3 607.9,698.3 608.4,696.6 608.9,695.1 609.4,696.0 609.9,698.9 610.4,698.8 610.9,696.4 611.4,696.6 611.9,698.4 612.4,698.7 612.9,697.0 613.4,697.0 613.9,696.7 614.4,694.2 614.9,693.9 615.4,694.7 615.9,695.7 616.4,697.6 616.9,697.2 617.4,694.8 617.9,694.0 618.4,695.1 618.9,695.0 619.4,693.3 619.9,692.0 620.4,691.4 620.9,692.8 621.4,694.5 621.9,694.8 622.4,694.3 622.9,693.3 623.4,691.7 623.9,691.8 624.4,693.2 624.9,692.3 625.4,691.0 625.9,691.8 626.4,692.6 626.9,692.1 627.4,690.8 627.9,690.0 628.4,691.3 628.9,692.2 629.4,690.5 629.9,689.0 630.4,688.6 630.9,688.0 631.4,688.2 631.9,689.0 632.4,689.5 632.9,689.5 633.4,690.7 633.9,691.0 634.4,688.2 634.9,686.6 635.4,687.2 635.9,687.2 636.4,686.5 636.9,686.2 637.4,686.6 637.9,685.2 638.4,683.2 638.9,684.3 639.4,686.4 639.9,686.4 640.4,684.5 640.9,684.1 641.4,685.0 641.9,684.3 642.4,684.1 642.9,684.9 643.4,684.8 643.9,683.2 644.4,682.5 644.9,683.2 645.4,682.5 645.9,682.8 646.4,684.8 646.9,683.6 647.4,680.8 647.9,680.3 648.4,680.4 648.9,679.0 649.4,678.7 649.9,681.0 650.4,682.0 650.9,680.7 651.4,679.8 651.9,680.1 652.4,679.8 652.9,678.2 653.4,677.7 653.9,678.4 654.4,679.2 654.9,678.3 655.4,676.3 655.9,677.3 656.4,678.7 656.9,677.3 657.4,676.2 657.9,676.8 658.4,677.5 658.9,676.6 659.4,674.7 659.9,673.8 660.4,674.8 660.9,676.3 661.4,675.2 661.9,674.2 662.4,675.0 662.9,673.8 663.4,672.2 663.9,672.3 664.4,671.8 664.9,671.0 665.4,670.9 665.9,670.9 666.4,669.6 666.9,668.9 667.4,669.8 667.9,670.5 668.4,671.1 668.9,671.0 669.4,670.0 669.9,669.8 670.4,669.5 670.9,667.4 671.4,666.0 671.9,664.9 672.4,663.1 672.9,663.9 673.4,665.2 673.9,665.4 674.4,666.2 674.9,665.8 675.4,664.0 675.9,663.5 676.4,663.5 676.9,662.0 677.4,661.5 677.9,662.6 678.4,663.5 678.9,663.4 679.4,660.2 679.9,658.0 680.4,660.0 680.9,661.0 681.4,660.3 681.9,661.2 682.4,660.7 682.9,657.7 683.4,655.6 683.9,655.5 684.4,656.9 684.9,657.7 685.4,656.2 685.9,653.9 686.4,652.6 686.9,651.6 687.4,650.7 687.9,650.4 688.4,650.8 688.9,652.3 689.4,653.6 689.9,653.4 690.4,652.0 690.9,650.9 691.4,651.3 691.9,651.6 692.4,650.7 692.9,650.1 693.4,649.4 693.9,649.0 694.4,648.5 694.9,648.5 695.4,648.5 695.9,647.6 696.4,647.1 696.9,647.6 697.4,649.3 697.9,649.0 698.4,646.6 698.9,645.3 699.4,645.1 699.9,646.0 700.4,648.3 700.9,648.5 701.4,646.4 701.9,645.9 702.4,645.5 702.9,645.6 703.4,646.3 703.9,646.0 704.4,645.0 704.9,644.1 705.4,643.8 705.9,644.5 706.4,644.1 706.9,641.9 707.4,640.8 707.9,640.5 708.4,640.2 708.9,641.5 709.4,644.3 709.9,646.1 710.4,644.0 710.9,641.1 711.4,640.2 711.9,640.3 712.4,641.8 712.9,643.2 713.4,642.9 713.9,642.1 714.4,639.8 714.9,636.9 715.4,636.8 715.9,639.4 716.4,641.6 716.9,641.8 717.4,640.5 717.9,640.0 718.4,640.9 718.9,641.2 719.4,639.7 719.9,639.0 720.4,640.5 720.9,640.9 721.4,639.4 721.9,638.1 722.4,637.5 722.9,636.0 723.4,635.6 723.9,637.4 724.4,638.7 724.9,640.3 725.4,641.0 725.9,640.8 726.4,640.6 726.9,639.6 727.4,638.5 727.9,637.7 728.4,637.8 728.9,638.1 729.4,638.4 729.9,637.9 730.4,636.6 730.9,636.9 731.4,637.5 731.9,638.2 732.4,638.6 732.9,637.8 733.4,636.9 733.9,637.0 734.4,637.8 734.9,638.0 735.4,637.5 735.9,637.6 736.4,638.4 736.9,638.5 737.4,638.7 737.9,638.8 738.4,638.6 738.9,638.9 739.4,639.2 739.9,639.7 740.4,640.5 740.9,640.7 741.4,641.0 741.9,640.9 742.4,639.9 742.9,640.3 743.4,639.1 743.9,637.8 744.4,638.9 744.9,640.5 745.4,641.2 745.9,640.2 746.4,639.7 746.9,639.1 747.4,638.3 747.9,639.2 748.4,640.4 748.9,642.8 749.4,643.7 749.9,641.0 750.4,639.4 750.9,640.8 751.4,642.3 751.9,642.6 752.4,641.3 752.9,640.4 753.4,640.9 753.9,642.4 754.4,643.8 754.9,642.6 755.4,641.7 755.9,641.9 756.4,641.4 756.9,642.0 757.4,642.8 757.9,642.8 758.4,643.9 758.9,645.6 759.4,644.6 759.9,642.6 760.4,643.5 760.9,644.8 761.4,644.4 761.9,644.5 762.4,645.3 762.9,645.6 763.4,645.2 763.9,644.5 764.4,644.5 764.9,644.9 765.4,645.7 765.9,647.2 766.4,646.7 766.9,646.0 767.4,646.7 767.9,646.4 768.4,646.0 768.9,645.5 769.4,644.5 769.9,644.0 770.4,645.3 770.9,646.5 771.4,645.6 771.9,644.7 772.4,645.4 772.9,647.5 773.4,648.0 773.9,646.0 774.4,645.7 774.9,645.7 775.4,645.3 775.9,644.9 776.4,644.4 776.9,645.4 777.4,645.0 777.9,644.6 778.4,646.5 778.9,647.2 779.4,645.4 779.9,642.9 780.4,642.5 780.9,643.4 781.4,645.0 781.9,644.4 782.4,641.9 782.9,642.0 783.4,643.5 783.9,644.0 784.4,642.5 784.9,640.8 785.4,640.7 785.9,640.3 786.4,640.4 786.9,641.1 787.4,641.2 787.9,640.6 788.4,641.0 788.9,643.8 789.4,644.4 789.9,641.6 790.4,638.1 790.9,636.4 791.4,637.7 791.9,640.5 792.4,643.2 792.9,642.2 793.4,640.2 793.9,641.0 794.4,641.1 794.9,640.1 795.4,640.0 795.9,638.8 796.4,636.4 796.9,635.6 797.4,637.0 797.9,637.3 798.4,634.6 798.9,633.9 799.4,634.1 799.9,633.9 800.4,635.9 800.9,636.3 801.4,636.8 801.9,636.6 802.4,633.1 802.9,633.4 803.4,635.8 803.9,634.6 804.4,633.2 804.9,633.9 805.4,635.1 805.9,634.9 806.4,633.1 806.9,631.7 807.4,631.8 807.9,632.8 808.4,633.3 808.9,633.3 809.4,632.7 809.9,631.1 810.4,631.7 810.9,633.5 811.4,632.9 811.9,630.4 812.4,628.1 812.9,627.7 813.4,628.5 813.9,628.8 814.4,627.4 814.9,625.8 815.4,626.4 815.9,628.4 816.4,627.9 816.9,625.7 817.4,624.6 817.9,624.1 818.4,626.9 818.9,630.4 819.4,628.1 819.9,625.1 820.4,624.0 820.9,622.5 821.4,622.2 821.9,623.8 822.4,625.6 822.9,625.6 823.4,624.0 823.9,625.1 824.4,625.4 824.9,623.4 825.4,623.1 825.9,623.2 826.4,625.1 826.9,626.7 827.4,625.7 827.9,624.5 828.4,624.2 828.9,625.4 829.4,626.4 829.9,625.4 830.4,625.1 830.9,626.2 831.4,625.7 831.9,624.1 832.4,624.4 832.9,625.5 833.4,627.0 833.9,628.2 834.4,628.4 834.9,628.0 835.4,626.5 835.9,625.8 836.4,626.5 836.9,627.9 837.4,628.9 837.9,628.4 838.4,628.2 838.9,629.4 839.4,630.9 839.9,632.1 840.4,633.2 840.9,634.5 841.4,633.6 841.9,632.2 842.4,632.9 842.9,634.6 843.4,637.8 843.9,639.7 844.4,639.2 844.9,638.5 845.4,636.8 845.9,636.5 846.4,639.3 846.9,640.9 847.4,641.5 847.9,643.9 848.4,646.5 848.9,648.7 849.4,650.7 849.9,650.7 850.4,650.2 850.9,651.5 851.4,652.6 851.9,653.5 852.4,656.3 852.9,657.8 853.4,657.0 853.9,659.8 854.4,664.5 854.9,664.8 855.4,664.7 855.9,666.5 856.4,666.7 856.9,666.6 857.4,666.8 857.9,667.2 858.4,667.9 858.9,668.5 859.4,670.7 859.9,671.9 860.4,672.7 860.9,674.9 861.4,675.7 861.9,676.7 862.4,677.7 862.9,678.3 863.4,680.6 863.9,684.2 864.4,685.8 864.9,686.3 865.4,686.4 865.9,686.3 866.4,686.4 866.9,687.1 867.4,688.6 867.9,689.4 868.4,689.0 868.9,688.9 869.4,691.0 869.9,693.1 870.4,693.7 870.9,694.7 871.4,694.8 871.9,694.3 872.4,694.7 872.9,696.0 873.4,697.3 873.9,699.1 874.4,700.0 874.9,698.0 875.4,697.7 875.9,700.3 876.4,701.3 876.9,703.1 877.4,706.5 877.9,706.7 878.4,705.5 878.9,705.3 879.4,705.4 879.9,705.4 880.4,704.3 880.9,703.7 881.4,705.6 881.9,708.8 882.4,709.1 882.9,707.8 883.4,708.2 883.9,708.8 884.4,709.0 884.9,709.2 885.4,709.6 885.9,709.2 886.4,708.8 886.9,709.5 887.4,709.7 887.9,708.7 888.4,709.5 888.9,711.8 889.4,710.5 889.9,707.3 890.4,705.7 890.9,706.4 891.4,710.5 891.9,712.8 892.4,711.3 892.9,710.4 893.4,711.4 893.9,714.0 894.4,715.2 894.9,715.6 895.4,717.4 895.9,718.3 896.4,716.9 896.9,714.2 897.4,712.6 897.9,712.3 898.4,714.1 898.9,717.2 899.4,717.3 899.9,716.7 900.4,718.4 900.9,719.3 901.4,718.5 901.9,718.7 902.4,718.6 902.9,716.5 903.4,715.9 903.9,717.5 904.4,717.6 904.9,717.4 905.4,718.6 905.9,719.7 906.4,719.9 906.9,718.9 907.4,719.0 907.9,719.6 908.4,719.9 908.9,720.1 909.4,720.4 909.9,720.5 910.4,718.6 910.9,717.4 911.4,719.7 911.9,721.2 912.4,719.8 912.9,718.8 913.4,719.6 913.9,720.3 914.4,720.6 914.9,719.8 915.4,719.6 915.9,722.0 916.4,722.1 916.9,721.1 917.4,722.6 917.9,723.6 918.4,722.7 918.9,721.8 919.4,722.8 919.9,721.3 920.4,719.4 920.9,721.1 921.4,721.1 921.9,720.1 922.4,719.6 922.9,719.6 923.4,721.4 923.9,722.0 924.4,722.6 924.9,723.9 925.4,722.8 925.9,720.9 926.4,720.7 926.9,722.5 927.4,723.5 927.9,721.8 928.4,721.5 928.9,723.3 929.4,723.4 929.9,724.2 930.4,724.8 930.9,722.8 931.4,721.2 931.9,720.6 932.4,721.9 932.9,724.4 933.4,724.1 933.9,722.8 934.4,724.0 934.9,724.7 935.4,725.2 935.9,726.5 936.4,724.4 936.9,722.5 937.4,722.2 937.9,722.3 938.4,725.0 938.9,725.6 939.4,724.1 939.9,724.5 940.4,726.0 940.9,726.1 941.4,723.3 941.9,720.2 942.4,720.0 942.9,721.0 943.4,721.4 943.9,722.8 944.4,724.0 944.9,722.9 945.4,723.1 945.9,724.7 946.4,724.6 946.9,724.7 947.4,724.5 947.9,722.3 948.4,723.6 948.9,726.6 949.4,724.8 949.9,722.4 950.4,722.7 950.9,722.4 951.4,721.9 951.9,722.8 952.4,723.9 952.9,724.5 953.4,723.8 953.9,721.3 954.4,721.6 954.9,724.0 955.4,725.0 955.9,725.8 956.4,724.6 956.9,723.0 957.4,723.4 957.9,723.5 958.4,724.9 958.9,727.6 959.4,728.0 959.9,726.2 960.4,725.5 960.9,725.8 961.4,724.0 961.9,721.3 962.4,722.4 962.9,724.9 963.4,724.8 963.9,724.4 964.4,725.8 964.9,726.6 965.4,725.2 965.9,724.0 966.4,724.0 966.9,725.3 967.4,727.2 967.9,727.0 968.4,724.3 968.9,722.5 969.4,723.6 969.9,725.6 970.4,725.8 970.9,725.5 971.4,725.7 971.9,725.4 972.4,724.1 972.9,722.8 973.4,723.3 973.9,724.7 974.4,725.1 974.9,724.2 975.4,724.8 975.9,726.0 976.4,725.2 976.9,724.5 977.4,723.9 977.9,722.4 978.4,721.8 978.9,722.5 979.4,723.9 979.9,724.6 980.4,723.6 980.9,723.9 981.4,725.3 981.9,725.4 982.4,726.0 982.9,725.2 983.4,722.9 983.9,722.6 984.4,724.2 984.9,725.9 985.4,725.9 985.9,726.6 986.4,727.2 986.9,725.6 987.4,725.0 987.9,725.3 988.4,725.6 988.9,726.9 989.4,727.5 989.9,726.8 990.4,725.4 990.9,724.2 991.4,724.0 991.9,723.1 992.4,722.7 992.9,724.8 993.4,726.2" stroke="#CC9900"/>
<path d="M97.4,617.4 97.9,615.0 98.4,612.9 98.9,611.2 99.4,609.9 99.9,608.8 100.4,607.2 100.9,606.8 101.4,606.9 101.9,606.1 102.4,605.1 102.9,604.3 103.4,604.2 103.9,604.3 104.4,602.4 104.9,598.9 105.4,595.6 105.9,593.2 106.4,590.5 106.9,586.9 107.4,582.8 107.9,577.4 108.4,570.1 108.9,562.1 109.4,552.7 109.9,540.4 110.4,523.4 110.9,500.6 111.4,471.6 111.9,434.0 112.4,390.0 112.9,350.3 113.4,329.8 113.9,339.1 114.4,373.6 114.9,417.5 115.4,458.4 115.9,492.4 116.4,519.8 116.9,540.3 117.4,553.5 117.9,560.7 118.4,564.6 118.9,567.5 119.4,570.2 119.9,573.3 120.4,577.1 120.9,579.4 121.4,581.6 121.9,583.7 122.4,584.3 122.9,584.2 123.4,585.2 123.9,586.9 124.4,587.4 124.9,586.2 125.4,585.5 125.9,586.2 126.4,586.9 126.9,587.7 127.4,588.0 127.9,587.5 128.4,588.1 128.9,589.0 129.4,588.6 129.9,587.8 130.4,587.2 130.9,586.9 131.4,587.5 131.9,588.6 132.4,588.1 132.9,587.0 133.4,586.7 133.9,585.1 134.4,584.4 134.9,586.9 135.4,587.3 135.9,585.0 136.4,584.4 136.9,584.8 137.4,584.0 137.9,583.0 138.4,582.6 138.9,582.2 139.4,581.6 139.9,581.0 140.4,579.7 140.9,578.3 141.4,576.8 141.9,575.7 142.4,574.9 142.9,572.7 143.4,571.4 143.9,570.7 144.4,569.1 144.9,567.4 145.4,565.0 145.9,561.3 146.4,558.6 146.9,556.1 147.4,552.7 147.9,550.1 148.4,547.6 148.9,543.4 149.4,539.3 149.9,535.6 150.4,531.7 150.9,527.3 151.4,522.4 151.9,517.4 152.4,512.0 152.9,506.7 153.4,500.4 153.9,493.4 154.4,486.7 154.9,479.2 155.4,471.3 155.9,463.1 156.4,453.3 156.9,444.3 157.4,436.2 157.9,425.8 158.4,415.1 158.9,405.2 159.4,394.3 159.9,383.2 160.4,370.6 160.9,356.2 161.4,341.5 161.9,325.8 162.4,309.1 162.9,292.6 163.4,275.2 163.9,256.3 164.4,236.4 164.9,216.0 165.4,196.6 165.9,177.5 166.4,157.6 166.9,138.5 167.4,117.9 167.9,96.6 168.4,77.1 168.9,62.5 169.4,53.3 169.9,46.3 170.4,41.8 170.9,42.5 171.4,48.1 171.9,58.1 172.4,72.0 172.9,88.3 173.4,108.3 173.9,130.9 174.4,154.2 174.9,179.6 175.4,206.0 175.9,231.1 176.4,256.3 176.9,281.0 177.4,304.2 177.9,327.4 178.4,349.2 178.9,367.9 179.4,384.6 179.9,399.3 180.4,411.1 180.9,421.2 181.4,430.0 181.9,437.7 182.4,445.1 182.9,451.6 183.4,458.0 183.9,464.7 184.4,471.3 184.9,477.2 185.4,481.7 185.9,486.1 186.4,491.1 186.9,495.8 187.4,499.5 187.9,502.1 188.4,505.3 188.9,509.2 189.4,512.3 189.9,513.6 190.4,513.8 190.9,512.7 191.4,510.1 191.9,507.9 192.4,504.3 192.9,500.0 193.4,495.9 193.9,490.1 194.4,485.1 194.9,481.6 195.4,477.7 195.9,472.2 196.4,466.8 196.9,463.8 197.4,462.4 197.9,461.5 198.4,459.3 198.9,456.5 199.4,455.8 199.9,456.9 200.4,458.6 200.9,461.7 201.4,465.2 201.9,468.8 202.4,473.2 202.9,477.8 203.4,483.5 203.9,489.7 204.4,494.3 204.9,497.7 205.4,502.3 205.9,508.2 206.4,514.7 206.9,521.0 207.4,526.6 207.9,530.6 208.4,535.0 208.9,541.2 209.4,546.1 209.9,552.0 210.4,559.6 210.9,563.5 211.4,568.0 211.9,573.2 212.4,577.5 212.9,580.3 213.4,584.2 213.9,589.2 214.4,592.5 214.9,596.0 215.4,600.0 215.9,602.9 216.4,606.5 216.9,610.5 217.4,613.8 217.9,616.1 218.4,618.4 218.9,620.8 219.4,623.1 219.9,625.9 220.4,628.5 220.9,630.6 221.4,631.6 221.9,632.9 222.4,635.3 222.9,636.3 223.4,635.9 223.9,637.6 224.4,639.1 224.9,638.8 225.4,639.9 225.9,641.6 226.4,641.9 226.9,643.2 227.4,644.8 227.9,644.3 228.4,643.3 228.9,643.2 229.4,644.1 229.9,646.2 230.4,648.8 230.9,649.0 231.4,648.6 231.9,650.1 232.4,650.5 232.9,650.0 233.4,650.6 233.9,650.5 234.4,649.3 234.9,648.7 235.4,649.6 235.9,650.8 236.4,651.0 236.9,651.5 237.4,652.1 237.9,652.2 238.4,652.6 238.9,652.7 239.4,652.2 239.9,652.0 240.4,652.2 240.9,651.8 241.4,651.4 241.9,652.5 242.4,653.5 242.9,654.0 243.4,653.3 243.9,652.2 244.4,651.1 244.9,650.2 245.4,651.4 245.9,653.8 246.4,654.3 246.9,653.3 247.4,652.3 247.9,651.8 248.4,650.5 248.9,648.4 249.4,648.5 249.9,649.9 250.4,649.7 250.9,648.0 251.4,646.5 251.9,645.5 252.4,644.4 252.9,642.9 253.4,642.0 253.9,642.1 254.4,641.6 254.9,641.3 255.4,641.4 255.9,639.6 256.4,637.4 256.9,635.8 257.4,634.4 257.9,633.9 258.4,632.8 258.9,631.0 259.4,630.2 259.9,628.9 260.4,625.9 260.9,624.1 261.4,623.6 261.9,621.6 262.4,618.6 262.9,615.2 263.4,611.8 263.9,608.6 264.4,605.1 264.9,601.4 265.4,598.8 265.9,597.1 266.4,592.8 266.9,586.8 267.4,581.1 267.9,574.1 268.4,566.4 268.9,559.3 269.4,552.4 269.9,544.4 270.4,535.7 270.9,528.6 271.4,525.8 271.9,525.8 272.4,527.0 272.9,531.0 273.4,536.2 273.9,541.6 274.4,547.7 274.9,553.3 275.4,556.1 275.9,562.1 276.4,570.6 276.9,578.2 277.4,584.4 277.9,589.8 278.4,593.8 278.9,598.2 279.4,604.1 279.9,609.4 280.4,612.8 280.9,615.2 281.4,617.5 281.9,621.3 282.4,625.2 282.9,626.7 283.4,628.1 283.9,632.2 284.4,636.5 284.9,639.0 285.4,639.6 285.9,639.9 286.4,642.3 286.9,644.6 287.4,645.6 287.9,646.9 288.4,648.0 288.9,649.5 289.4,650.7 289.9,652.3 290.4,654.5 290.9,654.8 291.4,654.3 291.9,654.7 292.4,655.6 292.9,656.0 293.4,655.6 293.9,656.5 294.4,658.4 294.9,658.4 295.4,656.9 295.9,657.5 296.4,659.6 296.9,661.2 297.4,661.5 297.9,661.3 298.4,662.0 298.9,662.2 299.4,662.1 299.9,662.9 300.4,664.0 300.9,664.4 301.4,664.0 301.9,663.1 302.4,662.5 302.9,662.2 303.4,662.4 303.9,662.7 304.4,663.2 304.9,663.9 305.4,664.2 305.9,664.0 306.4,663.8 306.9,663.8 307.4,663.5 307.9,663.5 308.4,663.3 308.9,662.7 309.4,661.4 309.9,659.7 310.4,660.2 310.9,661.9 311.4,661.7 311.9,660.4 312.4,659.5 312.9,659.9 313.4,660.3 313.9,658.2 314.4,656.7 314.9,656.0 315.4,654.2 315.9,653.1 316.4,652.8 316.9,652.5 317.4,652.1 317.9,651.4 318.4,649.9 318.9,649.8 319.4,650.0 319.9,648.0 320.4,644.2 320.9,642.3 321.4,643.3 321.9,642.9 322.4,641.5 322.9,640.6 323.4,639.0 323.9,637.1 324.4,635.7 324.9,634.8 325.4,633.5 325.9,632.5 326.4,632.2 326.9,630.1 327.4,627.9 327.9,627.6 328.4,626.5 328.9,623.8 329.4,622.0 329.9,620.7 330.4,619.0 330.9,617.5 331.4,615.5 331.9,613.7 332.4,611.9 332.9,608.3 333.4,605.8 333.9,605.4 334.4,603.2 334.9,598.6 335.4,594.3 335.9,591.5 336.4,589.7 336.9,586.4 337.4,582.7 337.9,580.6 338.4,578.5 338.9,575.9 339.4,573.3 339.9,569.8 340.4,566.0 340.9,563.4 341.4,562.1 341.9,561.1 342.4,559.8 342.9,558.1 343.4,556.6 343.9,556.2 344.4,556.1 344.9,555.0 345.4,555.1 345.9,557.1 346.4,557.3 346.9,556.3 347.4,555.8 347.9,553.9 348.4,551.4 348.9,549.5 349.4,547.5 349.9,545.6 350.4,543.9 350.9,541.4 351.4,538.1 351.9,534.4 352.4,530.2 352.9,525.1 353.4,520.2 353.9,515.5 354.4,508.6 354.9,500.1 355.4,491.3 355.9,481.0 356.4,470.0 356.9,459.1 357.4,446.9 357.9,432.2 358.4,418.2 358.9,407.4 359.4,396.9 359.9,384.9 360.4,372.8 360.9,361.8 361.4,354.8 361.9,351.2 362.4,351.3 362.9,357.8 363.4,368.7 363.9,380.4 364.4,391.8 364.9,401.3 365.4,410.6 365.9,421.7 366.4,436.6 366.9,460.4 367.4,488.8 367.9,513.0 368.4,525.8 368.9,533.7 369.4,541.3 369.9,549.7 370.4,558.7 370.9,568.3 371.4,576.2 371.9,581.5 372.4,587.6 372.9,595.6 373.4,602.8 373.9,608.0 374.4,612.0 374.9,617.6 375.4,624.3 375.9,628.6 376.4,631.1 376.9,633.1 377.4,635.7 377.9,639.0 378.4,642.2 378.9,645.8 379.4,648.9 379.9,650.1 380.4,651.0 380.9,652.3 381.4,652.5 381.9,653.9 382.4,655.9 382.9,655.7 383.4,656.0 383.9,658.2 384.4,659.8 384.9,660.4 385.4,661.2 385.9,661.5 386.4,661.9 386.9,663.7 387.4,664.7 387.9,664.6 388.4,665.2 388.9,667.1 389.4,669.2 389.9,670.3 390.4,670.8 390.9,671.3 391.4,671.7 391.9,672.5 392.4,672.4 392.9,672.3 393.4,673.7 393.9,675.4 394.4,676.9 394.9,677.2 395.4,676.6 395.9,677.7 396.4,679.0 396.9,679.4 397.4,680.3 397.9,680.8 398.4,681.6 398.9,683.0 399.4,683.6 399.9,684.7 400.4,685.1 400.9,684.8 401.4,685.4 401.9,686.3 402.4,687.5 402.9,688.3 403.4,689.0 403.9,691.4 404.4,693.5 404.9,693.5 405.4,691.8 405.9,691.1 406.4,693.0 406.9,695.2 407.4,696.2 407.9,696.6 408.4,697.5 408.9,697.8 409.4,698.5 409.9,700.1 410.4,700.1 410.9,701.0 411.4,702.2 411.9,701.7 412.4,702.9 412.9,704.5 413.4,704.6 413.9,705.1 414.4,705.4 414.9,705.7 415.4,706.1 415.9,705.9 416.4,706.4 416.9,707.5 417.4,707.8 417.9,707.2 418.4,706.5 418.9,707.7 419.4,709.5 419.9,709.8 420.4,708.9 420.9,707.9 421.4,708.2 421.9,709.9 422.4,710.9 422.9,710.8 423.4,710.8 423.9,710.8 424.4,710.6 424.9,709.9 425.4,709.6 425.9,709.9 426.4,711.2 426.9,711.4 427.4,710.0 427.9,709.8 428.4,709.8 428.9,709.3 429.4,709.5 429.9,710.9 430.4,713.0 430.9,713.6 431.4,712.3 431.9,711.8 432.4,712.1 432.9,711.9 433.4,712.4 433.9,713.4 434.4,713.3 434.9,712.4 435.4,712.9 435.9,713.7 436.4,713.1 436.9,712.2 437.4,711.7 437.9,711.9 438.4,712.6 438.9,713.0 439.4,713.5 439.9,712.8 440.4,710.7 440.9,710.7 441.4,712.8 441.9,714.0 442.4,714.6 442.9,713.8 443.4,712.9 443.9,713.5 444.4,713.5 444.9,712.9 445.4,712.9 445.9,714.3 446.4,714.7 446.9,714.5 447.4,714.8 447.9,714.0 448.4,712.7 448.9,711.0 449.4,711.8 449.9,715.5 450.4,716.7 450.9,714.6 451.4,712.5 451.9,713.1 452.4,714.1 452.9,714.0 453.4,713.4 453.9,712.6 454.4,712.2 454.9,712.0 455.4,712.7 455.9,713.2 456.4,712.6 456.9,712.4 457.4,712.7 457.9,713.6 458.4,714.3 458.9,714.1 459.4,713.0 459.9,711.7 460.4,712.4 460.9,713.3 461.4,712.4 461.9,711.6 462.4,712.5 462.9,713.6 463.4,712.8 463.9,712.2 464.4,713.7 464.9,714.5 465.4,714.4 465.9,714.1 466.4,713.4 466.9,712.4 467.4,711.9 467.9,711.6 468.4,711.9 468.9,712.6 469.4,712.6 469.9,712.8 470.4,713.1 470.9,712.0 471.4,710.5 471.9,710.2 472.4,709.8 472.9,709.8 473.4,710.8 473.9,710.4 474.4,709.7 474.9,710.9 475.4,712.4 475.9,712.8 476.4,713.0 476.9,712.3 477.4,711.9 477.9,712.7 478.4,713.0 478.9,711.9 479.4,710.8 479.9,710.4 480.4,710.4 480.9,711.2 481.4,712.7 481.9,714.3 482.4,714.6 482.9,713.9 483.4,713.4 483.9,714.2 484.4,715.8 484.9,716.4 485.4,715.7 485.9,714.0 486.4,713.2 486.9,713.4 487.4,712.9 487.9,711.9 488.4,711.6 488.9,712.5 489.4,713.0 489.9,712.8 490.4,711.3 490.9,710.3 491.4,712.2 491.9,712.8 492.4,710.8 492.9,710.2 493.4,711.1 493.9,710.7 494.4,711.1 494.9,713.5 495.4,713.7 495.9,711.0 496.4,710.0 496.9,712.6 497.4,714.8 497.9,714.6 498.4,713.3 498.9,711.9 499.4,711.1 499.9,711.7 500.4,713.7 500.9,712.7 501.4,709.2 501.9,709.3 502.4,711.7 502.9,712.4 503.4,712.2 503.9,713.7 504.4,714.8 504.9,712.6 505.4,710.3 505.9,710.3 506.4,710.2 506.9,710.7 507.4,711.9 507.9,711.5 508.4,710.9 508.9,711.1 509.4,711.5 509.9,712.1 510.4,712.3 510.9,712.2 511.4,712.3 511.9,712.6 512.4,712.2 512.9,711.5 513.4,711.4 513.9,710.8 514.4,711.5 514.9,713.4 515.4,712.5 515.9,711.3 516.4,711.0 516.9,711.1 517.4,711.5 517.9,711.1 518.4,710.1 518.9,709.3 519.4,709.1 519.9,710.7 520.4,712.0 520.9,710.3 521.4,709.5 521.9,711.6 522.4,711.9 522.9,709.2 523.4,708.6 523.9,710.5 524.4,710.6 524.9,708.6 525.4,707.6 525.9,709.1 526.4,710.9 526.9,711.3 527.4,711.1 527.9,710.6 528.4,710.4 528.9,710.7 529.4,710.3 529.9,709.6 530.4,708.6 530.9,708.7 531.4,709.5 531.9,708.9 532.4,708.6 532.9,709.6 533.4,709.7 533.9,708.4 534.4,707.8 534.9,709.6 535.4,710.0 535.9,706.4 536.4,703.8 536.9,703.7 537.4,703.3 537.9,702.4 538.4,703.0 538.9,704.9 539.4,706.1 539.9,706.2 540.4,705.1 540.9,704.3 541.4,704.5 541.9,703.8 542.4,702.9 542.9,703.7 543.4,705.9 543.9,706.5 544.4,705.1 544.9,705.0 545.4,705.8 545.9,706.8 546.4,707.4 546.9,707.3 547.4,706.4 547.9,705.4 548.4,705.0 548.9,706.1 549.4,709.0 549.9,710.3 550.4,709.7 550.9,710.4 551.4,711.1 551.9,709.2 552.4,706.8 552.9,705.9 553.4,705.3 553.9,705.6 554.4,706.8 554.9,708.2 555.4,708.7 555.9,708.0 556.4,708.4 556.9,709.2 557.4,709.2 557.9,707.9 558.4,706.6 558.9,708.4 559.4,710.6 559.9,709.9 560.4,708.5 560.9,709.2 561.4,709.9 561.9,709.8 562.4,710.1 562.9,709.7 563.4,709.5 563.9,711.3 564.4,712.6 564.9,710.9 565.4,709.9 565.9,710.5 566.4,710.2 566.9,708.9 567.4,708.0 567.9,709.2 568.4,709.5 568.9,709.4 569.4,710.6 569.9,710.3 570.4,708.9 570.9,707.4 571.4,707.0 571.9,707.4 572.4,708.0 572.9,709.9 573.4,710.5 573.9,708.5 574.4,707.2 574.9,707.6 575.4,708.1 575.9,709.1 576.4,709.4 576.9,708.9 577.4,709.6 577.9,711.3 578.4,711.2 578.9,709.8 579.4,709.4 579.9,708.5 580.4,708.3 580.9,709.8 581.4,710.0 581.9,709.2 582.4,709.0 582.9,708.0 583.4,708.2 583.9,710.3 584.4,710.4 584.9,709.6 585.4,710.1 585.9,710.0 586.4,708.9 586.9,708.3 587.4,708.2 587.9,708.2 588.4,709.1 588.9,710.0 589.4,708.8 589.9,708.1 590.4,708.0 590.9,707.7 591.4,708.0 591.9,707.3 592.4,706.5 592.9,706.3 593.4,706.7 593.9,708.0 594.4,708.5 594.9,707.2 595.4,705.7 595.9,705.5 596.4,705.6 596.9,706.5 597.4,707.6 597.9,706.8 598.4,706.4 598.9,707.4 599.4,708.4 599.9,707.1 600.4,704.5 600.9,704.4 601.4,704.4 601.9,703.9 602.4,703.9 602.9,702.3 603.4,701.0 603.9,702.1 604.4,704.6 604.9,705.7 605.4,697.7 605.9,697.1 606.4,700.8 606.9,702.0 607.4,703.1 607.9,702.6 608.4,701.2 608.9,700.1 609.4,700.0 609.9,700.8 610.4,699.4 610.9,699.1 611.4,702.3 611.9,703.5 612.4,702.8 612.9,701.8 613.4,701.2 613.9,701.5 614.4,701.8 614.9,702.8 615.4,701.2 615.9,699.4 616.4,701.7 616.9,703.0 617.4,701.7 617.9,701.1 618.4,700.0 618.9,697.6 619.4,697.2 619.9,699.3 620.4,699.8 620.9,698.8 621.4,697.6 621.9,698.0 622.4,699.4 622.9,698.7 623.4,697.2 623.9,697.0 624.4,698.3 624.9,698.9 625.4,697.9 625.9,696.8 626.4,697.1 626.9,698.2 627.4,697.5 627.9,697.8 628.4,698.9 628.9,696.9 629.4,694.6 629.9,694.7 630.4,696.8 630.9,698.5 631.4,697.5 631.9,696.6 632.4,697.7 632.9,697.5 633.4,696.5 633.9,697.3 634.4,697.5 634.9,695.0 635.4,692.9 635.9,694.7 636.4,696.4 636.9,696.5 637.4,697.1 637.9,695.2 638.4,693.5 638.9,694.3 639.4,695.0 639.9,694.7 640.4,694.5 640.9,694.4 641.4,693.3 641.9,692.1 642.4,691.0 642.9,691.1 643.4,691.8 643.9,691.3 644.4,691.0 644.9,691.4 645.4,692.1 645.9,692.7 646.4,692.9 646.9,692.5 647.4,691.1 647.9,688.9 648.4,687.8 648.9,688.1 649.4,687.4 649.9,687.7 650.4,688.9 650.9,687.8 651.4,688.2 651.9,689.0 652.4,689.5 652.9,690.5 653.4,688.5 653.9,687.3 654.4,688.0 654.9,685.8 655.4,683.6 655.9,683.6 656.4,684.4 656.9,685.3 657.4,684.6 657.9,683.4 658.4,685.3 658.9,686.5 659.4,684.2 659.9,683.4 660.4,684.6 660.9,684.3 661.4,681.9 661.9,680.2 662.4,680.8 662.9,682.8 663.4,681.7 663.9,677.7 664.4,676.1 664.9,676.6 665.4,677.5 665.9,679.1 666.4,680.6 666.9,681.4 667.4,680.3 667.9,679.0 668.4,678.2 668.9,675.8 669.4,674.4 669.9,675.8 670.4,675.8 670.9,674.4 671.4,675.4 671.9,675.5 672.4,673.9 672.9,673.2 673.4,672.8 673.9,673.0 674.4,672.7 674.9,671.9 675.4,672.5 675.9,673.0 676.4,670.9 676.9,667.2 677.4,666.7 677.9,668.6 678.4,668.1 678.9,666.8 679.4,666.0 679.9,665.5 680.4,665.7 680.9,665.5 681.4,665.6 681.9,665.7 682.4,665.4 682.9,664.8 683.4,664.7 683.9,665.6 684.4,664.7 684.9,664.5 685.4,665.2 685.9,664.4 686.4,663.9 686.9,662.0 687.4,660.5 687.9,662.1 688.4,663.0 688.9,660.5 689.4,658.4 689.9,659.3 690.4,660.7 690.9,661.3 691.4,661.6 691.9,661.1 692.4,659.0 692.9,658.2 693.4,660.1 693.9,660.3 694.4,658.9 694.9,657.8 695.4,657.2 695.9,658.2 696.4,659.8 696.9,659.9 697.4,659.3 697.9,658.8 698.4,657.1 698.9,655.9 699.4,656.1 699.9,656.6 700.4,656.5 700.9,657.0 701.4,656.0 701.9,654.2 702.4,655.6 702.9,655.3 703.4,652.3 703.9,650.7 704.4,650.3 704.9,650.1 705.4,651.3 705.9,653.4 706.4,654.1 706.9,653.3 707.4,653.6 707.9,654.8 708.4,654.4 708.9,652.6 709.4,650.9 709.9,648.8 710.4,648.2 710.9,649.5 711.4,649.4 711.9,648.4 712.4,649.2 712.9,650.1 713.4,649.5 713.9,648.6 714.4,649.1 714.9,651.5 715.4,652.3 715.9,650.3 716.4,650.0 716.9,651.2 717.4,650.0 717.9,647.5 718.4,646.4 718.9,648.5 719.4,650.5 719.9,650.8 720.4,651.5 720.9,650.0 721.4,648.9 721.9,649.6 722.4,648.9 722.9,647.8 723.4,646.4 723.9,645.5 724.4,646.6 724.9,647.5 725.4,646.2 725.9,645.5 726.4,647.3 726.9,647.9 727.4,647.3 727.9,645.9 728.4,646.2 728.9,648.7 729.4,649.4 729.9,650.1 730.4,651.8 730.9,651.7 731.4,650.6 731.9,650.2 732.4,651.1 732.9,652.1 733.4,651.7 733.9,651.1 734.4,651.7 734.9,652.6 735.4,652.9 735.9,653.4 736.4,653.9 736.9,653.8 737.4,653.5 737.9,652.7 738.4,651.3 738.9,651.1 739.4,652.3 739.9,654.2 740.4,654.8 740.9,653.4 741.4,652.2 741.9,653.1 742.4,654.7 742.9,654.1 743.4,653.5 743.9,653.5 744.4,652.8 744.9,653.3 745.4,654.0 745.9,653.4 746.4,653.5 746.9,656.1 747.4,656.5 747.9,654.4 748.4,654.8 748.9,657.4 749.4,658.2 749.9,655.8 750.4,654.3 750.9,656.5 751.4,658.6 751.9,657.7 752.4,657.9 752.9,657.7 753.4,654.0 753.9,653.7 754.4,657.5 754.9,658.1 755.4,656.7 755.9,657.6 756.4,658.5 756.9,658.0 757.4,657.3 757.9,657.1 758.4,657.7 758.9,658.6 759.4,660.3 759.9,662.1 760.4,660.9 760.9,659.1 761.4,661.1 761.9,663.1 762.4,663.1 762.9,663.0 763.4,662.9 763.9,662.3 764.4,662.1 764.9,662.1 765.4,662.4 765.9,662.8 766.4,660.8 766.9,660.1 767.4,662.7 767.9,663.7 768.4,663.9 768.9,664.3 769.4,663.4 769.9,662.7 770.4,663.6 770.9,664.5 771.4,665.7 771.9,665.9 772.4,663.9 772.9,663.5 773.4,663.9 773.9,662.5 774.4,661.2 774.9,662.5 775.4,664.0 775.9,663.8 776.4,663.1 776.9,662.7 777.4,662.5 777.9,661.6 778.4,661.2 778.9,662.1 779.4,663.4 779.9,663.1 780.4,661.4 780.9,662.6 781.4,665.0 781.9,664.2 782.4,661.6 782.9,660.1 783.4,660.5 783.9,661.4 784.4,661.7 784.9,661.8 785.4,661.1 785.9,659.0 786.4,657.7 786.9,657.3 787.4,657.7 787.9,659.3 788.4,661.8 788.9,663.4 789.4,661.8 789.9,660.6 790.4,660.5 790.9,659.2 791.4,659.4 791.9,660.5 792.4,660.2 792.9,658.9 793.4,657.0 793.9,655.8 794.4,656.1 794.9,656.7 795.4,657.2 795.9,657.2 796.4,655.9 796.9,654.9 797.4,655.4 797.9,654.0 798.4,651.8 798.9,651.7 799.4,653.5 799.9,655.6 800.4,654.7 800.9,652.5 801.4,652.5 801.9,651.8 802.4,649.9 802.9,648.8 803.4,648.3 803.9,647.6 804.4,647.0 804.9,647.8 805.4,648.6 805.9,648.4 806.4,649.4 806.9,650.6 807.4,650.0 807.9,649.9 808.4,650.7 808.9,650.9 809.4,649.7 809.9,647.4 810.4,645.9 810.9,645.9 811.4,646.5 811.9,647.0 812.4,647.7 812.9,648.1 813.4,648.3 813.9,649.2 814.4,648.2 814.9,646.5 815.4,644.6 815.9,643.2 816.4,645.4 816.9,646.6 817.4,644.4 817.9,644.2 818.4,646.2 818.9,645.3 819.4,644.3 819.9,644.9 820.4,643.5 820.9,642.6 821.4,642.8 821.9,642.6 822.4,643.3 822.9,644.1 823.4,643.3 823.9,642.4 824.4,643.2 824.9,644.4 825.4,644.2 825.9,643.4 826.4,644.0 826.9,644.0 827.4,642.4 827.9,641.2 828.4,641.9 828.9,641.8 829.4,639.8 829.9,638.7 830.4,640.3 830.9,642.6 831.4,643.0 831.9,642.9 832.4,642.6 832.9,642.3 833.4,642.1 833.9,642.7 834.4,644.0 834.9,644.0 835.4,642.8 835.9,642.2 836.4,643.0 836.9,643.3 837.4,644.2 837.9,645.3 838.4,644.5 838.9,645.3 839.4,647.7 839.9,648.4 840.4,647.7 840.9,648.3 841.4,648.6 841.9,646.8 842.4,645.5 842.9,647.5 843.4,651.3 843.9,652.1 844.4,651.3 844.9,652.2 845.4,653.8 845.9,655.1 846.4,657.8 846.9,659.7 847.4,658.8 847.9,658.3 848.4,658.7 848.9,659.1 849.4,660.2 849.9,661.6 850.4,663.1 850.9,665.0 851.4,665.7 851.9,667.0 852.4,669.0 852.9,668.9 853.4,671.1 853.9,673.6 854.4,673.4 854.9,675.3 855.4,677.0 855.9,675.4 856.4,675.0 856.9,677.9 857.4,678.9 857.9,679.3 858.4,680.9 858.9,681.6 859.4,682.5 859.9,683.3 860.4,683.5 860.9,683.6 861.4,684.0 861.9,684.8 862.4,686.2 862.9,688.1 863.4,689.3 863.9,691.1 864.4,692.7 864.9,691.3 865.4,690.0 865.9,692.0 866.4,694.8 866.9,697.0 867.4,698.4 867.9,698.3 868.4,698.1 868.9,697.9 869.4,698.3 869.9,700.6 870.4,702.0 870.9,701.7 871.4,701.6 871.9,701.7 872.4,702.5 872.9,702.9 873.4,703.3 873.9,705.3 874.4,707.6 874.9,708.4 875.4,707.1 875.9,706.4 876.4,707.1 876.9,707.4 877.4,706.9 877.9,705.9 878.4,706.0 878.9,707.2 879.4,707.6 879.9,707.0 880.4,707.3 880.9,709.4 881.4,710.9 881.9,711.2 882.4,712.2 882.9,713.2 883.4,712.6 883.9,711.2 884.4,709.8 884.9,708.9 885.4,710.4 885.9,711.9 886.4,712.4 886.9,714.8 887.4,715.5 887.9,714.2 888.4,713.4 888.9,711.7 889.4,711.3 889.9,712.9 890.4,713.8 890.9,713.6 891.4,714.6 891.9,716.9 892.4,716.8 892.9,716.2 893.4,716.5 893.9,716.1 894.4,715.2 894.9,714.0 895.4,714.6 895.9,716.6 896.4,715.2 896.9,713.5 897.4,713.7 897.9,715.8 898.4,719.0 898.9,720.1 899.4,720.5 899.9,720.9 900.4,719.9 900.9,718.7 901.4,717.6 901.9,717.4 902.4,717.7 902.9,717.9 903.4,718.7 903.9,720.6 904.4,720.8 904.9,718.4 905.4,717.5 905.9,719.8 906.4,721.0 906.9,719.2 907.4,718.3 907.9,720.2 908.4,720.3 908.9,718.5 909.4,718.4 909.9,718.2 910.4,720.3 910.9,722.7 911.4,722.0 911.9,721.0 912.4,720.5 912.9,722.0 913.4,724.6 913.9,723.9 914.4,721.1 914.9,720.3 915.4,722.3 915.9,724.1 916.4,723.6 916.9,722.7 917.4,720.8 917.9,720.4 918.4,722.4 918.9,721.9 919.4,720.2 919.9,719.9 920.4,720.1 920.9,719.7 921.4,720.3 921.9,722.8 922.4,724.0 922.9,723.4 923.4,722.6 923.9,722.6 924.4,723.5 924.9,724.5 925.4,724.5 925.9,723.1 926.4,721.2 926.9,720.1 927.4,720.4 927.9,721.0 928.4,720.9 928.9,721.9 929.4,724.4 929.9,723.0 930.4,719.8 930.9,719.4 931.4,720.8 931.9,723.2 932.4,724.0 932.9,723.0 933.4,723.2 933.9,724.0 934.4,725.5 934.9,726.0 935.4,725.1 935.9,724.5 936.4,723.7 936.9,722.2 937.4,722.0 937.9,723.2 938.4,723.4 938.9,723.0 939.4,723.2 939.9,722.7 940.4,721.9 940.9,723.1 941.4,724.7 941.9,725.1 942.4,724.7 942.9,722.4 943.4,721.4 943.9,723.7 944.4,724.6 944.9,724.0 945.4,725.0 945.9,726.3 946.4,725.9 946.9,724.6 947.4,722.8 947.9,721.9 948.4,723.2 948.9,725.4 949.4,725.3 949.9,722.9 950.4,721.6 950.9,722.9 951.4,723.1 951.9,720.8 952.4,722.6 952.9,726.7 953.4,725.6 953.9,723.0 954.4,723.9 954.9,725.8 955.4,725.5 955.9,723.9 956.4,723.8 956.9,725.0 957.4,725.5 957.9,725.8 958.4,725.2 958.9,725.1 959.4,725.7 959.9,725.1 960.4,724.3 960.9,723.8 961.4,723.7 961.9,723.6 962.4,723.7 962.9,725.3 963.4,727.7 963.9,728.8 964.4,727.6 964.9,726.3 965.4,726.7 965.9,727.3 966.4,726.4 966.9,725.2 967.4,725.4 967.9,725.6 968.4,725.5 968.9,725.4 969.4,725.4 969.9,723.7 970.4,721.5 970.9,722.1 971.4,723.8 971.9,723.2 972.4,721.1 972.9,721.3 973.4,722.9 973.9,724.2 974.4,724.4 974.9,722.9 975.4,722.5 975.9,724.0 976.4,725.2 976.9,725.4 977.4,725.2 977.9,724.8 978.4,724.3 978.9,724.7 979.4,725.5 979.9,724.9 980.4,723.9 980.9,723.6 981.4,723.6 981.9,724.6 982.4,727.6 982.9,729.3 983.4,727.4 983.9,726.0 984.4,726.3 984.9,726.8 985.4,727.0 985.9,726.9 986.4,727.7 986.9,729.3 987.4,727.2 987.9,723.9 988.4,724.3 988.9,723.8 989.4,721.6 989.9,722.1 990.4,723.3 990.9,723.8 991.4,723.5 991.9,723.2 992.4,725.3 992.9,726.7 993.4,726.0" stroke="#00CBCC"/>
</g>
<g class="axis">
<path d="M95.8,25.8 V745.3 H994.4"/>
<line x1="140.2" y1="745" x2="140.2" y2="759.5"/>
<line x1="240.5" y1="745" x2="240.5" y2="759.5"/>
<line x1="340.8" y1="745" x2="340.8" y2="759.5"/>
<line x1="441.1" y1="745" x2="441.1" y2="759.5"/>
<line x1="541.4" y1="745" x2="541.4" y2="759.5"/>
<line x1="641.7" y1="745" x2="641.7" y2="759.5"/>
<line x1="742.0" y1="745" x2="742.0" y2="759.5"/>
<line x1="842.3" y1="745" x2="842.3" y2="759.5"/>
<line x1="942.6" y1="745" x2="942.6" y2="759.5"/>
<line x1="190.3" y1="745" x2="190.3" y2="752.3"/>
<line x1="290.6" y1="745" x2="290.6" y2="752.3"/>
<line x1="390.9" y1="745" x2="390.9" y2="752.3"/>
<line x1="491.2" y1="745" x2="491.2" y2="752.3"/>
<line x1="591.5" y1="745" x2="591.5" y2="752.3"/>
<line x1="691.8" y1="745" x2="691.8" y2="752.3"/>
<line x1="792.1" y1="745" x2="792.1" y2="752.3"/>
<line x1="892.4" y1="745" x2="892.4" y2="752.3"/>
<line x1="992.8" y1="745" x2="992.8" y2="752.3"/>
</g>
<g class="ticklabels">
<text x="140.2" y="795" text-anchor="middle">200</text>
<text x="240.5" y="795" text-anchor="middle">400</text>
<text x="340.8" y="795" text-anchor="middle">600</text>
<text x="441.1" y="795" text-anchor="middle">800</text>
<text x="541.4" y="795" text-anchor="middle">1000</text>
<text x="641.7" y="795" text-anchor="middle">1200</text>
<text x="742.0" y="795" text-anchor="middle">1400</text>
<text x="842.3" y="795" text-anchor="middle">1600</text>
<text x="942.6" y="795" text-anchor="middle">1800</text>
</g>
<text class="title" x="354" y="860.8">Raman shift, cm<tspan class="sup" dy="-18">−1</tspan></text>
<text class="title" id="ylab" textLength="338.3" lengthAdjust="spacing" transform="translate(34.3,520.3) rotate(-90)">Intensity, ab.un.</text>
<g class="legend">
<rect x="637.6" y="0.7" width="382.2" height="390.3" fill="#ffffff" stroke="#333333" stroke-width="1.9"/>
<line x1="642.5" y1="28.8" x2="734" y2="28.8" stroke="#515151" stroke-width="3.4" stroke-linecap="round"/>
<text x="745.0" y="42.7">Pristine</text>
<line x1="642.5" y1="84.5" x2="734" y2="84.5" stroke="#F14040" stroke-width="3.4" stroke-linecap="round"/>
<text x="745.8" y="98.7">1<tspan class="mul" dx="-4.6" dy="7">×</tspan><tspan dx="-2.0" dy="-7">10</tspan><tspan class="sup" dy="-17.3">15</tspan><tspan dy="17.3" dx="-1"> ion/cm</tspan><tspan class="sup" dy="-17.3">2</tspan></text>
<line x1="642.5" y1="140.3" x2="734" y2="140.3" stroke="#1A6FDF" stroke-width="3.4" stroke-linecap="round"/>
<text x="745.8" y="154.3">1<tspan class="mul" dx="-4.6" dy="7">×</tspan><tspan dx="-2.0" dy="-7">10</tspan><tspan class="sup" dy="-17.3">16</tspan><tspan dy="17.3" dx="-1"> ion/cm</tspan><tspan class="sup" dy="-17.3">2</tspan></text>
<line x1="642.5" y1="196.1" x2="734" y2="196.1" stroke="#37AD6B" stroke-width="3.4" stroke-linecap="round"/>
<text x="745.8" y="209.9">1<tspan class="mul" dx="-4.6" dy="7">×</tspan><tspan dx="-2.0" dy="-7">10</tspan><tspan class="sup" dy="-17.3">17</tspan><tspan dy="17.3" dx="-1"> ion/cm</tspan><tspan class="sup" dy="-17.3">2</tspan></text>
<line x1="642.5" y1="251.8" x2="734" y2="251.8" stroke="#B177DE" stroke-width="3.4" stroke-linecap="round"/>
<text x="745.8" y="265.6">5<tspan class="mul" dx="-4.6" dy="7">×</tspan><tspan dx="-2.0" dy="-7">10</tspan><tspan class="sup" dy="-17.3">17</tspan><tspan dy="17.3" dx="-1"> ion/cm</tspan><tspan class="sup" dy="-17.3">2</tspan></text>
<line x1="642.5" y1="307.6" x2="734" y2="307.6" stroke="#CC9900" stroke-width="3.4" stroke-linecap="round"/>
<text x="745.8" y="321.2">7<tspan class="mul" dx="-4.6" dy="7">×</tspan><tspan dx="-2.0" dy="-7">10</tspan><tspan class="sup" dy="-17.3">17</tspan><tspan dy="17.3" dx="-1"> ion/cm</tspan><tspan class="sup" dy="-17.3">2</tspan></text>
<line x1="642.5" y1="363.3" x2="734" y2="363.3" stroke="#00CBCC" stroke-width="3.4" stroke-linecap="round"/>
<text x="745.8" y="376.9">1<tspan class="mul" dx="-4.6" dy="7">×</tspan><tspan dx="-2.0" dy="-7">10</tspan><tspan class="sup" dy="-17.3">18</tspan><tspan dy="17.3" dx="-1"> ion/cm</tspan><tspan class="sup" dy="-17.3">2</tspan></text>
</g>
</svg>
</body>
</html>
